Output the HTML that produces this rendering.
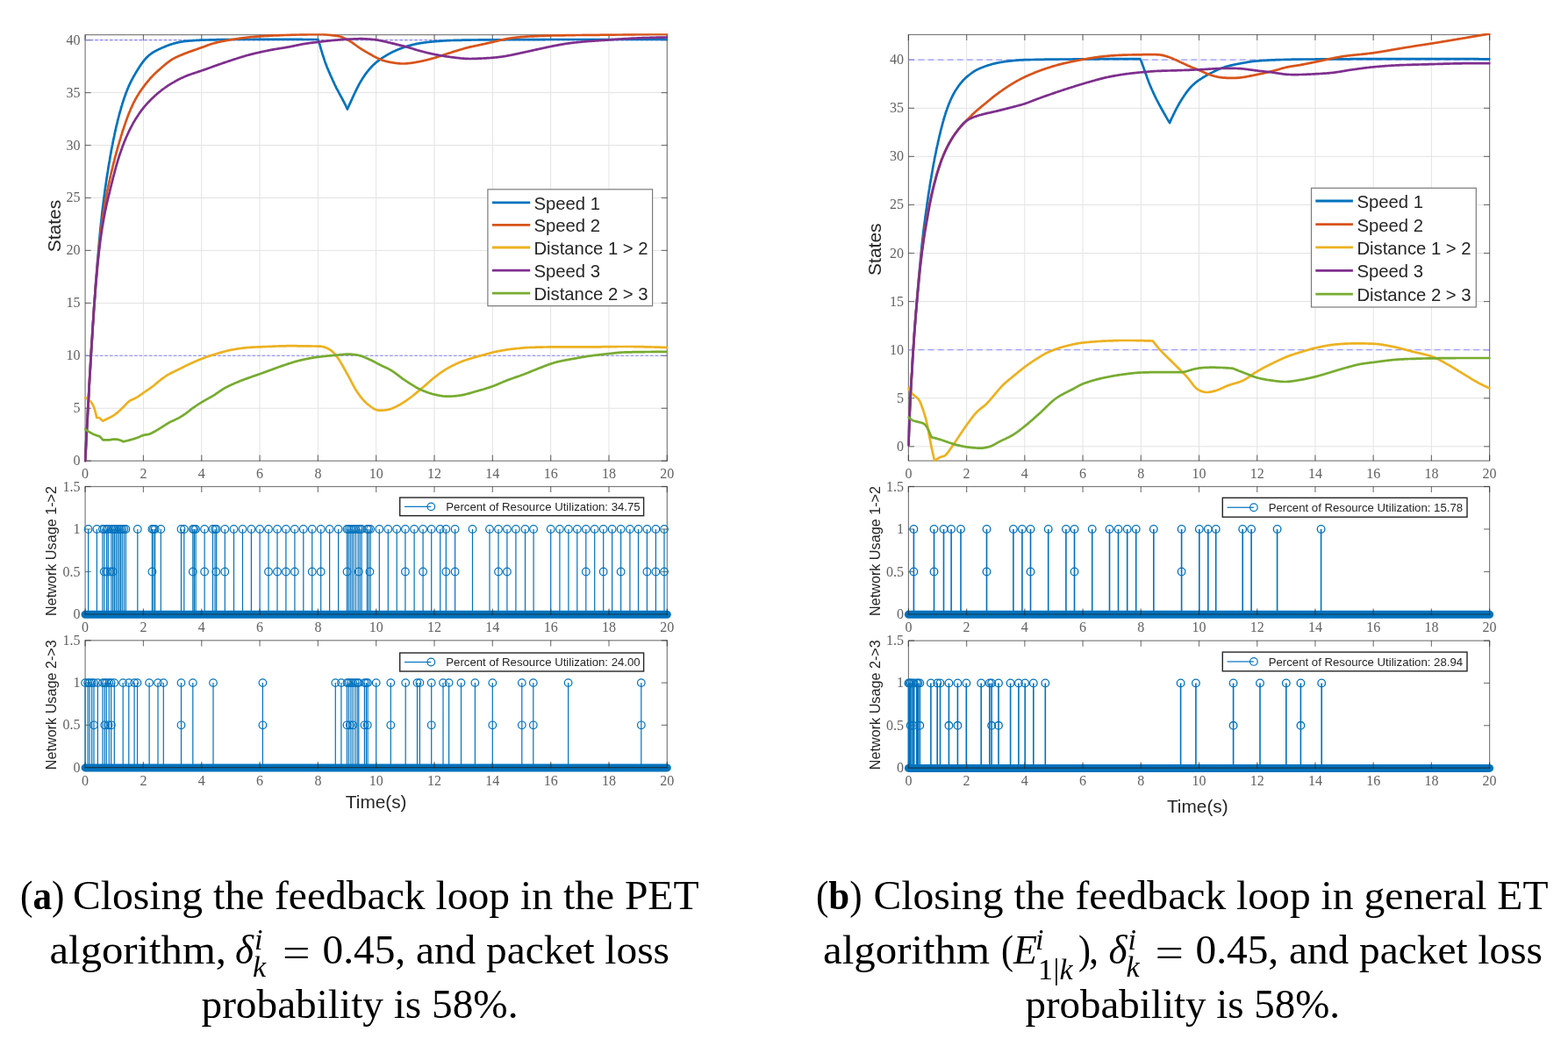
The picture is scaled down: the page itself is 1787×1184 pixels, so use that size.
<!DOCTYPE html>
<html><head><meta charset="utf-8"><title>Figure</title>
<style>html,body{margin:0;padding:0;background:#fff;}svg{display:block;}</style>
</head><body>
<svg width="1787" height="1184" viewBox="0 0 1787 1184">
<rect width="1787" height="1184" fill="#fff"/>
<clipPath id="cA"><rect x="96.1" y="38.15" width="665.2" height="488.55"/></clipPath>
<g stroke="#e3e3e3" stroke-width="1"><line x1="163.42" y1="39.65" x2="163.42" y2="525.2"/><line x1="229.74" y1="39.65" x2="229.74" y2="525.2"/><line x1="296.06" y1="39.65" x2="296.06" y2="525.2"/><line x1="362.38" y1="39.65" x2="362.38" y2="525.2"/><line x1="428.7" y1="39.65" x2="428.7" y2="525.2"/><line x1="495.02" y1="39.65" x2="495.02" y2="525.2"/><line x1="561.34" y1="39.65" x2="561.34" y2="525.2"/><line x1="627.66" y1="39.65" x2="627.66" y2="525.2"/><line x1="693.98" y1="39.65" x2="693.98" y2="525.2"/><line x1="97.1" y1="465.26" x2="760.3" y2="465.26"/><line x1="97.1" y1="405.31" x2="760.3" y2="405.31"/><line x1="97.1" y1="345.37" x2="760.3" y2="345.37"/><line x1="97.1" y1="285.42" x2="760.3" y2="285.42"/><line x1="97.1" y1="225.48" x2="760.3" y2="225.48"/><line x1="97.1" y1="165.53" x2="760.3" y2="165.53"/><line x1="97.1" y1="105.59" x2="760.3" y2="105.59"/><line x1="97.1" y1="45.64" x2="760.3" y2="45.64"/></g>
<g stroke="#262626" stroke-opacity="0.6" stroke-width="1.2" fill="none"><rect x="97.1" y="39.65" width="663.2" height="485.55" fill="none"/><line x1="97.1" y1="525.2" x2="97.1" y2="518.6"/><line x1="97.1" y1="39.65" x2="97.1" y2="46.25"/><line x1="163.42" y1="525.2" x2="163.42" y2="518.6"/><line x1="163.42" y1="39.65" x2="163.42" y2="46.25"/><line x1="229.74" y1="525.2" x2="229.74" y2="518.6"/><line x1="229.74" y1="39.65" x2="229.74" y2="46.25"/><line x1="296.06" y1="525.2" x2="296.06" y2="518.6"/><line x1="296.06" y1="39.65" x2="296.06" y2="46.25"/><line x1="362.38" y1="525.2" x2="362.38" y2="518.6"/><line x1="362.38" y1="39.65" x2="362.38" y2="46.25"/><line x1="428.7" y1="525.2" x2="428.7" y2="518.6"/><line x1="428.7" y1="39.65" x2="428.7" y2="46.25"/><line x1="495.02" y1="525.2" x2="495.02" y2="518.6"/><line x1="495.02" y1="39.65" x2="495.02" y2="46.25"/><line x1="561.34" y1="525.2" x2="561.34" y2="518.6"/><line x1="561.34" y1="39.65" x2="561.34" y2="46.25"/><line x1="627.66" y1="525.2" x2="627.66" y2="518.6"/><line x1="627.66" y1="39.65" x2="627.66" y2="46.25"/><line x1="693.98" y1="525.2" x2="693.98" y2="518.6"/><line x1="693.98" y1="39.65" x2="693.98" y2="46.25"/><line x1="760.3" y1="525.2" x2="760.3" y2="518.6"/><line x1="760.3" y1="39.65" x2="760.3" y2="46.25"/><line x1="97.1" y1="525.2" x2="103.7" y2="525.2"/><line x1="760.3" y1="525.2" x2="753.7" y2="525.2"/><line x1="97.1" y1="465.26" x2="103.7" y2="465.26"/><line x1="760.3" y1="465.26" x2="753.7" y2="465.26"/><line x1="97.1" y1="405.31" x2="103.7" y2="405.31"/><line x1="760.3" y1="405.31" x2="753.7" y2="405.31"/><line x1="97.1" y1="345.37" x2="103.7" y2="345.37"/><line x1="760.3" y1="345.37" x2="753.7" y2="345.37"/><line x1="97.1" y1="285.42" x2="103.7" y2="285.42"/><line x1="760.3" y1="285.42" x2="753.7" y2="285.42"/><line x1="97.1" y1="225.48" x2="103.7" y2="225.48"/><line x1="760.3" y1="225.48" x2="753.7" y2="225.48"/><line x1="97.1" y1="165.53" x2="103.7" y2="165.53"/><line x1="760.3" y1="165.53" x2="753.7" y2="165.53"/><line x1="97.1" y1="105.59" x2="103.7" y2="105.59"/><line x1="760.3" y1="105.59" x2="753.7" y2="105.59"/><line x1="97.1" y1="45.64" x2="103.7" y2="45.64"/><line x1="760.3" y1="45.64" x2="753.7" y2="45.64"/></g>
<g font-family="'Liberation Serif', serif" font-size="16" fill="#626262"><text x="97.1" y="544.7" text-anchor="middle">0</text><text x="163.42" y="544.7" text-anchor="middle">2</text><text x="229.74" y="544.7" text-anchor="middle">4</text><text x="296.06" y="544.7" text-anchor="middle">6</text><text x="362.38" y="544.7" text-anchor="middle">8</text><text x="428.7" y="544.7" text-anchor="middle">10</text><text x="495.02" y="544.7" text-anchor="middle">12</text><text x="561.34" y="544.7" text-anchor="middle">14</text><text x="627.66" y="544.7" text-anchor="middle">16</text><text x="693.98" y="544.7" text-anchor="middle">18</text><text x="760.3" y="544.7" text-anchor="middle">20</text><text x="91.5" y="530.2" text-anchor="end">0</text><text x="91.5" y="470.26" text-anchor="end">5</text><text x="91.5" y="410.31" text-anchor="end">10</text><text x="91.5" y="350.37" text-anchor="end">15</text><text x="91.5" y="290.42" text-anchor="end">20</text><text x="91.5" y="230.48" text-anchor="end">25</text><text x="91.5" y="170.53" text-anchor="end">30</text><text x="91.5" y="110.59" text-anchor="end">35</text><text x="91.5" y="50.64" text-anchor="end">40</text></g>
<line x1="97.1" y1="45.64" x2="760.3" y2="45.64" stroke="#7f7fff" stroke-width="1.1" stroke-dasharray="3.4,2.2"/>
<line x1="97.1" y1="405.31" x2="760.3" y2="405.31" stroke="#7f7fff" stroke-width="1.1" stroke-dasharray="3.4,2.2"/>
<polyline points="97.1,525.2 97.8,512.1 98.4,499.3 99.1,486.8 99.8,474.6 100.4,462.6 101.1,450.9 101.7,439.0 102.4,427.3 103.1,415.8 103.7,404.6 104.4,393.7 105.1,383.0 105.7,372.5 106.4,362.4 107.0,352.5 107.7,342.8 108.4,333.5 109.0,324.4 109.7,315.6 110.4,307.1 111.0,298.9 111.7,291.0 112.4,283.3 113.0,275.9 113.7,268.8 114.3,262.0 115.0,255.5 115.7,249.2 116.3,243.2 117.0,237.5 117.7,232.0 118.3,226.7 119.0,221.6 119.6,216.7 120.3,212.0 121.0,207.4 121.6,203.0 122.3,198.7 123.0,194.5 123.6,190.3 124.3,186.3 125.0,182.4 125.6,178.5 126.3,174.8 126.9,171.2 127.6,167.7 128.3,164.3 128.9,160.9 129.6,157.7 130.3,154.5 130.9,151.4 131.6,148.4 132.2,145.5 132.9,142.6 133.6,139.8 134.2,137.1 134.9,134.5 135.6,131.9 136.2,129.4 136.9,127.0 137.6,124.6 138.2,122.3 138.9,120.1 139.5,118.0 140.2,115.9 140.9,113.8 141.5,111.9 142.2,109.9 142.9,108.1 143.5,106.3 144.2,104.5 144.9,102.8 145.5,101.2 146.2,99.6 146.8,98.1 147.5,96.6 148.2,95.2 148.8,93.8 149.5,92.5 150.2,91.2 150.8,89.9 151.5,88.7 152.1,87.5 152.8,86.3 153.5,85.2 154.1,84.1 154.8,82.9 155.5,81.8 156.1,80.7 156.8,79.6 157.5,78.6 158.1,77.5 158.8,76.5 159.4,75.4 160.1,74.4 160.8,73.5 161.4,72.5 162.1,71.6 162.8,70.7 163.4,69.9 164.1,69.0 164.7,68.2 165.4,67.5 166.1,66.7 166.7,66.0 167.4,65.3 168.1,64.7 168.7,64.0 169.4,63.4 170.1,62.8 170.7,62.3 171.4,61.8 172.0,61.3 172.7,60.8 173.4,60.3 174.0,59.9 174.7,59.5 175.4,59.1 176.0,58.7 176.7,58.4 177.3,58.0 178.0,57.7 178.7,57.3 179.3,57.0 180.0,56.7 180.7,56.3 181.3,56.0 182.0,55.7 182.7,55.4 183.3,55.1 184.0,54.8 184.6,54.5 185.3,54.3 186.0,54.0 186.6,53.7 187.3,53.4 188.0,53.1 188.6,52.9 189.3,52.6 189.9,52.3 190.6,52.1 191.3,51.8 191.9,51.6 192.6,51.3 193.3,51.1 193.9,50.8 194.6,50.6 195.3,50.4 195.9,50.2 196.6,50.0 197.2,49.8 197.9,49.6 198.6,49.4 199.2,49.2 199.9,49.1 200.6,48.9 201.2,48.7 201.9,48.6 202.5,48.4 203.2,48.3 203.9,48.1 204.5,48.0 205.2,47.8 205.9,47.7 206.5,47.6 207.2,47.5 207.9,47.4 208.5,47.3 209.2,47.2 209.8,47.1 210.5,47.0 211.2,47.0 211.8,46.9 212.5,46.8 213.2,46.8 213.8,46.7 214.5,46.6 215.1,46.6 215.8,46.5 216.5,46.5 217.1,46.4 217.8,46.4 218.5,46.3 219.1,46.3 219.8,46.2 220.5,46.1 221.1,46.1 221.8,46.1 222.4,46.0 223.1,46.0 223.8,45.9 224.4,45.9 225.1,45.9 225.8,45.8 226.4,45.8 227.1,45.8 227.8,45.7 228.4,45.7 229.1,45.7 229.7,45.7 230.4,45.6 231.1,45.6 231.7,45.6 232.4,45.6 233.1,45.6 233.7,45.6 234.4,45.5 235.0,45.5 235.7,45.5 236.4,45.5 237.0,45.5 237.7,45.5 238.4,45.4 239.0,45.4 239.7,45.4 240.4,45.4 241.0,45.4 241.7,45.4 242.3,45.4 243.0,45.3 243.7,45.3 244.3,45.3 245.0,45.3 245.7,45.3 246.3,45.3 247.0,45.3 247.6,45.2 248.3,45.2 249.0,45.2 249.6,45.2 250.3,45.2 251.0,45.2 251.6,45.2 252.3,45.2 253.0,45.1 253.6,45.1 254.3,45.1 254.9,45.1 255.6,45.1 256.3,45.1 256.9,45.1 257.6,45.1 258.3,45.1 258.9,45.1 259.6,45.1 260.2,45.1 260.9,45.1 261.6,45.1 262.2,45.0 262.9,45.0 263.6,45.0 264.2,45.0 264.9,45.0 265.6,45.0 266.2,45.0 266.9,45.0 267.5,45.0 268.2,45.0 268.9,45.0 269.5,45.0 270.2,45.0 270.9,45.0 271.5,45.0 272.2,45.0 272.8,45.0 273.5,45.0 274.2,45.0 274.8,45.0 275.5,45.0 276.2,45.0 276.8,45.0 277.5,45.0 278.2,45.0 278.8,45.0 279.5,45.0 280.1,45.0 280.8,45.0 281.5,45.0 282.1,45.0 282.8,45.0 283.5,45.0 284.1,45.0 284.8,45.0 285.4,45.0 286.1,45.0 286.8,45.0 287.4,45.0 288.1,45.0 288.8,44.9 289.4,44.9 290.1,44.9 290.8,44.9 291.4,44.9 292.1,44.9 292.7,44.9 293.4,44.9 294.1,44.9 294.7,44.9 295.4,44.9 296.1,44.9 296.7,44.9 297.4,44.9 298.0,44.9 298.7,44.9 299.4,44.9 300.0,44.9 300.7,44.9 301.4,44.9 302.0,44.9 302.7,44.9 303.4,44.9 304.0,44.9 304.7,44.9 305.3,44.9 306.0,44.9 306.7,44.9 307.3,44.9 308.0,44.9 308.7,44.9 309.3,44.9 310.0,44.9 310.7,44.9 311.3,44.9 312.0,44.9 312.6,44.9 313.3,44.9 314.0,44.9 314.6,44.9 315.3,44.9 316.0,44.9 316.6,44.9 317.3,44.9 317.9,44.9 318.6,44.9 319.3,44.9 319.9,44.9 320.6,44.9 321.3,44.9 321.9,44.9 322.6,44.9 323.3,44.9 323.9,44.9 324.6,44.9 325.2,44.9 325.9,44.9 326.6,44.9 327.2,44.9 327.9,44.9 328.6,44.9 329.2,44.9 329.9,44.9 330.5,44.9 331.2,44.9 331.9,44.9 332.5,44.9 333.2,44.9 333.9,44.9 334.5,44.9 335.2,44.9 335.9,44.9 336.5,44.9 337.2,44.9 337.8,44.9 338.5,44.9 339.2,44.9 339.8,44.9 340.5,44.9 341.2,44.9 341.8,44.9 342.5,44.9 343.1,44.9 343.8,44.9 344.5,44.9 345.1,45.0 345.8,45.0 346.5,45.0 347.1,45.0 347.8,45.0 348.5,45.0 349.1,45.0 349.8,45.0 350.4,45.0 351.1,45.0 351.8,45.0 352.4,45.0 353.1,45.0 353.8,45.0 354.4,45.0 355.1,45.0 355.7,45.0 356.4,45.0 357.1,45.0 357.7,45.0 358.4,45.0 359.1,45.0 359.7,45.0 360.4,45.0 361.1,45.0 361.7,45.0 362.4,45.0 362.4,45.0 363.0,46.7 363.7,48.7 364.4,50.9 365.1,53.3 365.7,55.7 366.4,57.9 367.1,60.1 367.7,62.2 368.4,64.3 369.1,66.4 369.7,68.4 370.4,70.4 371.1,72.2 371.8,74.0 372.4,75.7 373.1,77.4 373.8,79.0 374.4,80.5 375.1,82.1 375.8,83.6 376.4,85.2 377.1,86.7 377.8,88.2 378.5,89.7 379.1,91.2 379.8,92.7 380.5,94.1 381.1,95.6 381.8,97.0 382.5,98.4 383.1,99.8 383.8,101.1 384.5,102.4 385.2,103.7 385.8,104.9 386.5,106.1 387.2,107.4 387.8,108.6 388.5,109.8 389.2,111.0 389.8,112.2 390.5,113.5 391.2,114.8 391.9,116.1 392.5,117.3 393.2,118.7 393.9,120.0 394.5,121.5 395.2,123.0 395.9,124.5 395.9,124.5 396.5,123.0 397.2,121.5 397.9,120.1 398.5,118.6 399.2,117.1 399.9,115.7 400.5,114.2 401.2,112.8 401.8,111.3 402.5,109.9 403.2,108.4 403.8,107.0 404.5,105.6 405.2,104.2 405.8,102.8 406.5,101.5 407.2,100.1 407.8,98.8 408.5,97.6 409.1,96.3 409.8,95.1 410.5,93.9 411.1,92.8 411.8,91.7 412.5,90.6 413.1,89.5 413.8,88.5 414.5,87.5 415.1,86.5 415.8,85.6 416.4,84.6 417.1,83.7 417.8,82.8 418.4,82.0 419.1,81.1 419.8,80.3 420.4,79.5 421.1,78.7 421.8,78.0 422.4,77.2 423.1,76.5 423.8,75.8 424.4,75.1 425.1,74.4 425.7,73.8 426.4,73.2 427.1,72.6 427.7,72.0 428.4,71.4 429.1,70.8 429.7,70.3 430.4,69.8 431.1,69.3 431.7,68.8 432.4,68.3 433.0,67.8 433.7,67.3 434.4,66.9 435.0,66.4 435.7,66.0 436.4,65.5 437.0,65.1 437.7,64.7 438.4,64.3 439.0,63.9 439.7,63.5 440.3,63.1 441.0,62.7 441.7,62.3 442.3,61.9 443.0,61.6 443.7,61.2 444.3,60.8 445.0,60.5 445.7,60.1 446.3,59.8 447.0,59.5 447.6,59.1 448.3,58.8 449.0,58.5 449.6,58.2 450.3,57.9 451.0,57.6 451.6,57.3 452.3,57.0 453.0,56.7 453.6,56.4 454.3,56.2 455.0,55.9 455.6,55.6 456.3,55.4 456.9,55.1 457.6,54.9 458.3,54.6 458.9,54.4 459.6,54.1 460.3,53.9 460.9,53.7 461.6,53.5 462.3,53.3 462.9,53.0 463.6,52.8 464.2,52.6 464.9,52.4 465.6,52.2 466.2,52.1 466.9,51.9 467.6,51.7 468.2,51.5 468.9,51.3 469.6,51.2 470.2,51.0 470.9,50.8 471.5,50.7 472.2,50.5 472.9,50.4 473.5,50.2 474.2,50.1 474.9,49.9 475.5,49.8 476.2,49.7 476.9,49.5 477.5,49.4 478.2,49.3 478.8,49.2 479.5,49.1 480.2,49.0 480.8,48.9 481.5,48.8 482.2,48.7 482.8,48.6 483.5,48.5 484.2,48.5 484.8,48.4 485.5,48.3 486.1,48.2 486.8,48.1 487.5,48.0 488.1,48.0 488.8,47.9 489.5,47.8 490.1,47.7 490.8,47.7 491.5,47.6 492.1,47.5 492.8,47.5 493.5,47.4 494.1,47.3 494.8,47.3 495.4,47.2 496.1,47.2 496.8,47.1 497.4,47.1 498.1,47.0 498.8,47.0 499.4,46.9 500.1,46.9 500.8,46.8 501.4,46.8 502.1,46.7 502.7,46.7 503.4,46.6 504.1,46.6 504.7,46.5 505.4,46.5 506.1,46.4 506.7,46.4 507.4,46.3 508.1,46.3 508.7,46.3 509.4,46.2 510.0,46.2 510.7,46.2 511.4,46.1 512.0,46.1 512.7,46.1 513.4,46.1 514.0,46.0 514.7,46.0 515.4,46.0 516.0,46.0 516.7,46.0 517.3,45.9 518.0,45.9 518.7,45.9 519.3,45.9 520.0,45.9 520.7,45.9 521.3,45.9 522.0,45.8 522.7,45.8 523.3,45.8 524.0,45.8 524.6,45.8 525.3,45.8 526.0,45.8 526.6,45.7 527.3,45.7 528.0,45.7 528.6,45.7 529.3,45.7 530.0,45.7 530.6,45.7 531.3,45.6 532.0,45.6 532.6,45.6 533.3,45.6 533.9,45.6 534.6,45.6 535.3,45.6 535.9,45.6 536.6,45.6 537.3,45.5 537.9,45.5 538.6,45.5 539.3,45.5 539.9,45.5 540.6,45.5 541.2,45.5 541.9,45.5 542.6,45.5 543.2,45.5 543.9,45.5 544.6,45.5 545.2,45.4 545.9,45.4 546.6,45.4 547.2,45.4 547.9,45.4 548.5,45.4 549.2,45.4 549.9,45.4 550.5,45.4 551.2,45.4 551.9,45.4 552.5,45.4 553.2,45.4 553.9,45.4 554.5,45.4 555.2,45.4 555.8,45.4 556.5,45.4 557.2,45.4 557.8,45.4 558.5,45.4 559.2,45.3 559.8,45.3 560.5,45.3 561.2,45.3 561.8,45.3 562.5,45.3 563.2,45.3 563.8,45.3 564.5,45.3 565.1,45.3 565.8,45.3 566.5,45.3 567.1,45.3 567.8,45.3 568.5,45.3 569.1,45.3 569.8,45.3 570.5,45.3 571.1,45.3 571.8,45.3 572.4,45.3 573.1,45.3 573.8,45.3 574.4,45.3 575.1,45.3 575.8,45.3 576.4,45.2 577.1,45.2 577.8,45.2 578.4,45.2 579.1,45.2 579.7,45.2 580.4,45.2 581.1,45.2 581.7,45.2 582.4,45.2 583.1,45.2 583.7,45.2 584.4,45.2 585.1,45.2 585.7,45.2 586.4,45.2 587.0,45.2 587.7,45.2 588.4,45.2 589.0,45.2 589.7,45.2 590.4,45.2 591.0,45.2 591.7,45.2 592.4,45.2 593.0,45.2 593.7,45.2 594.3,45.1 595.0,45.1 595.7,45.1 596.3,45.1 597.0,45.1 597.7,45.1 598.3,45.1 599.0,45.1 599.7,45.1 600.3,45.1 601.0,45.1 601.7,45.1 602.3,45.1 603.0,45.1 603.6,45.1 604.3,45.1 605.0,45.1 605.6,45.1 606.3,45.1 607.0,45.1 607.6,45.1 608.3,45.1 609.0,45.1 609.6,45.1 610.3,45.1 610.9,45.1 611.6,45.1 612.3,45.1 612.9,45.1 613.6,45.1 614.3,45.1 614.9,45.1 615.6,45.1 616.3,45.1 616.9,45.1 617.6,45.1 618.2,45.1 618.9,45.1 619.6,45.1 620.2,45.1 620.9,45.1 621.6,45.1 622.2,45.0 622.9,45.0 623.6,45.0 624.2,45.0 624.9,45.0 625.5,45.0 626.2,45.0 626.9,45.0 627.5,45.0 628.2,45.0 628.9,45.0 629.5,45.0 630.2,45.0 630.9,45.0 631.5,45.0 632.2,45.0 632.8,45.0 633.5,45.0 634.2,45.0 634.8,45.0 635.5,45.0 636.2,45.0 636.8,45.0 637.5,45.0 638.2,45.0 638.8,45.0 639.5,45.0 640.2,45.0 640.8,45.0 641.5,45.0 642.1,45.0 642.8,45.0 643.5,45.0 644.1,45.0 644.8,45.0 645.5,45.0 646.1,45.0 646.8,45.0 647.5,45.0 648.1,45.0 648.8,45.0 649.4,45.0 650.1,45.0 650.8,45.0 651.4,45.0 652.1,45.0 652.8,45.0 653.4,45.0 654.1,45.0 654.8,45.0 655.4,45.0 656.1,45.0 656.7,45.0 657.4,45.0 658.1,45.0 658.7,45.0 659.4,45.0 660.1,45.0 660.7,45.0 661.4,45.0 662.1,45.0 662.7,45.0 663.4,45.0 664.0,45.0 664.7,45.0 665.4,45.0 666.0,45.0 666.7,45.0 667.4,45.0 668.0,45.0 668.7,45.0 669.4,45.0 670.0,45.0 670.7,45.0 671.4,45.0 672.0,45.0 672.7,45.0 673.3,45.0 674.0,45.0 674.7,45.0 675.3,45.0 676.0,45.0 676.7,45.0 677.3,45.0 678.0,45.0 678.7,45.0 679.3,45.0 680.0,45.0 680.6,45.0 681.3,45.0 682.0,45.0 682.6,45.0 683.3,45.0 684.0,45.0 684.6,45.0 685.3,45.0 686.0,45.0 686.6,45.0 687.3,45.0 687.9,45.0 688.6,45.0 689.3,45.0 689.9,45.0 690.6,45.0 691.3,45.0 691.9,45.0 692.6,45.0 693.3,45.0 693.9,45.0 694.6,45.0 695.2,45.0 695.9,45.0 696.6,45.0 697.2,45.0 697.9,45.0 698.6,45.0 699.2,45.0 699.9,45.0 700.6,45.0 701.2,45.0 701.9,45.0 702.5,45.0 703.2,45.0 703.9,45.0 704.5,45.0 705.2,45.0 705.9,45.0 706.5,45.0 707.2,45.0 707.9,45.0 708.5,45.0 709.2,45.0 709.9,45.0 710.5,45.0 711.2,45.0 711.8,45.0 712.5,45.0 713.2,45.0 713.8,45.0 714.5,45.0 715.2,45.0 715.8,45.0 716.5,45.0 717.2,45.0 717.8,45.0 718.5,45.0 719.1,45.0 719.8,45.0 720.5,45.0 721.1,45.0 721.8,45.0 722.5,45.0 723.1,45.0 723.8,45.0 724.5,45.0 725.1,45.0 725.8,45.0 726.4,45.0 727.1,45.0 727.8,45.0 728.4,45.0 729.1,45.0 729.8,45.0 730.4,45.0 731.1,45.0 731.8,45.0 732.4,45.0 733.1,45.0 733.7,45.0 734.4,45.0 735.1,45.0 735.7,45.0 736.4,45.0 737.1,45.0 737.7,45.0 738.4,45.0 739.1,45.0 739.7,45.0 740.4,45.0 741.0,45.0 741.7,45.0 742.4,45.0 743.0,45.0 743.7,45.0 744.4,45.0 745.0,45.0 745.7,45.0 746.4,45.0 747.0,45.0 747.7,45.0 748.4,45.0 749.0,45.0 749.7,45.0 750.3,45.0 751.0,45.0 751.7,45.0 752.3,45.0 753.0,45.0 753.7,45.0 754.3,45.0 755.0,45.0 755.7,45.0 756.3,45.0 757.0,45.0 757.6,45.0 758.3,45.0 759.0,45.0 759.6,45.0 760.3,45.0" fill="none" stroke="#0072BD" stroke-width="2.7" stroke-linejoin="round" stroke-linecap="round" clip-path="url(#cA)"/>
<polyline points="97.1,525.2 97.8,512.1 98.4,499.3 99.1,486.8 99.8,474.6 100.4,462.6 101.1,450.9 101.7,438.9 102.4,427.2 103.1,415.8 103.7,404.6 104.4,393.6 105.1,383.0 105.7,372.6 106.4,362.6 107.0,352.8 107.7,343.4 108.4,334.3 109.0,325.7 109.7,317.4 110.4,309.5 111.0,302.0 111.7,294.9 112.4,288.0 113.0,281.5 113.7,275.3 114.3,269.5 115.0,264.0 115.7,258.8 116.3,253.8 117.0,249.1 117.7,244.5 118.3,240.2 119.0,236.1 119.6,232.1 120.3,228.3 121.0,224.7 121.6,221.2 122.3,217.8 123.0,214.5 123.6,211.3 124.3,208.2 125.0,205.1 125.6,202.1 126.3,199.2 126.9,196.3 127.6,193.5 128.3,190.8 128.9,188.1 129.6,185.4 130.3,182.8 130.9,180.2 131.6,177.7 132.2,175.2 132.9,172.8 133.6,170.4 134.2,168.0 134.9,165.7 135.6,163.4 136.2,161.2 136.9,158.9 137.6,156.7 138.2,154.5 138.9,152.4 139.5,150.3 140.2,148.2 140.9,146.2 141.5,144.1 142.2,142.2 142.9,140.2 143.5,138.3 144.2,136.5 144.9,134.6 145.5,132.9 146.2,131.1 146.8,129.4 147.5,127.8 148.2,126.2 148.8,124.6 149.5,123.1 150.2,121.6 150.8,120.2 151.5,118.8 152.1,117.4 152.8,116.1 153.5,114.8 154.1,113.6 154.8,112.3 155.5,111.2 156.1,110.0 156.8,108.9 157.5,107.9 158.1,106.8 158.8,105.8 159.4,104.8 160.1,103.8 160.8,102.9 161.4,101.9 162.1,101.0 162.8,100.1 163.4,99.2 164.1,98.3 164.7,97.4 165.4,96.5 166.1,95.7 166.7,94.8 167.4,94.0 168.1,93.2 168.7,92.4 169.4,91.6 170.1,90.8 170.7,90.0 171.4,89.3 172.0,88.5 172.7,87.8 173.4,87.1 174.0,86.4 174.7,85.7 175.4,85.1 176.0,84.4 176.7,83.8 177.3,83.1 178.0,82.5 178.7,81.9 179.3,81.3 180.0,80.7 180.7,80.1 181.3,79.5 182.0,78.9 182.7,78.3 183.3,77.8 184.0,77.2 184.6,76.6 185.3,76.0 186.0,75.5 186.6,74.9 187.3,74.4 188.0,73.8 188.6,73.2 189.3,72.7 189.9,72.1 190.6,71.6 191.3,71.1 191.9,70.6 192.6,70.1 193.3,69.6 193.9,69.1 194.6,68.7 195.3,68.2 195.9,67.8 196.6,67.4 197.2,67.0 197.9,66.7 198.6,66.3 199.2,66.0 199.9,65.6 200.6,65.3 201.2,65.0 201.9,64.7 202.5,64.4 203.2,64.1 203.9,63.8 204.5,63.5 205.2,63.2 205.9,62.9 206.5,62.7 207.2,62.4 207.9,62.1 208.5,61.9 209.2,61.6 209.8,61.3 210.5,61.1 211.2,60.8 211.8,60.6 212.5,60.3 213.2,60.1 213.8,59.8 214.5,59.6 215.1,59.3 215.8,59.1 216.5,58.8 217.1,58.6 217.8,58.4 218.5,58.1 219.1,57.9 219.8,57.6 220.5,57.4 221.1,57.2 221.8,56.9 222.4,56.7 223.1,56.5 223.8,56.2 224.4,56.0 225.1,55.8 225.8,55.5 226.4,55.3 227.1,55.1 227.8,54.8 228.4,54.6 229.1,54.4 229.7,54.1 230.4,53.9 231.1,53.7 231.7,53.4 232.4,53.2 233.1,52.9 233.7,52.7 234.4,52.4 235.0,52.2 235.7,51.9 236.4,51.7 237.0,51.4 237.7,51.2 238.4,51.0 239.0,50.7 239.7,50.5 240.4,50.3 241.0,50.1 241.7,49.9 242.3,49.7 243.0,49.5 243.7,49.3 244.3,49.1 245.0,48.9 245.7,48.8 246.3,48.6 247.0,48.4 247.6,48.3 248.3,48.1 249.0,48.0 249.6,47.8 250.3,47.7 251.0,47.5 251.6,47.4 252.3,47.2 253.0,47.1 253.6,47.0 254.3,46.8 254.9,46.7 255.6,46.6 256.3,46.5 256.9,46.3 257.6,46.2 258.3,46.1 258.9,46.0 259.6,45.9 260.2,45.8 260.9,45.6 261.6,45.5 262.2,45.4 262.9,45.3 263.6,45.2 264.2,45.1 264.9,45.0 265.6,44.9 266.2,44.8 266.9,44.7 267.5,44.6 268.2,44.5 268.9,44.4 269.5,44.3 270.2,44.2 270.9,44.1 271.5,44.0 272.2,43.9 272.8,43.8 273.5,43.7 274.2,43.6 274.8,43.5 275.5,43.4 276.2,43.3 276.8,43.3 277.5,43.2 278.2,43.1 278.8,43.0 279.5,42.9 280.1,42.8 280.8,42.8 281.5,42.7 282.1,42.6 282.8,42.5 283.5,42.5 284.1,42.4 284.8,42.3 285.4,42.3 286.1,42.2 286.8,42.2 287.4,42.1 288.1,42.0 288.8,42.0 289.4,41.9 290.1,41.9 290.8,41.8 291.4,41.7 292.1,41.7 292.7,41.6 293.4,41.6 294.1,41.5 294.7,41.5 295.4,41.4 296.1,41.4 296.7,41.3 297.4,41.3 298.0,41.2 298.7,41.2 299.4,41.1 300.0,41.1 300.7,41.1 301.4,41.0 302.0,41.0 302.7,40.9 303.4,40.9 304.0,40.9 304.7,40.8 305.3,40.8 306.0,40.8 306.7,40.7 307.3,40.7 308.0,40.7 308.7,40.6 309.3,40.6 310.0,40.6 310.7,40.6 311.3,40.5 312.0,40.5 312.6,40.5 313.3,40.4 314.0,40.4 314.6,40.4 315.3,40.4 316.0,40.3 316.6,40.3 317.3,40.3 317.9,40.3 318.6,40.2 319.3,40.2 319.9,40.2 320.6,40.1 321.3,40.1 321.9,40.1 322.6,40.1 323.3,40.0 323.9,40.0 324.6,40.0 325.2,40.0 325.9,40.0 326.6,39.9 327.2,39.9 327.9,39.9 328.6,39.9 329.2,39.8 329.9,39.8 330.5,39.8 331.2,39.8 331.9,39.7 332.5,39.7 333.2,39.7 333.9,39.7 334.5,39.7 335.2,39.6 335.9,39.6 336.5,39.6 337.2,39.6 337.8,39.6 338.5,39.5 339.2,39.5 339.8,39.5 340.5,39.5 341.2,39.5 341.8,39.4 342.5,39.4 343.1,39.4 343.8,39.4 344.5,39.4 345.1,39.4 345.8,39.3 346.5,39.3 347.1,39.3 347.8,39.3 348.5,39.3 349.1,39.3 349.8,39.3 350.4,39.2 351.1,39.2 351.8,39.2 352.4,39.2 353.1,39.2 353.8,39.2 354.4,39.2 355.1,39.2 355.7,39.1 356.4,39.1 357.1,39.1 357.7,39.1 358.4,39.1 359.1,39.1 359.7,39.1 360.4,39.1 361.1,39.1 361.7,39.1 362.4,39.1 363.0,39.1 363.7,39.1 364.4,39.1 365.0,39.1 365.7,39.1 366.4,39.1 367.0,39.2 367.7,39.2 368.3,39.2 369.0,39.3 369.7,39.3 370.3,39.4 371.0,39.4 371.7,39.5 372.3,39.5 373.0,39.6 373.7,39.6 374.3,39.7 375.0,39.8 375.6,39.9 376.3,39.9 377.0,40.0 377.6,40.1 378.3,40.2 379.0,40.3 379.6,40.3 380.3,40.4 380.9,40.5 381.6,40.6 382.3,40.7 382.9,40.8 383.6,40.9 384.3,41.0 384.9,41.1 385.6,41.2 386.3,41.4 386.9,41.5 387.6,41.7 388.2,41.9 388.9,42.1 389.6,42.3 390.2,42.6 390.9,42.8 391.6,43.1 392.2,43.4 392.9,43.7 393.6,44.0 394.2,44.3 394.9,44.7 395.5,45.0 396.2,45.4 396.9,45.7 397.5,46.1 398.2,46.5 398.9,46.9 399.5,47.3 400.2,47.7 400.8,48.2 401.5,48.6 402.2,49.1 402.8,49.6 403.5,50.1 404.2,50.5 404.8,51.0 405.5,51.5 406.2,52.0 406.8,52.5 407.5,53.0 408.1,53.4 408.8,53.9 409.5,54.3 410.1,54.8 410.8,55.2 411.5,55.6 412.1,56.1 412.8,56.5 413.4,56.9 414.1,57.3 414.8,57.7 415.4,58.1 416.1,58.5 416.8,58.9 417.4,59.2 418.1,59.6 418.8,60.0 419.4,60.4 420.1,60.8 420.7,61.1 421.4,61.5 422.1,61.9 422.7,62.3 423.4,62.6 424.1,63.0 424.7,63.4 425.4,63.7 426.0,64.1 426.7,64.5 427.4,64.8 428.0,65.2 428.7,65.5 429.4,65.9 430.0,66.2 430.7,66.5 431.4,66.8 432.0,67.1 432.7,67.4 433.3,67.7 434.0,68.0 434.7,68.2 435.3,68.4 436.0,68.7 436.7,68.9 437.3,69.1 438.0,69.3 438.6,69.5 439.3,69.7 440.0,69.8 440.6,70.0 441.3,70.2 442.0,70.3 442.6,70.5 443.3,70.6 444.0,70.7 444.6,70.9 445.3,71.0 445.9,71.1 446.6,71.2 447.3,71.3 447.9,71.4 448.6,71.5 449.3,71.6 449.9,71.7 450.6,71.8 451.2,71.9 451.9,72.0 452.6,72.1 453.2,72.2 453.9,72.2 454.6,72.3 455.2,72.4 455.9,72.4 456.6,72.5 457.2,72.5 457.9,72.5 458.5,72.5 459.2,72.5 459.9,72.5 460.5,72.5 461.2,72.5 461.9,72.5 462.5,72.4 463.2,72.4 463.8,72.3 464.5,72.2 465.2,72.2 465.8,72.1 466.5,72.0 467.2,71.9 467.8,71.8 468.5,71.8 469.2,71.7 469.8,71.6 470.5,71.5 471.1,71.4 471.8,71.3 472.5,71.2 473.1,71.1 473.8,71.0 474.5,70.8 475.1,70.7 475.8,70.6 476.5,70.5 477.1,70.4 477.8,70.2 478.4,70.1 479.1,70.0 479.8,69.8 480.4,69.7 481.1,69.5 481.8,69.4 482.4,69.3 483.1,69.1 483.7,69.0 484.4,68.8 485.1,68.6 485.7,68.5 486.4,68.3 487.1,68.2 487.7,68.0 488.4,67.8 489.1,67.6 489.7,67.5 490.4,67.3 491.0,67.1 491.7,66.9 492.4,66.7 493.0,66.5 493.7,66.4 494.4,66.2 495.0,66.0 495.7,65.8 496.3,65.6 497.0,65.4 497.7,65.2 498.3,65.0 499.0,64.8 499.7,64.5 500.3,64.3 501.0,64.1 501.7,63.9 502.3,63.7 503.0,63.5 503.6,63.2 504.3,63.0 505.0,62.8 505.6,62.6 506.3,62.4 507.0,62.1 507.6,61.9 508.3,61.7 508.9,61.5 509.6,61.3 510.3,61.0 510.9,60.8 511.6,60.6 512.3,60.4 512.9,60.2 513.6,60.0 514.3,59.8 514.9,59.6 515.6,59.3 516.2,59.1 516.9,58.9 517.6,58.7 518.2,58.5 518.9,58.3 519.6,58.1 520.2,57.9 520.9,57.7 521.5,57.5 522.2,57.3 522.9,57.1 523.5,56.9 524.2,56.7 524.9,56.5 525.5,56.3 526.2,56.1 526.9,55.9 527.5,55.7 528.2,55.5 528.8,55.3 529.5,55.1 530.2,54.9 530.8,54.7 531.5,54.6 532.2,54.4 532.8,54.2 533.5,54.1 534.1,53.9 534.8,53.7 535.5,53.6 536.1,53.4 536.8,53.3 537.5,53.2 538.1,53.0 538.8,52.9 539.5,52.7 540.1,52.6 540.8,52.5 541.4,52.3 542.1,52.2 542.8,52.0 543.4,51.9 544.1,51.8 544.8,51.6 545.4,51.5 546.1,51.3 546.7,51.2 547.4,51.0 548.1,50.9 548.7,50.7 549.4,50.6 550.1,50.5 550.7,50.3 551.4,50.2 552.1,50.0 552.7,49.9 553.4,49.7 554.0,49.6 554.7,49.4 555.4,49.3 556.0,49.1 556.7,49.0 557.4,48.8 558.0,48.7 558.7,48.5 559.4,48.4 560.0,48.2 560.7,48.1 561.3,47.9 562.0,47.8 562.7,47.6 563.3,47.5 564.0,47.3 564.7,47.1 565.3,47.0 566.0,46.8 566.6,46.7 567.3,46.5 568.0,46.3 568.6,46.2 569.3,46.0 570.0,45.9 570.6,45.7 571.3,45.6 572.0,45.4 572.6,45.3 573.3,45.1 573.9,45.0 574.6,44.8 575.3,44.7 575.9,44.5 576.6,44.4 577.3,44.3 577.9,44.2 578.6,44.0 579.2,43.9 579.9,43.8 580.6,43.7 581.2,43.6 581.9,43.5 582.6,43.4 583.2,43.3 583.9,43.2 584.6,43.2 585.2,43.1 585.9,43.0 586.5,42.9 587.2,42.9 587.9,42.8 588.5,42.7 589.2,42.6 589.9,42.6 590.5,42.5 591.2,42.4 591.8,42.4 592.5,42.3 593.2,42.2 593.8,42.2 594.5,42.1 595.2,42.1 595.8,42.0 596.5,42.0 597.2,41.9 597.8,41.9 598.5,41.8 599.1,41.8 599.8,41.7 600.5,41.7 601.1,41.6 601.8,41.6 602.5,41.5 603.1,41.5 603.8,41.5 604.4,41.4 605.1,41.4 605.8,41.4 606.4,41.3 607.1,41.3 607.8,41.3 608.4,41.3 609.1,41.2 609.8,41.2 610.4,41.2 611.1,41.1 611.7,41.1 612.4,41.1 613.1,41.1 613.7,41.0 614.4,41.0 615.1,41.0 615.7,41.0 616.4,40.9 617.0,40.9 617.7,40.9 618.4,40.9 619.0,40.8 619.7,40.8 620.4,40.8 621.0,40.8 621.7,40.7 622.4,40.7 623.0,40.7 623.7,40.7 624.3,40.7 625.0,40.6 625.7,40.6 626.3,40.6 627.0,40.6 627.7,40.6 628.3,40.6 629.0,40.5 629.6,40.5 630.3,40.5 631.0,40.5 631.6,40.5 632.3,40.5 633.0,40.5 633.6,40.4 634.3,40.4 635.0,40.4 635.6,40.4 636.3,40.4 636.9,40.4 637.6,40.4 638.3,40.4 638.9,40.3 639.6,40.3 640.3,40.3 640.9,40.3 641.6,40.3 642.3,40.3 642.9,40.3 643.6,40.3 644.2,40.2 644.9,40.2 645.6,40.2 646.2,40.2 646.9,40.2 647.6,40.2 648.2,40.2 648.9,40.2 649.5,40.2 650.2,40.1 650.9,40.1 651.5,40.1 652.2,40.1 652.9,40.1 653.5,40.1 654.2,40.1 654.9,40.1 655.5,40.1 656.2,40.0 656.8,40.0 657.5,40.0 658.2,40.0 658.8,40.0 659.5,40.0 660.2,40.0 660.8,40.0 661.5,40.0 662.1,40.0 662.8,40.0 663.5,39.9 664.1,39.9 664.8,39.9 665.5,39.9 666.1,39.9 666.8,39.9 667.5,39.9 668.1,39.9 668.8,39.9 669.4,39.9 670.1,39.9 670.8,39.9 671.4,39.9 672.1,39.8 672.8,39.8 673.4,39.8 674.1,39.8 674.7,39.8 675.4,39.8 676.1,39.8 676.7,39.8 677.4,39.8 678.1,39.8 678.7,39.8 679.4,39.8 680.1,39.8 680.7,39.8 681.4,39.8 682.0,39.8 682.7,39.8 683.4,39.8 684.0,39.7 684.7,39.7 685.4,39.7 686.0,39.7 686.7,39.7 687.3,39.7 688.0,39.7 688.7,39.7 689.3,39.7 690.0,39.7 690.7,39.7 691.3,39.7 692.0,39.7 692.7,39.7 693.3,39.7 694.0,39.7 694.6,39.6 695.3,39.6 696.0,39.6 696.6,39.6 697.3,39.6 698.0,39.6 698.6,39.6 699.3,39.6 699.9,39.6 700.6,39.6 701.3,39.6 701.9,39.6 702.6,39.5 703.3,39.5 703.9,39.5 704.6,39.5 705.3,39.5 705.9,39.5 706.6,39.5 707.2,39.5 707.9,39.5 708.6,39.5 709.2,39.5 709.9,39.4 710.6,39.4 711.2,39.4 711.9,39.4 712.5,39.4 713.2,39.4 713.9,39.4 714.5,39.4 715.2,39.4 715.9,39.4 716.5,39.4 717.2,39.3 717.9,39.3 718.5,39.3 719.2,39.3 719.8,39.3 720.5,39.3 721.2,39.3 721.8,39.3 722.5,39.3 723.2,39.3 723.8,39.3 724.5,39.2 725.2,39.2 725.8,39.2 726.5,39.2 727.1,39.2 727.8,39.2 728.5,39.2 729.1,39.2 729.8,39.2 730.5,39.2 731.1,39.2 731.8,39.1 732.4,39.1 733.1,39.1 733.8,39.1 734.4,39.1 735.1,39.1 735.8,39.1 736.4,39.1 737.1,39.1 737.8,39.1 738.4,39.1 739.1,39.1 739.7,39.0 740.4,39.0 741.1,39.0 741.7,39.0 742.4,39.0 743.1,39.0 743.7,39.0 744.4,39.0 745.0,39.0 745.7,39.0 746.4,39.0 747.0,39.0 747.7,39.0 748.4,38.9 749.0,38.9 749.7,38.9 750.4,38.9 751.0,38.9 751.7,38.9 752.3,38.9 753.0,38.9 753.7,38.9 754.3,38.9 755.0,38.9 755.7,38.9 756.3,38.9 757.0,38.8 757.6,38.8 758.3,38.8 759.0,38.8 759.6,38.8 760.3,38.8" fill="none" stroke="#D95319" stroke-width="2.7" stroke-linejoin="round" stroke-linecap="round" clip-path="url(#cA)"/>
<polyline points="97.1,453.3 97.8,453.5 98.5,453.9 99.2,454.3 99.9,454.8 100.5,455.3 101.2,455.9 101.9,456.5 102.6,457.1 103.3,457.8 104.0,458.6 104.7,459.5 105.4,460.6 106.1,461.9 106.8,463.4 107.4,465.2 108.1,467.4 108.8,470.0 109.5,472.7 110.2,476.0 110.2,476.0 111.0,476.0 111.7,476.0 112.5,476.0 113.2,476.0 113.2,476.0 113.9,476.7 114.6,477.4 115.3,478.0 115.9,478.6 116.6,479.2 117.3,479.8 117.3,479.8 118.0,479.4 118.6,479.1 119.3,478.8 120.0,478.5 120.6,478.1 121.3,477.8 121.9,477.4 122.6,477.1 123.3,476.8 123.9,476.4 124.6,476.1 125.3,475.7 125.9,475.4 126.6,475.0 127.3,474.7 127.9,474.3 128.6,473.9 129.2,473.5 129.9,473.1 130.6,472.7 131.2,472.2 131.9,471.7 132.6,471.2 133.2,470.7 133.9,470.1 134.6,469.5 135.2,468.9 135.9,468.3 136.6,467.7 137.2,467.1 137.9,466.4 138.5,465.8 139.2,465.2 139.9,464.5 140.5,463.9 141.2,463.2 141.9,462.5 142.5,461.8 143.2,461.1 143.9,460.4 144.5,459.7 145.2,459.0 145.9,458.4 146.5,457.8 147.2,457.3 147.8,456.8 148.5,456.4 149.2,456.0 149.8,455.7 150.5,455.4 151.2,455.1 151.8,454.8 152.5,454.5 153.2,454.2 153.8,453.9 154.5,453.6 155.2,453.3 155.8,452.9 156.5,452.5 157.1,452.1 157.8,451.6 158.5,451.2 159.1,450.7 159.8,450.2 160.5,449.8 161.1,449.3 161.8,448.8 162.5,448.3 163.1,447.8 163.8,447.4 164.5,446.9 165.1,446.5 165.8,446.0 166.4,445.6 167.1,445.1 167.8,444.7 168.4,444.2 169.1,443.8 169.8,443.3 170.4,442.9 171.1,442.4 171.8,442.0 172.4,441.5 173.1,441.0 173.7,440.5 174.4,440.0 175.1,439.5 175.7,439.0 176.4,438.4 177.1,437.9 177.7,437.3 178.4,436.7 179.1,436.2 179.7,435.6 180.4,435.0 181.1,434.5 181.7,434.0 182.4,433.4 183.0,432.9 183.7,432.4 184.4,431.9 185.0,431.4 185.7,430.9 186.4,430.5 187.0,430.0 187.7,429.5 188.4,429.0 189.0,428.6 189.7,428.2 190.4,427.7 191.0,427.3 191.7,426.9 192.3,426.6 193.0,426.2 193.7,425.8 194.3,425.5 195.0,425.1 195.7,424.8 196.3,424.4 197.0,424.1 197.7,423.8 198.3,423.5 199.0,423.2 199.7,422.8 200.3,422.5 201.0,422.2 201.6,421.9 202.3,421.6 203.0,421.3 203.6,420.9 204.3,420.6 205.0,420.3 205.6,420.0 206.3,419.6 207.0,419.3 207.6,419.0 208.3,418.6 209.0,418.3 209.6,417.9 210.3,417.6 210.9,417.3 211.6,416.9 212.3,416.6 212.9,416.3 213.6,416.0 214.3,415.6 214.9,415.3 215.6,415.0 216.3,414.7 216.9,414.4 217.6,414.1 218.2,413.8 218.9,413.5 219.6,413.2 220.2,412.9 220.9,412.6 221.6,412.3 222.2,412.0 222.9,411.7 223.6,411.4 224.2,411.1 224.9,410.9 225.6,410.6 226.2,410.3 226.9,410.0 227.5,409.8 228.2,409.5 228.9,409.2 229.5,409.0 230.2,408.7 230.9,408.5 231.5,408.2 232.2,408.0 232.9,407.7 233.5,407.5 234.2,407.3 234.9,407.0 235.5,406.8 236.2,406.5 236.8,406.3 237.5,406.1 238.2,405.8 238.8,405.6 239.5,405.4 240.2,405.2 240.8,404.9 241.5,404.7 242.2,404.5 242.8,404.3 243.5,404.1 244.2,403.9 244.8,403.7 245.5,403.5 246.1,403.3 246.8,403.1 247.5,402.9 248.1,402.7 248.8,402.5 249.5,402.3 250.1,402.1 250.8,401.9 251.5,401.8 252.1,401.6 252.8,401.4 253.5,401.2 254.1,401.0 254.8,400.8 255.4,400.7 256.1,400.5 256.8,400.3 257.4,400.1 258.1,400.0 258.8,399.8 259.4,399.6 260.1,399.5 260.8,399.3 261.4,399.2 262.1,399.0 262.7,398.9 263.4,398.8 264.1,398.6 264.7,398.5 265.4,398.4 266.1,398.3 266.7,398.2 267.4,398.0 268.1,397.9 268.7,397.8 269.4,397.7 270.1,397.6 270.7,397.5 271.4,397.4 272.0,397.3 272.7,397.2 273.4,397.1 274.0,397.0 274.7,396.9 275.4,396.8 276.0,396.7 276.7,396.6 277.4,396.6 278.0,396.5 278.7,396.4 279.4,396.3 280.0,396.3 280.7,396.2 281.3,396.1 282.0,396.1 282.7,396.0 283.3,396.0 284.0,395.9 284.7,395.9 285.3,395.8 286.0,395.8 286.7,395.8 287.3,395.7 288.0,395.7 288.7,395.7 289.3,395.6 290.0,395.6 290.6,395.6 291.3,395.5 292.0,395.5 292.6,395.5 293.3,395.4 294.0,395.4 294.6,395.4 295.3,395.4 296.0,395.3 296.6,395.3 297.3,395.3 298.0,395.3 298.6,395.2 299.3,395.2 299.9,395.2 300.6,395.1 301.3,395.1 301.9,395.1 302.6,395.1 303.3,395.0 303.9,395.0 304.6,395.0 305.3,395.0 305.9,394.9 306.6,394.9 307.2,394.9 307.9,394.8 308.6,394.8 309.2,394.8 309.9,394.8 310.6,394.7 311.2,394.7 311.9,394.7 312.6,394.6 313.2,394.6 313.9,394.6 314.6,394.5 315.2,394.5 315.9,394.5 316.5,394.5 317.2,394.4 317.9,394.4 318.5,394.4 319.2,394.4 319.9,394.4 320.5,394.3 321.2,394.3 321.9,394.3 322.5,394.3 323.2,394.3 323.9,394.3 324.5,394.3 325.2,394.3 325.8,394.3 326.5,394.2 327.2,394.2 327.8,394.2 328.5,394.2 329.2,394.2 329.8,394.2 330.5,394.2 331.2,394.2 331.8,394.2 332.5,394.2 333.2,394.2 333.8,394.2 334.5,394.2 335.1,394.2 335.8,394.2 336.5,394.2 337.1,394.2 337.8,394.2 338.5,394.3 339.1,394.3 339.8,394.3 340.5,394.3 341.1,394.3 341.8,394.3 342.5,394.3 343.1,394.3 343.8,394.3 344.4,394.3 345.1,394.3 345.8,394.3 346.4,394.3 347.1,394.3 347.8,394.3 348.4,394.4 349.1,394.4 349.8,394.4 350.4,394.4 351.1,394.4 351.7,394.4 352.4,394.4 353.1,394.4 353.7,394.4 354.4,394.4 355.1,394.5 355.7,394.5 356.4,394.5 357.1,394.5 357.7,394.5 358.4,394.5 359.1,394.5 359.7,394.5 360.4,394.5 361.0,394.6 361.7,394.6 362.4,394.6 363.0,394.6 363.7,394.6 364.4,394.6 365.0,394.6 365.0,394.6 365.7,394.7 366.4,394.8 367.0,394.9 367.7,395.0 368.3,395.2 369.0,395.3 369.7,395.6 370.3,395.8 371.0,396.1 371.7,396.3 372.3,396.6 373.0,396.9 373.7,397.3 374.3,397.6 375.0,397.9 375.6,398.3 376.3,398.7 377.0,399.1 377.6,399.6 378.3,400.2 379.0,400.8 379.6,401.4 380.3,402.1 380.9,402.8 381.6,403.6 382.3,404.4 382.9,405.2 383.6,406.0 384.3,406.9 384.9,407.8 385.6,408.7 386.3,409.7 386.9,410.7 387.6,411.8 388.2,412.9 388.9,414.0 389.6,415.1 390.2,416.3 390.9,417.5 391.6,418.7 392.2,419.9 392.9,421.1 393.6,422.3 394.2,423.5 394.9,424.6 395.5,425.8 396.2,427.0 396.9,428.2 397.5,429.4 398.2,430.7 398.9,431.9 399.5,433.2 400.2,434.5 400.8,435.8 401.5,437.0 402.2,438.3 402.8,439.5 403.5,440.7 404.2,441.9 404.8,443.1 405.5,444.2 406.2,445.2 406.8,446.3 407.5,447.2 408.1,448.2 408.8,449.1 409.5,450.1 410.1,451.0 410.8,451.8 411.5,452.7 412.1,453.5 412.8,454.3 413.4,455.1 414.1,455.9 414.8,456.6 415.4,457.3 416.1,458.0 416.8,458.6 417.4,459.2 418.1,459.8 418.8,460.4 419.4,460.9 420.1,461.4 420.7,462.0 421.4,462.5 422.1,463.0 422.7,463.5 423.4,464.0 424.1,464.5 424.7,464.9 425.4,465.4 426.0,465.8 426.7,466.1 427.4,466.4 428.0,466.7 428.7,467.0 429.4,467.2 430.0,467.3 430.7,467.5 431.4,467.6 432.0,467.7 432.7,467.7 433.3,467.7 434.0,467.7 434.7,467.7 435.3,467.7 436.0,467.6 436.7,467.6 437.3,467.5 438.0,467.5 438.6,467.4 439.3,467.3 440.0,467.2 440.6,467.1 441.3,467.0 442.0,466.9 442.6,466.7 443.3,466.6 444.0,466.4 444.6,466.2 445.3,466.0 445.9,465.7 446.6,465.5 447.3,465.2 447.9,464.9 448.6,464.6 449.3,464.3 449.9,464.0 450.6,463.7 451.2,463.4 451.9,463.0 452.6,462.7 453.2,462.4 453.9,462.0 454.6,461.7 455.2,461.3 455.9,461.0 456.6,460.6 457.2,460.2 457.9,459.8 458.5,459.4 459.2,459.0 459.9,458.6 460.5,458.1 461.2,457.7 461.9,457.2 462.5,456.8 463.2,456.3 463.8,455.9 464.5,455.4 465.2,454.9 465.8,454.5 466.5,454.0 467.2,453.5 467.8,453.0 468.5,452.5 469.2,452.0 469.8,451.5 470.5,451.0 471.1,450.5 471.8,449.9 472.5,449.4 473.1,448.9 473.8,448.3 474.5,447.8 475.1,447.2 475.8,446.7 476.5,446.1 477.1,445.5 477.8,445.0 478.4,444.4 479.1,443.8 479.8,443.3 480.4,442.7 481.1,442.2 481.8,441.6 482.4,441.0 483.1,440.5 483.7,439.9 484.4,439.3 485.1,438.8 485.7,438.2 486.4,437.6 487.1,437.0 487.7,436.4 488.4,435.8 489.1,435.2 489.7,434.6 490.4,434.1 491.0,433.5 491.7,432.9 492.4,432.3 493.0,431.8 493.7,431.2 494.4,430.7 495.0,430.2 495.7,429.7 496.3,429.1 497.0,428.6 497.7,428.1 498.3,427.6 499.0,427.1 499.7,426.6 500.3,426.1 501.0,425.7 501.7,425.2 502.3,424.7 503.0,424.2 503.6,423.8 504.3,423.3 505.0,422.9 505.6,422.4 506.3,422.0 507.0,421.6 507.6,421.2 508.3,420.7 508.9,420.4 509.6,420.0 510.3,419.6 510.9,419.2 511.6,418.9 512.3,418.5 512.9,418.2 513.6,417.8 514.3,417.5 514.9,417.1 515.6,416.8 516.2,416.4 516.9,416.1 517.6,415.8 518.2,415.5 518.9,415.1 519.6,414.8 520.2,414.5 520.9,414.2 521.5,413.9 522.2,413.6 522.9,413.3 523.5,413.0 524.2,412.7 524.9,412.5 525.5,412.2 526.2,411.9 526.9,411.7 527.5,411.4 528.2,411.2 528.8,410.9 529.5,410.7 530.2,410.5 530.8,410.3 531.5,410.0 532.2,409.8 532.8,409.6 533.5,409.4 534.1,409.2 534.8,409.0 535.5,408.8 536.1,408.6 536.8,408.4 537.5,408.2 538.1,408.0 538.8,407.8 539.5,407.6 540.1,407.4 540.8,407.2 541.4,407.0 542.1,406.8 542.8,406.7 543.4,406.5 544.1,406.3 544.8,406.1 545.4,405.9 546.1,405.8 546.7,405.6 547.4,405.4 548.1,405.2 548.7,405.0 549.4,404.9 550.1,404.7 550.7,404.5 551.4,404.3 552.1,404.1 552.7,404.0 553.4,403.8 554.0,403.6 554.7,403.4 555.4,403.2 556.0,403.0 556.7,402.9 557.4,402.7 558.0,402.5 558.7,402.3 559.4,402.1 560.0,402.0 560.7,401.8 561.3,401.6 562.0,401.5 562.7,401.3 563.3,401.2 564.0,401.0 564.7,400.8 565.3,400.7 566.0,400.6 566.6,400.4 567.3,400.3 568.0,400.2 568.6,400.0 569.3,399.9 570.0,399.8 570.6,399.7 571.3,399.5 572.0,399.4 572.6,399.3 573.3,399.2 573.9,399.1 574.6,399.0 575.3,398.9 575.9,398.8 576.6,398.6 577.3,398.5 577.9,398.4 578.6,398.3 579.2,398.2 579.9,398.2 580.6,398.1 581.2,398.0 581.9,397.9 582.6,397.8 583.2,397.7 583.9,397.6 584.6,397.6 585.2,397.5 585.9,397.4 586.5,397.3 587.2,397.3 587.9,397.2 588.5,397.1 589.2,397.1 589.9,397.0 590.5,397.0 591.2,396.9 591.8,396.8 592.5,396.8 593.2,396.7 593.8,396.6 594.5,396.6 595.2,396.5 595.8,396.5 596.5,396.4 597.2,396.4 597.8,396.3 598.5,396.2 599.1,396.2 599.8,396.1 600.5,396.1 601.1,396.1 601.8,396.0 602.5,396.0 603.1,396.0 603.8,395.9 604.4,395.9 605.1,395.9 605.8,395.8 606.4,395.8 607.1,395.8 607.8,395.8 608.4,395.8 609.1,395.8 609.8,395.8 610.4,395.7 611.1,395.7 611.7,395.7 612.4,395.7 613.1,395.7 613.7,395.7 614.4,395.6 615.1,395.6 615.7,395.6 616.4,395.6 617.0,395.6 617.7,395.6 618.4,395.6 619.0,395.5 619.7,395.5 620.4,395.5 621.0,395.5 621.7,395.5 622.4,395.5 623.0,395.5 623.7,395.5 624.3,395.5 625.0,395.4 625.7,395.4 626.3,395.4 627.0,395.4 627.7,395.4 628.3,395.4 629.0,395.4 629.6,395.4 630.3,395.4 631.0,395.4 631.6,395.4 632.3,395.4 633.0,395.4 633.6,395.4 634.3,395.4 635.0,395.4 635.6,395.4 636.3,395.4 636.9,395.4 637.6,395.4 638.3,395.4 638.9,395.4 639.6,395.4 640.3,395.4 640.9,395.4 641.6,395.4 642.3,395.4 642.9,395.4 643.6,395.4 644.2,395.4 644.9,395.4 645.6,395.4 646.2,395.4 646.9,395.4 647.6,395.4 648.2,395.4 648.9,395.4 649.5,395.4 650.2,395.4 650.9,395.4 651.5,395.4 652.2,395.4 652.9,395.4 653.5,395.4 654.2,395.4 654.9,395.4 655.5,395.4 656.2,395.4 656.8,395.4 657.5,395.4 658.2,395.4 658.8,395.4 659.5,395.4 660.2,395.4 660.8,395.4 661.5,395.4 662.1,395.4 662.8,395.4 663.5,395.4 664.1,395.4 664.8,395.4 665.5,395.4 666.1,395.4 666.8,395.4 667.5,395.4 668.1,395.4 668.8,395.4 669.4,395.4 670.1,395.4 670.8,395.4 671.4,395.4 672.1,395.4 672.8,395.4 673.4,395.4 674.1,395.4 674.7,395.3 675.4,395.3 676.1,395.3 676.7,395.3 677.4,395.3 678.1,395.3 678.7,395.3 679.4,395.3 680.1,395.3 680.7,395.3 681.4,395.3 682.0,395.3 682.7,395.3 683.4,395.3 684.0,395.3 684.7,395.3 685.4,395.3 686.0,395.2 686.7,395.2 687.3,395.2 688.0,395.2 688.7,395.2 689.3,395.2 690.0,395.2 690.7,395.2 691.3,395.2 692.0,395.2 692.7,395.2 693.3,395.2 694.0,395.2 694.6,395.1 695.3,395.1 696.0,395.1 696.6,395.1 697.3,395.1 698.0,395.1 698.6,395.1 699.3,395.1 699.9,395.1 700.6,395.1 701.3,395.1 701.9,395.1 702.6,395.1 703.3,395.0 703.9,395.0 704.6,395.0 705.3,395.0 705.9,395.0 706.6,395.0 707.2,395.0 707.9,395.0 708.6,395.0 709.2,395.0 709.9,395.0 710.6,395.0 711.2,395.0 711.9,395.0 712.5,395.0 713.2,395.0 713.9,395.0 714.5,395.0 715.2,395.0 715.9,395.0 716.5,395.0 717.2,395.0 717.9,395.0 718.5,395.0 719.2,395.0 719.8,395.0 720.5,395.0 721.2,395.0 721.8,395.0 722.5,395.1 723.2,395.1 723.8,395.1 724.5,395.1 725.2,395.1 725.8,395.1 726.5,395.1 727.1,395.1 727.8,395.1 728.5,395.1 729.1,395.2 729.8,395.2 730.5,395.2 731.1,395.2 731.8,395.2 732.4,395.2 733.1,395.2 733.8,395.2 734.4,395.3 735.1,395.3 735.8,395.3 736.4,395.3 737.1,395.3 737.8,395.3 738.4,395.4 739.1,395.4 739.7,395.4 740.4,395.4 741.1,395.4 741.7,395.4 742.4,395.5 743.1,395.5 743.7,395.5 744.4,395.5 745.0,395.5 745.7,395.5 746.4,395.6 747.0,395.6 747.7,395.6 748.4,395.6 749.0,395.6 749.7,395.7 750.4,395.7 751.0,395.7 751.7,395.7 752.3,395.7 753.0,395.8 753.7,395.8 754.3,395.8 755.0,395.8 755.7,395.8 756.3,395.8 757.0,395.9 757.6,395.9 758.3,395.9 759.0,395.9 759.6,395.9 760.3,396.0" fill="none" stroke="#EDB120" stroke-width="2.7" stroke-linejoin="round" stroke-linecap="round" clip-path="url(#cA)"/>
<polyline points="97.1,525.2 97.8,512.1 98.4,499.3 99.1,486.8 99.8,474.6 100.4,462.6 101.1,450.9 101.7,438.9 102.4,427.2 103.1,415.7 103.7,404.5 104.4,393.6 105.1,383.0 105.7,372.7 106.4,362.8 107.0,353.2 107.7,343.9 108.4,335.1 109.0,326.7 109.7,318.8 110.4,311.3 111.0,304.3 111.7,297.6 112.4,291.4 113.0,285.4 113.7,279.8 114.3,274.6 115.0,269.7 115.7,265.1 116.3,260.7 117.0,256.6 117.7,252.7 118.3,249.0 119.0,245.4 119.6,242.0 120.3,238.7 121.0,235.6 121.6,232.6 122.3,229.7 123.0,226.8 123.6,224.1 124.3,221.3 125.0,218.6 125.6,215.9 126.3,213.2 126.9,210.5 127.6,207.8 128.3,205.2 128.9,202.6 129.6,200.0 130.3,197.4 130.9,194.9 131.6,192.4 132.2,190.0 132.9,187.7 133.6,185.4 134.2,183.1 134.9,181.0 135.6,178.8 136.2,176.8 136.9,174.8 137.6,172.9 138.2,171.0 138.9,169.1 139.5,167.3 140.2,165.5 140.9,163.8 141.5,162.1 142.2,160.5 142.9,158.9 143.5,157.3 144.2,155.8 144.9,154.3 145.5,152.8 146.2,151.3 146.8,149.9 147.5,148.5 148.2,147.2 148.8,145.9 149.5,144.6 150.2,143.3 150.8,142.1 151.5,140.9 152.1,139.7 152.8,138.6 153.5,137.5 154.1,136.4 154.8,135.3 155.5,134.2 156.1,133.2 156.8,132.2 157.5,131.1 158.1,130.2 158.8,129.2 159.4,128.2 160.1,127.3 160.8,126.4 161.4,125.5 162.1,124.7 162.8,123.8 163.4,123.0 164.1,122.2 164.7,121.4 165.4,120.6 166.1,119.8 166.7,119.1 167.4,118.3 168.1,117.6 168.7,116.9 169.4,116.2 170.1,115.5 170.7,114.8 171.4,114.1 172.0,113.5 172.7,112.8 173.4,112.2 174.0,111.5 174.7,110.9 175.4,110.3 176.0,109.7 176.7,109.1 177.3,108.5 178.0,107.9 178.7,107.3 179.3,106.7 180.0,106.2 180.7,105.6 181.3,105.1 182.0,104.5 182.7,104.0 183.3,103.5 184.0,103.0 184.6,102.4 185.3,101.9 186.0,101.4 186.6,101.0 187.3,100.5 188.0,100.0 188.6,99.5 189.3,99.1 189.9,98.6 190.6,98.2 191.3,97.7 191.9,97.3 192.6,96.9 193.3,96.4 193.9,96.0 194.6,95.6 195.3,95.2 195.9,94.8 196.6,94.4 197.2,94.0 197.9,93.7 198.6,93.3 199.2,92.9 199.9,92.6 200.6,92.2 201.2,91.8 201.9,91.5 202.5,91.1 203.2,90.8 203.9,90.4 204.5,90.1 205.2,89.8 205.9,89.4 206.5,89.1 207.2,88.8 207.9,88.5 208.5,88.2 209.2,87.9 209.8,87.6 210.5,87.3 211.2,87.0 211.8,86.7 212.5,86.4 213.2,86.2 213.8,85.9 214.5,85.7 215.1,85.4 215.8,85.2 216.5,85.0 217.1,84.7 217.8,84.5 218.5,84.3 219.1,84.0 219.8,83.8 220.5,83.6 221.1,83.4 221.8,83.2 222.4,82.9 223.1,82.7 223.8,82.5 224.4,82.3 225.1,82.1 225.8,81.8 226.4,81.6 227.1,81.4 227.8,81.2 228.4,81.0 229.1,80.7 229.7,80.5 230.4,80.3 231.1,80.1 231.7,79.8 232.4,79.6 233.1,79.4 233.7,79.1 234.4,78.9 235.0,78.7 235.7,78.4 236.4,78.2 237.0,77.9 237.7,77.7 238.4,77.5 239.0,77.2 239.7,77.0 240.4,76.8 241.0,76.5 241.7,76.3 242.3,76.0 243.0,75.8 243.7,75.6 244.3,75.3 245.0,75.1 245.7,74.8 246.3,74.6 247.0,74.4 247.6,74.1 248.3,73.9 249.0,73.7 249.6,73.4 250.3,73.2 251.0,73.0 251.6,72.7 252.3,72.5 253.0,72.3 253.6,72.1 254.3,71.8 254.9,71.6 255.6,71.4 256.3,71.2 256.9,70.9 257.6,70.7 258.3,70.5 258.9,70.3 259.6,70.0 260.2,69.8 260.9,69.6 261.6,69.4 262.2,69.2 262.9,68.9 263.6,68.7 264.2,68.5 264.9,68.3 265.6,68.1 266.2,67.8 266.9,67.6 267.5,67.4 268.2,67.2 268.9,67.0 269.5,66.8 270.2,66.5 270.9,66.3 271.5,66.1 272.2,65.9 272.8,65.7 273.5,65.5 274.2,65.3 274.8,65.1 275.5,64.9 276.2,64.7 276.8,64.5 277.5,64.3 278.2,64.1 278.8,63.9 279.5,63.7 280.1,63.5 280.8,63.3 281.5,63.1 282.1,63.0 282.8,62.8 283.5,62.6 284.1,62.4 284.8,62.3 285.4,62.1 286.1,61.9 286.8,61.8 287.4,61.6 288.1,61.4 288.8,61.3 289.4,61.1 290.1,60.9 290.8,60.8 291.4,60.6 292.1,60.5 292.7,60.3 293.4,60.2 294.1,60.0 294.7,59.9 295.4,59.7 296.1,59.6 296.7,59.4 297.4,59.3 298.0,59.1 298.7,59.0 299.4,58.8 300.0,58.7 300.7,58.5 301.4,58.4 302.0,58.3 302.7,58.1 303.4,58.0 304.0,57.9 304.7,57.7 305.3,57.6 306.0,57.5 306.7,57.3 307.3,57.2 308.0,57.1 308.7,56.9 309.3,56.8 310.0,56.7 310.7,56.6 311.3,56.4 312.0,56.3 312.6,56.2 313.3,56.1 314.0,56.0 314.6,55.9 315.3,55.7 316.0,55.6 316.6,55.5 317.3,55.4 317.9,55.3 318.6,55.2 319.3,55.1 319.9,55.0 320.6,54.9 321.3,54.8 321.9,54.7 322.6,54.6 323.3,54.5 323.9,54.4 324.6,54.3 325.2,54.2 325.9,54.1 326.6,53.9 327.2,53.8 327.9,53.7 328.6,53.6 329.2,53.5 329.9,53.4 330.5,53.2 331.2,53.1 331.9,53.0 332.5,52.8 333.2,52.7 333.9,52.6 334.5,52.4 335.2,52.3 335.9,52.1 336.5,52.0 337.2,51.9 337.8,51.7 338.5,51.6 339.2,51.4 339.8,51.3 340.5,51.2 341.2,51.0 341.8,50.9 342.5,50.8 343.1,50.6 343.8,50.5 344.5,50.4 345.1,50.2 345.8,50.1 346.5,50.0 347.1,49.9 347.8,49.8 348.5,49.7 349.1,49.6 349.8,49.5 350.4,49.4 351.1,49.3 351.8,49.2 352.4,49.1 353.1,49.0 353.8,48.9 354.4,48.9 355.1,48.8 355.7,48.7 356.4,48.6 357.1,48.5 357.7,48.5 358.4,48.4 359.1,48.3 359.7,48.2 360.4,48.2 361.1,48.1 361.7,48.0 362.4,47.9 363.0,47.8 363.7,47.8 364.4,47.7 365.0,47.6 365.7,47.5 366.4,47.4 367.0,47.3 367.7,47.3 368.3,47.2 369.0,47.1 369.7,47.0 370.3,46.9 371.0,46.9 371.7,46.8 372.3,46.7 373.0,46.6 373.7,46.6 374.3,46.5 375.0,46.4 375.6,46.3 376.3,46.3 377.0,46.2 377.6,46.1 378.3,46.1 379.0,46.0 379.6,45.9 380.3,45.9 380.9,45.8 381.6,45.8 382.3,45.7 382.9,45.7 383.6,45.6 384.3,45.6 384.9,45.5 385.6,45.4 386.3,45.4 386.9,45.3 387.6,45.3 388.2,45.2 388.9,45.2 389.6,45.2 390.2,45.1 390.9,45.1 391.6,45.0 392.2,45.0 392.9,44.9 393.6,44.9 394.2,44.9 394.9,44.8 395.5,44.8 396.2,44.8 396.9,44.7 397.5,44.7 398.2,44.6 398.9,44.6 399.5,44.6 400.2,44.5 400.8,44.5 401.5,44.5 402.2,44.5 402.8,44.4 403.5,44.4 404.2,44.4 404.8,44.3 405.5,44.3 406.2,44.3 406.8,44.3 407.5,44.3 408.1,44.3 408.8,44.2 409.5,44.2 410.1,44.2 410.8,44.2 411.5,44.2 412.1,44.2 412.8,44.2 413.4,44.2 414.1,44.3 414.8,44.3 415.4,44.3 416.1,44.3 416.8,44.4 417.4,44.4 418.1,44.4 418.8,44.5 419.4,44.5 420.1,44.6 420.7,44.6 421.4,44.7 422.1,44.7 422.7,44.8 423.4,44.8 424.1,44.9 424.7,44.9 425.4,45.0 426.0,45.1 426.7,45.2 427.4,45.2 428.0,45.3 428.7,45.4 429.4,45.5 430.0,45.6 430.7,45.7 431.4,45.8 432.0,46.0 432.7,46.1 433.3,46.2 434.0,46.4 434.7,46.5 435.3,46.7 436.0,46.8 436.7,46.9 437.3,47.1 438.0,47.2 438.6,47.4 439.3,47.5 440.0,47.7 440.6,47.8 441.3,48.0 442.0,48.2 442.6,48.3 443.3,48.5 444.0,48.6 444.6,48.8 445.3,48.9 445.9,49.1 446.6,49.3 447.3,49.4 447.9,49.6 448.6,49.7 449.3,49.9 449.9,50.1 450.6,50.2 451.2,50.4 451.9,50.6 452.6,50.7 453.2,50.9 453.9,51.1 454.6,51.2 455.2,51.4 455.9,51.6 456.6,51.7 457.2,51.9 457.9,52.1 458.5,52.2 459.2,52.4 459.9,52.6 460.5,52.7 461.2,52.9 461.9,53.1 462.5,53.2 463.2,53.4 463.8,53.6 464.5,53.8 465.2,54.0 465.8,54.2 466.5,54.3 467.2,54.5 467.8,54.7 468.5,54.9 469.2,55.1 469.8,55.3 470.5,55.5 471.1,55.7 471.8,55.9 472.5,56.2 473.1,56.4 473.8,56.6 474.5,56.8 475.1,57.0 475.8,57.2 476.5,57.3 477.1,57.5 477.8,57.7 478.4,57.9 479.1,58.1 479.8,58.3 480.4,58.5 481.1,58.6 481.8,58.8 482.4,59.0 483.1,59.1 483.7,59.3 484.4,59.5 485.1,59.7 485.7,59.8 486.4,60.0 487.1,60.2 487.7,60.3 488.4,60.5 489.1,60.6 489.7,60.8 490.4,60.9 491.0,61.1 491.7,61.2 492.4,61.4 493.0,61.5 493.7,61.6 494.4,61.8 495.0,61.9 495.7,62.1 496.3,62.2 497.0,62.3 497.7,62.4 498.3,62.6 499.0,62.7 499.7,62.8 500.3,62.9 501.0,63.0 501.7,63.2 502.3,63.3 503.0,63.4 503.6,63.5 504.3,63.6 505.0,63.7 505.6,63.8 506.3,63.9 507.0,64.1 507.6,64.2 508.3,64.3 508.9,64.4 509.6,64.5 510.3,64.6 510.9,64.6 511.6,64.7 512.3,64.8 512.9,64.9 513.6,65.0 514.3,65.1 514.9,65.2 515.6,65.3 516.2,65.3 516.9,65.4 517.6,65.5 518.2,65.6 518.9,65.7 519.6,65.8 520.2,65.8 520.9,65.9 521.5,66.0 522.2,66.1 522.9,66.2 523.5,66.2 524.2,66.3 524.9,66.4 525.5,66.5 526.2,66.5 526.9,66.6 527.5,66.6 528.2,66.7 528.8,66.7 529.5,66.8 530.2,66.8 530.8,66.9 531.5,66.9 532.2,66.9 532.8,66.9 533.5,66.9 534.1,67.0 534.8,67.0 535.5,67.0 536.1,67.0 536.8,67.0 537.5,67.0 538.1,66.9 538.8,66.9 539.5,66.9 540.1,66.9 540.8,66.9 541.4,66.9 542.1,66.8 542.8,66.8 543.4,66.8 544.1,66.8 544.8,66.7 545.4,66.7 546.1,66.7 546.7,66.6 547.4,66.6 548.1,66.6 548.7,66.6 549.4,66.5 550.1,66.5 550.7,66.5 551.4,66.4 552.1,66.4 552.7,66.3 553.4,66.3 554.0,66.3 554.7,66.2 555.4,66.2 556.0,66.1 556.7,66.1 557.4,66.1 558.0,66.0 558.7,66.0 559.4,65.9 560.0,65.9 560.7,65.8 561.3,65.8 562.0,65.7 562.7,65.7 563.3,65.6 564.0,65.5 564.7,65.5 565.3,65.4 566.0,65.3 566.6,65.3 567.3,65.2 568.0,65.1 568.6,65.0 569.3,64.9 570.0,64.8 570.6,64.8 571.3,64.7 572.0,64.6 572.6,64.5 573.3,64.4 573.9,64.3 574.6,64.2 575.3,64.1 575.9,64.0 576.6,63.9 577.3,63.7 577.9,63.6 578.6,63.5 579.2,63.4 579.9,63.3 580.6,63.1 581.2,63.0 581.9,62.9 582.6,62.8 583.2,62.6 583.9,62.5 584.6,62.3 585.2,62.2 585.9,62.1 586.5,61.9 587.2,61.8 587.9,61.6 588.5,61.5 589.2,61.3 589.9,61.2 590.5,61.1 591.2,60.9 591.8,60.8 592.5,60.6 593.2,60.5 593.8,60.3 594.5,60.2 595.2,60.1 595.8,59.9 596.5,59.8 597.2,59.6 597.8,59.5 598.5,59.3 599.1,59.2 599.8,59.0 600.5,58.9 601.1,58.8 601.8,58.6 602.5,58.5 603.1,58.3 603.8,58.2 604.4,58.0 605.1,57.9 605.8,57.7 606.4,57.6 607.1,57.4 607.8,57.3 608.4,57.1 609.1,57.0 609.8,56.8 610.4,56.7 611.1,56.6 611.7,56.4 612.4,56.3 613.1,56.1 613.7,56.0 614.4,55.8 615.1,55.7 615.7,55.5 616.4,55.4 617.0,55.2 617.7,55.1 618.4,55.0 619.0,54.8 619.7,54.7 620.4,54.5 621.0,54.4 621.7,54.2 622.4,54.1 623.0,53.9 623.7,53.8 624.3,53.7 625.0,53.5 625.7,53.4 626.3,53.2 627.0,53.1 627.7,53.0 628.3,52.8 629.0,52.7 629.6,52.6 630.3,52.4 631.0,52.3 631.6,52.2 632.3,52.1 633.0,51.9 633.6,51.8 634.3,51.7 635.0,51.6 635.6,51.4 636.3,51.3 636.9,51.2 637.6,51.1 638.3,50.9 638.9,50.8 639.6,50.7 640.3,50.6 640.9,50.5 641.6,50.4 642.3,50.3 642.9,50.1 643.6,50.0 644.2,49.9 644.9,49.8 645.6,49.7 646.2,49.6 646.9,49.5 647.6,49.4 648.2,49.4 648.9,49.3 649.5,49.2 650.2,49.1 650.9,49.0 651.5,48.9 652.2,48.8 652.9,48.8 653.5,48.7 654.2,48.6 654.9,48.5 655.5,48.5 656.2,48.4 656.8,48.3 657.5,48.2 658.2,48.2 658.8,48.1 659.5,48.0 660.2,48.0 660.8,47.9 661.5,47.8 662.1,47.8 662.8,47.7 663.5,47.6 664.1,47.6 664.8,47.5 665.5,47.5 666.1,47.4 666.8,47.3 667.5,47.3 668.1,47.2 668.8,47.2 669.4,47.1 670.1,47.1 670.8,47.0 671.4,47.0 672.1,46.9 672.8,46.9 673.4,46.8 674.1,46.8 674.7,46.7 675.4,46.7 676.1,46.6 676.7,46.6 677.4,46.6 678.1,46.5 678.7,46.5 679.4,46.4 680.1,46.4 680.7,46.3 681.4,46.3 682.0,46.2 682.7,46.2 683.4,46.2 684.0,46.1 684.7,46.1 685.4,46.0 686.0,46.0 686.7,45.9 687.3,45.9 688.0,45.9 688.7,45.8 689.3,45.8 690.0,45.7 690.7,45.7 691.3,45.6 692.0,45.6 692.7,45.6 693.3,45.5 694.0,45.5 694.6,45.4 695.3,45.4 696.0,45.3 696.6,45.3 697.3,45.2 698.0,45.2 698.6,45.1 699.3,45.1 699.9,45.0 700.6,45.0 701.3,44.9 701.9,44.9 702.6,44.9 703.3,44.8 703.9,44.8 704.6,44.7 705.3,44.7 705.9,44.6 706.6,44.6 707.2,44.5 707.9,44.5 708.6,44.4 709.2,44.4 709.9,44.3 710.6,44.3 711.2,44.2 711.9,44.2 712.5,44.2 713.2,44.1 713.9,44.1 714.5,44.0 715.2,44.0 715.9,44.0 716.5,43.9 717.2,43.9 717.9,43.8 718.5,43.8 719.2,43.8 719.8,43.7 720.5,43.7 721.2,43.7 721.8,43.6 722.5,43.6 723.2,43.6 723.8,43.6 724.5,43.5 725.2,43.5 725.8,43.5 726.5,43.4 727.1,43.4 727.8,43.4 728.5,43.4 729.1,43.3 729.8,43.3 730.5,43.3 731.1,43.3 731.8,43.2 732.4,43.2 733.1,43.2 733.8,43.2 734.4,43.1 735.1,43.1 735.8,43.1 736.4,43.1 737.1,43.0 737.8,43.0 738.4,43.0 739.1,43.0 739.7,43.0 740.4,42.9 741.1,42.9 741.7,42.9 742.4,42.9 743.1,42.9 743.7,42.9 744.4,42.8 745.0,42.8 745.7,42.8 746.4,42.8 747.0,42.8 747.7,42.8 748.4,42.7 749.0,42.7 749.7,42.7 750.4,42.7 751.0,42.7 751.7,42.7 752.3,42.7 753.0,42.6 753.7,42.6 754.3,42.6 755.0,42.6 755.7,42.6 756.3,42.6 757.0,42.6 757.6,42.6 758.3,42.5 759.0,42.5 759.6,42.5 760.3,42.5" fill="none" stroke="#7E2F8E" stroke-width="2.7" stroke-linejoin="round" stroke-linecap="round" clip-path="url(#cA)"/>
<polyline points="97.1,489.2 97.8,489.7 98.4,490.1 99.1,490.6 99.8,491.0 100.4,491.4 101.1,491.8 101.7,492.2 102.4,492.6 103.1,493.0 103.7,493.3 104.4,493.7 105.1,494.0 105.7,494.4 106.4,494.7 107.0,495.0 107.7,495.3 108.4,495.5 109.0,495.8 109.7,496.0 110.4,496.3 111.0,496.5 111.7,496.7 112.4,496.9 113.0,497.1 113.7,497.3 113.7,497.3 114.4,498.1 115.1,498.9 115.8,499.7 116.6,500.5 117.3,501.3 117.3,501.3 118.0,501.3 118.7,501.3 119.4,501.3 120.1,501.3 120.7,501.3 121.4,501.3 122.1,501.3 122.8,501.3 123.5,501.3 124.2,501.3 124.9,501.3 124.9,501.3 125.6,501.2 126.2,501.1 126.9,500.9 127.6,500.8 128.3,500.7 129.0,500.7 129.7,500.6 130.3,500.6 131.0,500.6 131.7,500.6 132.4,500.6 133.1,500.7 133.7,500.8 134.4,500.9 135.1,501.1 135.8,501.3 136.5,501.5 137.1,501.7 137.8,502.0 138.5,502.3 139.2,502.6 139.9,502.9 140.5,503.3 140.5,503.3 141.2,503.1 141.9,503.0 142.5,502.8 143.2,502.6 143.9,502.5 144.5,502.3 145.2,502.1 145.8,502.0 146.5,501.8 147.2,501.6 147.8,501.4 148.5,501.2 149.2,501.1 149.8,500.9 150.5,500.7 151.2,500.5 151.8,500.3 152.5,500.1 153.1,499.9 153.8,499.7 154.5,499.4 155.1,499.2 155.8,499.0 156.5,498.7 157.1,498.5 157.8,498.2 158.5,498.0 159.1,497.7 159.8,497.4 160.4,497.1 161.1,496.8 161.8,496.6 162.4,496.3 163.1,496.1 163.8,495.9 164.4,495.7 165.1,495.6 165.8,495.5 166.4,495.4 167.1,495.3 167.7,495.2 168.4,495.1 169.1,495.0 169.7,494.8 170.4,494.6 171.1,494.4 171.7,494.1 172.4,493.8 173.1,493.5 173.7,493.1 174.4,492.8 175.0,492.4 175.7,492.0 176.4,491.7 177.0,491.3 177.7,490.9 178.4,490.5 179.0,490.1 179.7,489.7 180.4,489.3 181.0,488.9 181.7,488.5 182.3,488.1 183.0,487.7 183.7,487.3 184.3,486.8 185.0,486.4 185.7,486.0 186.3,485.5 187.0,485.1 187.7,484.7 188.3,484.3 189.0,483.8 189.6,483.4 190.3,483.0 191.0,482.6 191.6,482.2 192.3,481.8 193.0,481.5 193.6,481.1 194.3,480.8 195.0,480.4 195.6,480.1 196.3,479.8 196.9,479.5 197.6,479.2 198.3,478.9 198.9,478.6 199.6,478.2 200.3,477.9 200.9,477.6 201.6,477.3 202.3,477.0 202.9,476.7 203.6,476.3 204.2,476.0 204.9,475.6 205.6,475.2 206.2,474.8 206.9,474.4 207.6,474.0 208.2,473.6 208.9,473.2 209.5,472.7 210.2,472.2 210.9,471.8 211.5,471.3 212.2,470.8 212.9,470.3 213.5,469.8 214.2,469.3 214.9,468.8 215.5,468.3 216.2,467.7 216.8,467.2 217.5,466.7 218.2,466.2 218.8,465.7 219.5,465.2 220.2,464.7 220.8,464.2 221.5,463.8 222.2,463.3 222.8,462.9 223.5,462.4 224.1,462.0 224.8,461.5 225.5,461.1 226.1,460.7 226.8,460.2 227.5,459.8 228.1,459.4 228.8,459.0 229.5,458.6 230.1,458.2 230.8,457.8 231.4,457.4 232.1,457.0 232.8,456.6 233.4,456.2 234.1,455.9 234.8,455.5 235.4,455.1 236.1,454.7 236.8,454.4 237.4,454.0 238.1,453.6 238.7,453.3 239.4,452.9 240.1,452.5 240.7,452.2 241.4,451.8 242.1,451.4 242.7,451.0 243.4,450.6 244.1,450.2 244.7,449.8 245.4,449.3 246.0,448.9 246.7,448.4 247.4,448.0 248.0,447.5 248.7,447.1 249.4,446.6 250.0,446.2 250.7,445.7 251.4,445.2 252.0,444.8 252.7,444.4 253.3,443.9 254.0,443.5 254.7,443.1 255.3,442.7 256.0,442.3 256.7,442.0 257.3,441.6 258.0,441.3 258.7,440.9 259.3,440.6 260.0,440.3 260.6,439.9 261.3,439.6 262.0,439.3 262.6,439.0 263.3,438.7 264.0,438.3 264.6,438.0 265.3,437.7 266.0,437.4 266.6,437.1 267.3,436.9 267.9,436.6 268.6,436.3 269.3,436.0 269.9,435.7 270.6,435.4 271.3,435.2 271.9,434.9 272.6,434.6 273.3,434.4 273.9,434.1 274.6,433.8 275.2,433.6 275.9,433.3 276.6,433.1 277.2,432.8 277.9,432.6 278.6,432.3 279.2,432.1 279.9,431.8 280.5,431.6 281.2,431.4 281.9,431.1 282.5,430.9 283.2,430.6 283.9,430.4 284.5,430.2 285.2,429.9 285.9,429.7 286.5,429.5 287.2,429.2 287.8,429.0 288.5,428.8 289.2,428.6 289.8,428.3 290.5,428.1 291.2,427.9 291.8,427.6 292.5,427.4 293.2,427.2 293.8,426.9 294.5,426.7 295.1,426.5 295.8,426.2 296.5,426.0 297.1,425.8 297.8,425.5 298.5,425.3 299.1,425.1 299.8,424.8 300.5,424.6 301.1,424.3 301.8,424.1 302.4,423.9 303.1,423.6 303.8,423.4 304.4,423.1 305.1,422.9 305.8,422.6 306.4,422.4 307.1,422.1 307.8,421.9 308.4,421.6 309.1,421.4 309.7,421.2 310.4,420.9 311.1,420.7 311.7,420.4 312.4,420.2 313.1,419.9 313.7,419.7 314.4,419.4 315.1,419.2 315.7,419.0 316.4,418.7 317.0,418.5 317.7,418.3 318.4,418.0 319.0,417.8 319.7,417.6 320.4,417.3 321.0,417.1 321.7,416.9 322.4,416.6 323.0,416.4 323.7,416.2 324.3,416.0 325.0,415.8 325.7,415.5 326.3,415.3 327.0,415.1 327.7,414.9 328.3,414.6 329.0,414.4 329.7,414.2 330.3,414.0 331.0,413.8 331.6,413.6 332.3,413.3 333.0,413.1 333.6,412.9 334.3,412.7 335.0,412.5 335.6,412.3 336.3,412.1 337.0,411.9 337.6,411.8 338.3,411.6 338.9,411.4 339.6,411.2 340.3,411.0 340.9,410.9 341.6,410.7 342.3,410.6 342.9,410.4 343.6,410.3 344.3,410.1 344.9,410.0 345.6,409.8 346.2,409.7 346.9,409.5 347.6,409.4 348.2,409.2 348.9,409.1 349.6,409.0 350.2,408.8 350.9,408.7 351.6,408.6 352.2,408.4 352.9,408.3 353.5,408.2 354.2,408.1 354.9,408.0 355.5,407.8 356.2,407.7 356.9,407.6 357.5,407.5 358.2,407.4 358.8,407.3 359.5,407.2 360.2,407.1 360.8,407.0 361.5,406.9 362.2,406.9 362.8,406.8 363.5,406.7 364.2,406.6 364.8,406.5 365.5,406.5 366.1,406.4 366.8,406.3 367.5,406.2 368.1,406.2 368.8,406.1 369.5,406.0 370.1,405.9 370.8,405.9 371.5,405.8 372.1,405.7 372.8,405.7 373.4,405.6 374.1,405.5 374.8,405.5 375.4,405.4 376.1,405.3 376.8,405.3 377.4,405.2 378.1,405.2 378.8,405.1 379.4,405.0 380.1,405.0 380.7,404.9 381.4,404.8 382.1,404.8 382.7,404.7 383.4,404.6 384.1,404.6 384.7,404.5 385.4,404.5 386.1,404.4 386.7,404.3 387.4,404.3 388.0,404.2 388.7,404.1 389.4,404.1 390.0,404.0 390.7,404.0 391.4,403.9 392.0,403.9 392.7,403.8 393.4,403.8 394.0,403.7 394.7,403.7 395.3,403.6 396.0,403.6 396.7,403.6 397.3,403.6 398.0,403.6 398.7,403.6 399.3,403.7 400.0,403.7 400.7,403.8 401.3,403.8 402.0,403.9 402.6,404.0 403.3,404.0 404.0,404.1 404.6,404.2 405.3,404.3 406.0,404.4 406.6,404.5 407.3,404.6 408.0,404.7 408.6,404.9 409.3,405.0 409.9,405.2 410.6,405.4 411.3,405.6 411.9,405.8 412.6,406.0 413.3,406.3 413.9,406.5 414.6,406.8 415.3,407.1 415.9,407.4 416.6,407.6 417.2,407.9 417.9,408.2 418.6,408.5 419.2,408.8 419.9,409.1 420.6,409.4 421.2,409.7 421.9,410.0 422.6,410.3 423.2,410.6 423.9,410.9 424.5,411.3 425.2,411.6 425.9,411.9 426.5,412.3 427.2,412.6 427.9,413.0 428.5,413.3 429.2,413.7 429.8,414.0 430.5,414.4 431.2,414.7 431.8,415.1 432.5,415.4 433.2,415.8 433.8,416.1 434.5,416.4 435.2,416.8 435.8,417.1 436.5,417.4 437.1,417.7 437.8,418.0 438.5,418.3 439.1,418.6 439.8,418.9 440.5,419.2 441.1,419.5 441.8,419.8 442.5,420.2 443.1,420.5 443.8,420.9 444.4,421.2 445.1,421.6 445.8,422.0 446.4,422.5 447.1,422.9 447.8,423.3 448.4,423.8 449.1,424.2 449.8,424.7 450.4,425.2 451.1,425.7 451.7,426.1 452.4,426.6 453.1,427.1 453.7,427.6 454.4,428.1 455.1,428.6 455.7,429.1 456.4,429.6 457.1,430.1 457.7,430.6 458.4,431.1 459.0,431.6 459.7,432.1 460.4,432.5 461.0,433.0 461.7,433.5 462.4,433.9 463.0,434.3 463.7,434.8 464.4,435.2 465.0,435.6 465.7,436.1 466.3,436.5 467.0,436.9 467.7,437.3 468.3,437.8 469.0,438.2 469.7,438.6 470.3,439.0 471.0,439.4 471.7,439.8 472.3,440.2 473.0,440.6 473.6,441.0 474.3,441.4 475.0,441.8 475.6,442.2 476.3,442.5 477.0,442.9 477.6,443.2 478.3,443.5 479.0,443.8 479.6,444.1 480.3,444.4 480.9,444.7 481.6,445.0 482.3,445.3 482.9,445.6 483.6,445.8 484.3,446.1 484.9,446.3 485.6,446.6 486.3,446.8 486.9,447.1 487.6,447.3 488.2,447.5 488.9,447.8 489.6,448.0 490.2,448.2 490.9,448.4 491.6,448.6 492.2,448.8 492.9,449.0 493.6,449.2 494.2,449.3 494.9,449.5 495.5,449.6 496.2,449.8 496.9,449.9 497.5,450.1 498.2,450.2 498.9,450.4 499.5,450.5 500.2,450.6 500.8,450.8 501.5,450.9 502.2,451.0 502.8,451.1 503.5,451.2 504.2,451.3 504.8,451.4 505.5,451.5 506.2,451.5 506.8,451.6 507.5,451.6 508.1,451.6 508.8,451.6 509.5,451.7 510.1,451.7 510.8,451.7 511.5,451.7 512.1,451.7 512.8,451.6 513.5,451.6 514.1,451.6 514.8,451.6 515.4,451.5 516.1,451.5 516.8,451.4 517.4,451.4 518.1,451.3 518.8,451.3 519.4,451.2 520.1,451.1 520.8,451.1 521.4,451.0 522.1,450.9 522.7,450.8 523.4,450.7 524.1,450.6 524.7,450.5 525.4,450.4 526.1,450.3 526.7,450.2 527.4,450.1 528.1,449.9 528.7,449.8 529.4,449.6 530.0,449.5 530.7,449.3 531.4,449.1 532.0,449.0 532.7,448.8 533.4,448.6 534.0,448.4 534.7,448.3 535.4,448.1 536.0,447.9 536.7,447.7 537.3,447.5 538.0,447.3 538.7,447.1 539.3,446.9 540.0,446.7 540.7,446.5 541.3,446.3 542.0,446.1 542.7,446.0 543.3,445.8 544.0,445.6 544.6,445.4 545.3,445.2 546.0,445.0 546.6,444.8 547.3,444.6 548.0,444.5 548.6,444.3 549.3,444.1 550.0,443.9 550.6,443.7 551.3,443.5 551.9,443.3 552.6,443.1 553.3,442.9 553.9,442.7 554.6,442.4 555.3,442.2 555.9,442.0 556.6,441.8 557.3,441.6 557.9,441.4 558.6,441.1 559.2,440.9 559.9,440.7 560.6,440.5 561.2,440.2 561.9,440.0 562.6,439.7 563.2,439.5 563.9,439.2 564.6,439.0 565.2,438.7 565.9,438.4 566.5,438.2 567.2,437.9 567.9,437.6 568.5,437.3 569.2,437.0 569.9,436.7 570.5,436.4 571.2,436.2 571.9,435.9 572.5,435.6 573.2,435.3 573.8,435.0 574.5,434.7 575.2,434.5 575.8,434.2 576.5,433.9 577.2,433.7 577.8,433.4 578.5,433.1 579.1,432.9 579.8,432.7 580.5,432.4 581.1,432.2 581.8,431.9 582.5,431.7 583.1,431.5 583.8,431.2 584.5,431.0 585.1,430.8 585.8,430.5 586.4,430.3 587.1,430.1 587.8,429.9 588.4,429.6 589.1,429.4 589.8,429.2 590.4,428.9 591.1,428.7 591.8,428.5 592.4,428.3 593.1,428.0 593.7,427.8 594.4,427.5 595.1,427.3 595.7,427.0 596.4,426.8 597.1,426.5 597.7,426.3 598.4,426.0 599.1,425.8 599.7,425.5 600.4,425.2 601.0,425.0 601.7,424.7 602.4,424.4 603.0,424.2 603.7,423.9 604.4,423.6 605.0,423.4 605.7,423.1 606.4,422.8 607.0,422.5 607.7,422.3 608.3,422.0 609.0,421.7 609.7,421.5 610.3,421.2 611.0,420.9 611.7,420.7 612.3,420.4 613.0,420.1 613.7,419.9 614.3,419.6 615.0,419.4 615.6,419.1 616.3,418.9 617.0,418.6 617.6,418.4 618.3,418.1 619.0,417.9 619.6,417.6 620.3,417.3 621.0,417.1 621.6,416.8 622.3,416.6 622.9,416.3 623.6,416.1 624.3,415.8 624.9,415.6 625.6,415.3 626.3,415.1 626.9,414.9 627.6,414.6 628.3,414.4 628.9,414.2 629.6,414.0 630.2,413.8 630.9,413.5 631.6,413.3 632.2,413.2 632.9,413.0 633.6,412.8 634.2,412.6 634.9,412.4 635.6,412.3 636.2,412.1 636.9,412.0 637.5,411.8 638.2,411.7 638.9,411.5 639.5,411.4 640.2,411.2 640.9,411.1 641.5,411.0 642.2,410.8 642.9,410.7 643.5,410.6 644.2,410.5 644.8,410.3 645.5,410.2 646.2,410.1 646.8,410.0 647.5,409.9 648.2,409.7 648.8,409.6 649.5,409.5 650.1,409.4 650.8,409.3 651.5,409.1 652.1,409.0 652.8,408.9 653.5,408.8 654.1,408.7 654.8,408.6 655.5,408.4 656.1,408.3 656.8,408.2 657.4,408.1 658.1,408.0 658.8,407.8 659.4,407.7 660.1,407.6 660.8,407.5 661.4,407.4 662.1,407.3 662.8,407.1 663.4,407.0 664.1,406.9 664.7,406.8 665.4,406.7 666.1,406.6 666.7,406.5 667.4,406.4 668.1,406.2 668.7,406.1 669.4,406.0 670.1,405.9 670.7,405.8 671.4,405.7 672.0,405.7 672.7,405.6 673.4,405.5 674.0,405.4 674.7,405.3 675.4,405.2 676.0,405.1 676.7,405.0 677.4,404.9 678.0,404.9 678.7,404.8 679.3,404.7 680.0,404.6 680.7,404.5 681.3,404.5 682.0,404.4 682.7,404.3 683.3,404.2 684.0,404.2 684.7,404.1 685.3,404.0 686.0,403.9 686.6,403.9 687.3,403.8 688.0,403.7 688.6,403.6 689.3,403.6 690.0,403.5 690.6,403.4 691.3,403.4 692.0,403.3 692.6,403.2 693.3,403.1 693.9,403.1 694.6,403.0 695.3,402.9 695.9,402.9 696.6,402.8 697.3,402.7 697.9,402.6 698.6,402.5 699.3,402.5 699.9,402.4 700.6,402.3 701.2,402.2 701.9,402.2 702.6,402.1 703.2,402.0 703.9,401.9 704.6,401.9 705.2,401.8 705.9,401.8 706.6,401.7 707.2,401.7 707.9,401.6 708.5,401.6 709.2,401.5 709.9,401.5 710.5,401.5 711.2,401.5 711.9,401.4 712.5,401.4 713.2,401.4 713.9,401.4 714.5,401.4 715.2,401.4 715.8,401.3 716.5,401.3 717.2,401.3 717.8,401.3 718.5,401.3 719.2,401.3 719.8,401.3 720.5,401.2 721.2,401.2 721.8,401.2 722.5,401.2 723.1,401.2 723.8,401.2 724.5,401.2 725.1,401.2 725.8,401.2 726.5,401.2 727.1,401.1 727.8,401.1 728.4,401.1 729.1,401.1 729.8,401.1 730.4,401.1 731.1,401.1 731.8,401.1 732.4,401.1 733.1,401.1 733.8,401.1 734.4,401.1 735.1,401.0 735.7,401.0 736.4,401.0 737.1,401.0 737.7,401.0 738.4,401.0 739.1,401.0 739.7,401.0 740.4,401.0 741.1,401.0 741.7,401.0 742.4,400.9 743.0,400.9 743.7,400.9 744.4,400.9 745.0,400.9 745.7,400.9 746.4,400.9 747.0,400.9 747.7,400.9 748.4,400.9 749.0,400.9 749.7,400.9 750.3,400.8 751.0,400.8 751.7,400.8 752.3,400.8 753.0,400.8 753.7,400.8 754.3,400.8 755.0,400.8 755.7,400.8 756.3,400.8 757.0,400.8 757.6,400.8 758.3,400.8 759.0,400.8 759.6,400.8 760.3,400.8" fill="none" stroke="#77AC30" stroke-width="2.7" stroke-linejoin="round" stroke-linecap="round" clip-path="url(#cA)"/>
<rect x="555.9" y="215.8" width="187.7" height="132.8" fill="#fff" stroke="#7a7a7a" stroke-width="1.2"/>
<line x1="560.9" y1="230.8" x2="604.2" y2="230.8" stroke="#0072BD" stroke-width="2.8"/>
<text x="608.4" y="238.8" font-family="'Liberation Sans', sans-serif" font-size="20.3" fill="#262626">Speed 1</text>
<line x1="560.9" y1="256.4" x2="604.2" y2="256.4" stroke="#D95319" stroke-width="2.8"/>
<text x="608.4" y="264.4" font-family="'Liberation Sans', sans-serif" font-size="20.3" fill="#262626">Speed 2</text>
<line x1="560.9" y1="282" x2="604.2" y2="282" stroke="#EDB120" stroke-width="2.8"/>
<text x="608.4" y="290" font-family="'Liberation Sans', sans-serif" font-size="20.3" fill="#262626">Distance 1 &gt; 2</text>
<line x1="560.9" y1="308.1" x2="604.2" y2="308.1" stroke="#7E2F8E" stroke-width="2.8"/>
<text x="608.4" y="316.1" font-family="'Liberation Sans', sans-serif" font-size="20.3" fill="#262626">Speed 3</text>
<line x1="560.9" y1="334.2" x2="604.2" y2="334.2" stroke="#77AC30" stroke-width="2.8"/>
<text x="608.4" y="342.2" font-family="'Liberation Sans', sans-serif" font-size="20.3" fill="#262626">Distance 2 &gt; 3</text>
<text transform="translate(69.3,257.6) rotate(-90)" text-anchor="middle" font-family="'Liberation Sans', sans-serif" font-size="21" fill="#262626">States</text>
<g stroke="#262626" stroke-opacity="0.6" stroke-width="1.2" fill="none"><rect x="97.1" y="554.5" width="663.2" height="145.5" fill="none"/><line x1="97.1" y1="700" x2="97.1" y2="693.4"/><line x1="97.1" y1="554.5" x2="97.1" y2="561.1"/><line x1="163.42" y1="700" x2="163.42" y2="693.4"/><line x1="163.42" y1="554.5" x2="163.42" y2="561.1"/><line x1="229.74" y1="700" x2="229.74" y2="693.4"/><line x1="229.74" y1="554.5" x2="229.74" y2="561.1"/><line x1="296.06" y1="700" x2="296.06" y2="693.4"/><line x1="296.06" y1="554.5" x2="296.06" y2="561.1"/><line x1="362.38" y1="700" x2="362.38" y2="693.4"/><line x1="362.38" y1="554.5" x2="362.38" y2="561.1"/><line x1="428.7" y1="700" x2="428.7" y2="693.4"/><line x1="428.7" y1="554.5" x2="428.7" y2="561.1"/><line x1="495.02" y1="700" x2="495.02" y2="693.4"/><line x1="495.02" y1="554.5" x2="495.02" y2="561.1"/><line x1="561.34" y1="700" x2="561.34" y2="693.4"/><line x1="561.34" y1="554.5" x2="561.34" y2="561.1"/><line x1="627.66" y1="700" x2="627.66" y2="693.4"/><line x1="627.66" y1="554.5" x2="627.66" y2="561.1"/><line x1="693.98" y1="700" x2="693.98" y2="693.4"/><line x1="693.98" y1="554.5" x2="693.98" y2="561.1"/><line x1="760.3" y1="700" x2="760.3" y2="693.4"/><line x1="760.3" y1="554.5" x2="760.3" y2="561.1"/><line x1="97.1" y1="700" x2="103.7" y2="700"/><line x1="760.3" y1="700" x2="753.7" y2="700"/><line x1="97.1" y1="651.5" x2="103.7" y2="651.5"/><line x1="760.3" y1="651.5" x2="753.7" y2="651.5"/><line x1="97.1" y1="603" x2="103.7" y2="603"/><line x1="760.3" y1="603" x2="753.7" y2="603"/><line x1="97.1" y1="554.5" x2="103.7" y2="554.5"/><line x1="760.3" y1="554.5" x2="753.7" y2="554.5"/></g>
<g font-family="'Liberation Serif', serif" font-size="16" fill="#626262"><text x="97.1" y="720.2" text-anchor="middle">0</text><text x="163.42" y="720.2" text-anchor="middle">2</text><text x="229.74" y="720.2" text-anchor="middle">4</text><text x="296.06" y="720.2" text-anchor="middle">6</text><text x="362.38" y="720.2" text-anchor="middle">8</text><text x="428.7" y="720.2" text-anchor="middle">10</text><text x="495.02" y="720.2" text-anchor="middle">12</text><text x="561.34" y="720.2" text-anchor="middle">14</text><text x="627.66" y="720.2" text-anchor="middle">16</text><text x="693.98" y="720.2" text-anchor="middle">18</text><text x="760.3" y="720.2" text-anchor="middle">20</text><text x="91.5" y="705" text-anchor="end">0</text><text x="91.5" y="656.5" text-anchor="end">0.5</text><text x="91.5" y="608" text-anchor="end">1</text><text x="91.5" y="559.5" text-anchor="end">1.5</text></g>
<path d="M100.6 700.0V603.0M110.4 700.0V603.0M116.9 700.0V603.0M118.9 700.0V603.0M121.6 700.0V603.0M123.3 700.0V603.0M126.9 700.0V603.0M128.7 700.0V603.0M130.4 700.0V603.0M132.2 700.0V603.0M134.0 700.0V603.0M135.8 700.0V603.0M137.5 700.0V603.0M139.3 700.0V603.0M141.4 700.0V603.0M143.4 700.0V603.0M156.8 700.0V603.0M173.4 700.0V603.0M175.0 700.0V603.0M176.7 700.0V603.0M183.3 700.0V603.0M206.5 700.0V603.0M209.8 700.0V603.0M219.8 700.0V603.0M221.4 700.0V603.0M223.1 700.0V603.0M233.1 700.0V603.0M242.5 700.0V603.0M245.0 700.0V603.0M246.7 700.0V603.0M256.3 700.0V603.0M266.5 700.0V603.0M276.5 700.0V603.0M286.4 700.0V603.0M296.1 700.0V603.0M306.0 700.0V603.0M316.0 700.0V603.0M325.9 700.0V603.0M335.9 700.0V603.0M345.8 700.0V603.0M355.7 700.0V603.0M365.7 700.0V603.0M375.6 700.0V603.0M385.6 700.0V603.0M395.5 700.0V603.0M397.2 700.0V603.0M399.2 700.0V603.0M401.2 700.0V603.0M403.2 700.0V603.0M405.5 700.0V603.0M408.1 700.0V603.0M410.1 700.0V603.0M412.1 700.0V603.0M418.4 700.0V603.0M420.1 700.0V603.0M422.1 700.0V603.0M432.3 700.0V603.0M442.3 700.0V603.0M452.2 700.0V603.0M461.9 700.0V603.0M472.1 700.0V603.0M482.1 700.0V603.0M491.7 700.0V603.0M501.7 700.0V603.0M508.3 700.0V603.0M518.6 700.0V603.0M538.5 700.0V603.0M558.0 700.0V603.0M568.0 700.0V603.0M577.9 700.0V603.0M587.9 700.0V603.0M598.5 700.0V603.0M608.1 700.0V603.0M627.7 700.0V603.0M637.9 700.0V603.0M647.9 700.0V603.0M657.8 700.0V603.0M667.8 700.0V603.0M677.7 700.0V603.0M687.7 700.0V603.0M697.6 700.0V603.0M707.6 700.0V603.0M717.9 700.0V603.0M727.5 700.0V603.0M737.4 700.0V603.0M747.4 700.0V603.0M757.0 700.0V603.0" stroke="#0072BD" stroke-width="1.2" fill="none"/>
<g stroke="#0072BD" stroke-width="1.2" fill="none"><circle cx="100.6" cy="603.0" r="4.3"/><circle cx="110.4" cy="603.0" r="4.3"/><circle cx="116.9" cy="603.0" r="4.3"/><circle cx="118.9" cy="603.0" r="4.3"/><circle cx="121.6" cy="603.0" r="4.3"/><circle cx="123.3" cy="603.0" r="4.3"/><circle cx="126.9" cy="603.0" r="4.3"/><circle cx="128.7" cy="603.0" r="4.3"/><circle cx="130.4" cy="603.0" r="4.3"/><circle cx="132.2" cy="603.0" r="4.3"/><circle cx="134.0" cy="603.0" r="4.3"/><circle cx="135.8" cy="603.0" r="4.3"/><circle cx="137.5" cy="603.0" r="4.3"/><circle cx="139.3" cy="603.0" r="4.3"/><circle cx="141.4" cy="603.0" r="4.3"/><circle cx="143.4" cy="603.0" r="4.3"/><circle cx="156.8" cy="603.0" r="4.3"/><circle cx="173.4" cy="603.0" r="4.3"/><circle cx="175.0" cy="603.0" r="4.3"/><circle cx="176.7" cy="603.0" r="4.3"/><circle cx="183.3" cy="603.0" r="4.3"/><circle cx="206.5" cy="603.0" r="4.3"/><circle cx="209.8" cy="603.0" r="4.3"/><circle cx="219.8" cy="603.0" r="4.3"/><circle cx="221.4" cy="603.0" r="4.3"/><circle cx="223.1" cy="603.0" r="4.3"/><circle cx="233.1" cy="603.0" r="4.3"/><circle cx="242.5" cy="603.0" r="4.3"/><circle cx="245.0" cy="603.0" r="4.3"/><circle cx="246.7" cy="603.0" r="4.3"/><circle cx="256.3" cy="603.0" r="4.3"/><circle cx="266.5" cy="603.0" r="4.3"/><circle cx="276.5" cy="603.0" r="4.3"/><circle cx="286.4" cy="603.0" r="4.3"/><circle cx="296.1" cy="603.0" r="4.3"/><circle cx="306.0" cy="603.0" r="4.3"/><circle cx="316.0" cy="603.0" r="4.3"/><circle cx="325.9" cy="603.0" r="4.3"/><circle cx="335.9" cy="603.0" r="4.3"/><circle cx="345.8" cy="603.0" r="4.3"/><circle cx="355.7" cy="603.0" r="4.3"/><circle cx="365.7" cy="603.0" r="4.3"/><circle cx="375.6" cy="603.0" r="4.3"/><circle cx="385.6" cy="603.0" r="4.3"/><circle cx="395.5" cy="603.0" r="4.3"/><circle cx="397.2" cy="603.0" r="4.3"/><circle cx="399.2" cy="603.0" r="4.3"/><circle cx="401.2" cy="603.0" r="4.3"/><circle cx="403.2" cy="603.0" r="4.3"/><circle cx="405.5" cy="603.0" r="4.3"/><circle cx="408.1" cy="603.0" r="4.3"/><circle cx="410.1" cy="603.0" r="4.3"/><circle cx="412.1" cy="603.0" r="4.3"/><circle cx="418.4" cy="603.0" r="4.3"/><circle cx="420.1" cy="603.0" r="4.3"/><circle cx="422.1" cy="603.0" r="4.3"/><circle cx="432.3" cy="603.0" r="4.3"/><circle cx="442.3" cy="603.0" r="4.3"/><circle cx="452.2" cy="603.0" r="4.3"/><circle cx="461.9" cy="603.0" r="4.3"/><circle cx="472.1" cy="603.0" r="4.3"/><circle cx="482.1" cy="603.0" r="4.3"/><circle cx="491.7" cy="603.0" r="4.3"/><circle cx="501.7" cy="603.0" r="4.3"/><circle cx="508.3" cy="603.0" r="4.3"/><circle cx="518.6" cy="603.0" r="4.3"/><circle cx="538.5" cy="603.0" r="4.3"/><circle cx="558.0" cy="603.0" r="4.3"/><circle cx="568.0" cy="603.0" r="4.3"/><circle cx="577.9" cy="603.0" r="4.3"/><circle cx="587.9" cy="603.0" r="4.3"/><circle cx="598.5" cy="603.0" r="4.3"/><circle cx="608.1" cy="603.0" r="4.3"/><circle cx="627.7" cy="603.0" r="4.3"/><circle cx="637.9" cy="603.0" r="4.3"/><circle cx="647.9" cy="603.0" r="4.3"/><circle cx="657.8" cy="603.0" r="4.3"/><circle cx="667.8" cy="603.0" r="4.3"/><circle cx="677.7" cy="603.0" r="4.3"/><circle cx="687.7" cy="603.0" r="4.3"/><circle cx="697.6" cy="603.0" r="4.3"/><circle cx="707.6" cy="603.0" r="4.3"/><circle cx="717.9" cy="603.0" r="4.3"/><circle cx="727.5" cy="603.0" r="4.3"/><circle cx="737.4" cy="603.0" r="4.3"/><circle cx="747.4" cy="603.0" r="4.3"/><circle cx="757.0" cy="603.0" r="4.3"/><circle cx="118.7" cy="651.5" r="4.3"/><circle cx="122.0" cy="651.5" r="4.3"/><circle cx="125.6" cy="651.5" r="4.3"/><circle cx="128.6" cy="651.5" r="4.3"/><circle cx="173.4" cy="651.5" r="4.3"/><circle cx="219.8" cy="651.5" r="4.3"/><circle cx="233.1" cy="651.5" r="4.3"/><circle cx="246.3" cy="651.5" r="4.3"/><circle cx="256.3" cy="651.5" r="4.3"/><circle cx="306.0" cy="651.5" r="4.3"/><circle cx="316.0" cy="651.5" r="4.3"/><circle cx="325.9" cy="651.5" r="4.3"/><circle cx="335.9" cy="651.5" r="4.3"/><circle cx="355.7" cy="651.5" r="4.3"/><circle cx="365.7" cy="651.5" r="4.3"/><circle cx="395.5" cy="651.5" r="4.3"/><circle cx="408.8" cy="651.5" r="4.3"/><circle cx="421.4" cy="651.5" r="4.3"/><circle cx="461.9" cy="651.5" r="4.3"/><circle cx="482.1" cy="651.5" r="4.3"/><circle cx="508.3" cy="651.5" r="4.3"/><circle cx="518.6" cy="651.5" r="4.3"/><circle cx="568.0" cy="651.5" r="4.3"/><circle cx="577.9" cy="651.5" r="4.3"/><circle cx="667.8" cy="651.5" r="4.3"/><circle cx="687.7" cy="651.5" r="4.3"/><circle cx="707.6" cy="651.5" r="4.3"/><circle cx="737.4" cy="651.5" r="4.3"/><circle cx="747.4" cy="651.5" r="4.3"/><circle cx="757.0" cy="651.5" r="4.3"/></g>
<line x1="97.1" y1="700.3" x2="760.3" y2="700.3" stroke="#0072BD" stroke-width="9.0" stroke-linecap="round"/>
<line x1="97.1" y1="700" x2="760.3" y2="700" stroke="#262626" stroke-opacity="0.75" stroke-width="1.2"/>
<path d="M97.1 701.0V695.4M163.4 701.0V695.4M229.7 701.0V695.4M296.1 701.0V695.4M362.4 701.0V695.4M428.7 701.0V695.4M495.0 701.0V695.4M561.3 701.0V695.4M627.7 701.0V695.4M694.0 701.0V695.4M760.3 701.0V695.4" stroke="#262626" stroke-opacity="0.6" stroke-width="1.2"/>
<rect x="455.7" y="567" width="277.9" height="20.7" fill="#fff" stroke="#262626" stroke-width="1.4"/>
<line x1="460.9" y1="577.35" x2="491.3" y2="577.35" stroke="#0072BD" stroke-width="1.2"/>
<circle cx="491.3" cy="577.35" r="4.3" fill="none" stroke="#0072BD" stroke-width="1.2"/>
<text x="508.3" y="581.95" font-family="'Liberation Sans', sans-serif" font-size="13.2" fill="#262626">Percent of Resource Utilization: 34.75</text>
<text transform="translate(64.4,628.0) rotate(-90)" text-anchor="middle" font-family="'Liberation Sans', sans-serif" font-size="16.2" fill="#262626">Network Usage 1-&gt;2</text>
<g stroke="#262626" stroke-opacity="0.6" stroke-width="1.2" fill="none"><rect x="97.1" y="729.8" width="663.2" height="144.8" fill="none"/><line x1="97.1" y1="874.6" x2="97.1" y2="868"/><line x1="97.1" y1="729.8" x2="97.1" y2="736.4"/><line x1="163.42" y1="874.6" x2="163.42" y2="868"/><line x1="163.42" y1="729.8" x2="163.42" y2="736.4"/><line x1="229.74" y1="874.6" x2="229.74" y2="868"/><line x1="229.74" y1="729.8" x2="229.74" y2="736.4"/><line x1="296.06" y1="874.6" x2="296.06" y2="868"/><line x1="296.06" y1="729.8" x2="296.06" y2="736.4"/><line x1="362.38" y1="874.6" x2="362.38" y2="868"/><line x1="362.38" y1="729.8" x2="362.38" y2="736.4"/><line x1="428.7" y1="874.6" x2="428.7" y2="868"/><line x1="428.7" y1="729.8" x2="428.7" y2="736.4"/><line x1="495.02" y1="874.6" x2="495.02" y2="868"/><line x1="495.02" y1="729.8" x2="495.02" y2="736.4"/><line x1="561.34" y1="874.6" x2="561.34" y2="868"/><line x1="561.34" y1="729.8" x2="561.34" y2="736.4"/><line x1="627.66" y1="874.6" x2="627.66" y2="868"/><line x1="627.66" y1="729.8" x2="627.66" y2="736.4"/><line x1="693.98" y1="874.6" x2="693.98" y2="868"/><line x1="693.98" y1="729.8" x2="693.98" y2="736.4"/><line x1="760.3" y1="874.6" x2="760.3" y2="868"/><line x1="760.3" y1="729.8" x2="760.3" y2="736.4"/><line x1="97.1" y1="874.6" x2="103.7" y2="874.6"/><line x1="760.3" y1="874.6" x2="753.7" y2="874.6"/><line x1="97.1" y1="826.33" x2="103.7" y2="826.33"/><line x1="760.3" y1="826.33" x2="753.7" y2="826.33"/><line x1="97.1" y1="778.07" x2="103.7" y2="778.07"/><line x1="760.3" y1="778.07" x2="753.7" y2="778.07"/><line x1="97.1" y1="729.8" x2="103.7" y2="729.8"/><line x1="760.3" y1="729.8" x2="753.7" y2="729.8"/></g>
<g font-family="'Liberation Serif', serif" font-size="16" fill="#626262"><text x="97.1" y="894.8" text-anchor="middle">0</text><text x="163.42" y="894.8" text-anchor="middle">2</text><text x="229.74" y="894.8" text-anchor="middle">4</text><text x="296.06" y="894.8" text-anchor="middle">6</text><text x="362.38" y="894.8" text-anchor="middle">8</text><text x="428.7" y="894.8" text-anchor="middle">10</text><text x="495.02" y="894.8" text-anchor="middle">12</text><text x="561.34" y="894.8" text-anchor="middle">14</text><text x="627.66" y="894.8" text-anchor="middle">16</text><text x="693.98" y="894.8" text-anchor="middle">18</text><text x="760.3" y="894.8" text-anchor="middle">20</text><text x="91.5" y="879.6" text-anchor="end">0</text><text x="91.5" y="831.33" text-anchor="end">0.5</text><text x="91.5" y="783.07" text-anchor="end">1</text><text x="91.5" y="734.8" text-anchor="end">1.5</text></g>
<path d="M97.1 874.6V778.1M100.1 874.6V778.1M102.1 874.6V778.1M104.7 874.6V778.1M107.0 874.6V778.1M111.4 874.6V778.1M117.0 874.6V778.1M119.3 874.6V778.1M121.3 874.6V778.1M124.3 874.6V778.1M126.6 874.6V778.1M130.3 874.6V778.1M140.2 874.6V778.1M146.8 874.6V778.1M153.1 874.6V778.1M156.5 874.6V778.1M170.1 874.6V778.1M180.0 874.6V778.1M186.3 874.6V778.1M206.5 874.6V778.1M219.8 874.6V778.1M243.0 874.6V778.1M299.4 874.6V778.1M382.3 874.6V778.1M388.9 874.6V778.1M395.5 874.6V778.1M397.5 874.6V778.1M399.9 874.6V778.1M402.2 874.6V778.1M404.8 874.6V778.1M407.1 874.6V778.1M408.8 874.6V778.1M415.4 874.6V778.1M417.4 874.6V778.1M419.1 874.6V778.1M428.7 874.6V778.1M445.3 874.6V778.1M462.2 874.6V778.1M475.5 874.6V778.1M478.4 874.6V778.1M491.7 874.6V778.1M505.0 874.6V778.1M511.6 874.6V778.1M525.5 874.6V778.1M541.4 874.6V778.1M561.3 874.6V778.1M594.8 874.6V778.1M607.8 874.6V778.1M647.6 874.6V778.1M730.8 874.6V778.1" stroke="#0072BD" stroke-width="1.2" fill="none"/>
<g stroke="#0072BD" stroke-width="1.2" fill="none"><circle cx="97.1" cy="778.1" r="4.3"/><circle cx="100.1" cy="778.1" r="4.3"/><circle cx="102.1" cy="778.1" r="4.3"/><circle cx="104.7" cy="778.1" r="4.3"/><circle cx="107.0" cy="778.1" r="4.3"/><circle cx="111.4" cy="778.1" r="4.3"/><circle cx="117.0" cy="778.1" r="4.3"/><circle cx="119.3" cy="778.1" r="4.3"/><circle cx="121.3" cy="778.1" r="4.3"/><circle cx="124.3" cy="778.1" r="4.3"/><circle cx="126.6" cy="778.1" r="4.3"/><circle cx="130.3" cy="778.1" r="4.3"/><circle cx="140.2" cy="778.1" r="4.3"/><circle cx="146.8" cy="778.1" r="4.3"/><circle cx="153.1" cy="778.1" r="4.3"/><circle cx="156.5" cy="778.1" r="4.3"/><circle cx="170.1" cy="778.1" r="4.3"/><circle cx="180.0" cy="778.1" r="4.3"/><circle cx="186.3" cy="778.1" r="4.3"/><circle cx="206.5" cy="778.1" r="4.3"/><circle cx="219.8" cy="778.1" r="4.3"/><circle cx="243.0" cy="778.1" r="4.3"/><circle cx="299.4" cy="778.1" r="4.3"/><circle cx="382.3" cy="778.1" r="4.3"/><circle cx="388.9" cy="778.1" r="4.3"/><circle cx="395.5" cy="778.1" r="4.3"/><circle cx="397.5" cy="778.1" r="4.3"/><circle cx="399.9" cy="778.1" r="4.3"/><circle cx="402.2" cy="778.1" r="4.3"/><circle cx="404.8" cy="778.1" r="4.3"/><circle cx="407.1" cy="778.1" r="4.3"/><circle cx="408.8" cy="778.1" r="4.3"/><circle cx="415.4" cy="778.1" r="4.3"/><circle cx="417.4" cy="778.1" r="4.3"/><circle cx="419.1" cy="778.1" r="4.3"/><circle cx="428.7" cy="778.1" r="4.3"/><circle cx="445.3" cy="778.1" r="4.3"/><circle cx="462.2" cy="778.1" r="4.3"/><circle cx="475.5" cy="778.1" r="4.3"/><circle cx="478.4" cy="778.1" r="4.3"/><circle cx="491.7" cy="778.1" r="4.3"/><circle cx="505.0" cy="778.1" r="4.3"/><circle cx="511.6" cy="778.1" r="4.3"/><circle cx="525.5" cy="778.1" r="4.3"/><circle cx="541.4" cy="778.1" r="4.3"/><circle cx="561.3" cy="778.1" r="4.3"/><circle cx="594.8" cy="778.1" r="4.3"/><circle cx="607.8" cy="778.1" r="4.3"/><circle cx="647.6" cy="778.1" r="4.3"/><circle cx="730.8" cy="778.1" r="4.3"/><circle cx="107.0" cy="826.3" r="4.3"/><circle cx="119.3" cy="826.3" r="4.3"/><circle cx="123.6" cy="826.3" r="4.3"/><circle cx="126.9" cy="826.3" r="4.3"/><circle cx="206.5" cy="826.3" r="4.3"/><circle cx="299.4" cy="826.3" r="4.3"/><circle cx="395.5" cy="826.3" r="4.3"/><circle cx="398.9" cy="826.3" r="4.3"/><circle cx="402.2" cy="826.3" r="4.3"/><circle cx="415.4" cy="826.3" r="4.3"/><circle cx="418.8" cy="826.3" r="4.3"/><circle cx="445.3" cy="826.3" r="4.3"/><circle cx="491.7" cy="826.3" r="4.3"/><circle cx="561.3" cy="826.3" r="4.3"/><circle cx="594.8" cy="826.3" r="4.3"/><circle cx="607.8" cy="826.3" r="4.3"/><circle cx="730.8" cy="826.3" r="4.3"/></g>
<line x1="97.1" y1="874.9" x2="760.3" y2="874.9" stroke="#0072BD" stroke-width="9.0" stroke-linecap="round"/>
<line x1="97.1" y1="874.6" x2="760.3" y2="874.6" stroke="#262626" stroke-opacity="0.75" stroke-width="1.2"/>
<path d="M97.1 875.6V870.0M163.4 875.6V870.0M229.7 875.6V870.0M296.1 875.6V870.0M362.4 875.6V870.0M428.7 875.6V870.0M495.0 875.6V870.0M561.3 875.6V870.0M627.7 875.6V870.0M694.0 875.6V870.0M760.3 875.6V870.0" stroke="#262626" stroke-opacity="0.6" stroke-width="1.2"/>
<rect x="455.7" y="744" width="277.9" height="21" fill="#fff" stroke="#262626" stroke-width="1.4"/>
<line x1="460.9" y1="754.5" x2="491.3" y2="754.5" stroke="#0072BD" stroke-width="1.2"/>
<circle cx="491.3" cy="754.5" r="4.3" fill="none" stroke="#0072BD" stroke-width="1.2"/>
<text x="508.3" y="759.1" font-family="'Liberation Sans', sans-serif" font-size="13.2" fill="#262626">Percent of Resource Utilization: 24.00</text>
<text transform="translate(64.4,803.2) rotate(-90)" text-anchor="middle" font-family="'Liberation Sans', sans-serif" font-size="16.2" fill="#262626">Network Usage 2-&gt;3</text>
<text x="428.7" y="921.1" text-anchor="middle" font-family="'Liberation Sans', sans-serif" font-size="20.8" fill="#262626">Time(s)</text>
<clipPath id="cB"><rect x="1034.4" y="38" width="664.2" height="488.6"/></clipPath>
<g stroke="#e3e3e3" stroke-width="1"><line x1="1101.62" y1="39.5" x2="1101.62" y2="525.1"/><line x1="1167.84" y1="39.5" x2="1167.84" y2="525.1"/><line x1="1234.06" y1="39.5" x2="1234.06" y2="525.1"/><line x1="1300.28" y1="39.5" x2="1300.28" y2="525.1"/><line x1="1366.5" y1="39.5" x2="1366.5" y2="525.1"/><line x1="1432.72" y1="39.5" x2="1432.72" y2="525.1"/><line x1="1498.94" y1="39.5" x2="1498.94" y2="525.1"/><line x1="1565.16" y1="39.5" x2="1565.16" y2="525.1"/><line x1="1631.38" y1="39.5" x2="1631.38" y2="525.1"/><line x1="1035.4" y1="508.8" x2="1697.6" y2="508.8"/><line x1="1035.4" y1="453.73" x2="1697.6" y2="453.73"/><line x1="1035.4" y1="398.65" x2="1697.6" y2="398.65"/><line x1="1035.4" y1="343.57" x2="1697.6" y2="343.57"/><line x1="1035.4" y1="288.5" x2="1697.6" y2="288.5"/><line x1="1035.4" y1="233.43" x2="1697.6" y2="233.43"/><line x1="1035.4" y1="178.35" x2="1697.6" y2="178.35"/><line x1="1035.4" y1="123.27" x2="1697.6" y2="123.27"/><line x1="1035.4" y1="68.2" x2="1697.6" y2="68.2"/></g>
<g stroke="#262626" stroke-opacity="0.6" stroke-width="1.2" fill="none"><rect x="1035.4" y="39.5" width="662.2" height="485.6" fill="none"/><line x1="1035.4" y1="525.1" x2="1035.4" y2="518.5"/><line x1="1035.4" y1="39.5" x2="1035.4" y2="46.1"/><line x1="1101.62" y1="525.1" x2="1101.62" y2="518.5"/><line x1="1101.62" y1="39.5" x2="1101.62" y2="46.1"/><line x1="1167.84" y1="525.1" x2="1167.84" y2="518.5"/><line x1="1167.84" y1="39.5" x2="1167.84" y2="46.1"/><line x1="1234.06" y1="525.1" x2="1234.06" y2="518.5"/><line x1="1234.06" y1="39.5" x2="1234.06" y2="46.1"/><line x1="1300.28" y1="525.1" x2="1300.28" y2="518.5"/><line x1="1300.28" y1="39.5" x2="1300.28" y2="46.1"/><line x1="1366.5" y1="525.1" x2="1366.5" y2="518.5"/><line x1="1366.5" y1="39.5" x2="1366.5" y2="46.1"/><line x1="1432.72" y1="525.1" x2="1432.72" y2="518.5"/><line x1="1432.72" y1="39.5" x2="1432.72" y2="46.1"/><line x1="1498.94" y1="525.1" x2="1498.94" y2="518.5"/><line x1="1498.94" y1="39.5" x2="1498.94" y2="46.1"/><line x1="1565.16" y1="525.1" x2="1565.16" y2="518.5"/><line x1="1565.16" y1="39.5" x2="1565.16" y2="46.1"/><line x1="1631.38" y1="525.1" x2="1631.38" y2="518.5"/><line x1="1631.38" y1="39.5" x2="1631.38" y2="46.1"/><line x1="1697.6" y1="525.1" x2="1697.6" y2="518.5"/><line x1="1697.6" y1="39.5" x2="1697.6" y2="46.1"/><line x1="1035.4" y1="508.8" x2="1042" y2="508.8"/><line x1="1697.6" y1="508.8" x2="1691" y2="508.8"/><line x1="1035.4" y1="453.73" x2="1042" y2="453.73"/><line x1="1697.6" y1="453.73" x2="1691" y2="453.73"/><line x1="1035.4" y1="398.65" x2="1042" y2="398.65"/><line x1="1697.6" y1="398.65" x2="1691" y2="398.65"/><line x1="1035.4" y1="343.57" x2="1042" y2="343.57"/><line x1="1697.6" y1="343.57" x2="1691" y2="343.57"/><line x1="1035.4" y1="288.5" x2="1042" y2="288.5"/><line x1="1697.6" y1="288.5" x2="1691" y2="288.5"/><line x1="1035.4" y1="233.43" x2="1042" y2="233.43"/><line x1="1697.6" y1="233.43" x2="1691" y2="233.43"/><line x1="1035.4" y1="178.35" x2="1042" y2="178.35"/><line x1="1697.6" y1="178.35" x2="1691" y2="178.35"/><line x1="1035.4" y1="123.27" x2="1042" y2="123.27"/><line x1="1697.6" y1="123.27" x2="1691" y2="123.27"/><line x1="1035.4" y1="68.2" x2="1042" y2="68.2"/><line x1="1697.6" y1="68.2" x2="1691" y2="68.2"/></g>
<g font-family="'Liberation Serif', serif" font-size="16" fill="#626262"><text x="1035.4" y="544.7" text-anchor="middle">0</text><text x="1101.62" y="544.7" text-anchor="middle">2</text><text x="1167.84" y="544.7" text-anchor="middle">4</text><text x="1234.06" y="544.7" text-anchor="middle">6</text><text x="1300.28" y="544.7" text-anchor="middle">8</text><text x="1366.5" y="544.7" text-anchor="middle">10</text><text x="1432.72" y="544.7" text-anchor="middle">12</text><text x="1498.94" y="544.7" text-anchor="middle">14</text><text x="1565.16" y="544.7" text-anchor="middle">16</text><text x="1631.38" y="544.7" text-anchor="middle">18</text><text x="1697.6" y="544.7" text-anchor="middle">20</text><text x="1030" y="513.8" text-anchor="end">0</text><text x="1030" y="458.73" text-anchor="end">5</text><text x="1030" y="403.65" text-anchor="end">10</text><text x="1030" y="348.57" text-anchor="end">15</text><text x="1030" y="293.5" text-anchor="end">20</text><text x="1030" y="238.43" text-anchor="end">25</text><text x="1030" y="183.35" text-anchor="end">30</text><text x="1030" y="128.27" text-anchor="end">35</text><text x="1030" y="73.2" text-anchor="end">40</text></g>
<line x1="1035.4" y1="68.2" x2="1697.6" y2="68.2" stroke="#9a9aff" stroke-width="1.2" stroke-dasharray="6.8,4.3"/>
<line x1="1035.4" y1="398.65" x2="1697.6" y2="398.65" stroke="#9a9aff" stroke-width="1.2" stroke-dasharray="6.8,4.3"/>
<polyline points="1035.4,507.1 1036.1,488.0 1036.7,471.5 1037.4,456.9 1038.1,444.0 1038.7,432.6 1039.4,422.5 1040.0,410.8 1040.7,400.0 1041.4,390.0 1042.0,380.5 1042.7,371.4 1043.4,362.6 1044.0,354.1 1044.7,345.8 1045.3,337.6 1046.0,329.7 1046.7,321.9 1047.3,314.4 1048.0,307.0 1048.7,299.9 1049.3,292.9 1050.0,286.2 1050.6,279.7 1051.3,273.5 1052.0,267.6 1052.6,262.0 1053.3,256.7 1054.0,251.6 1054.6,246.6 1055.3,241.7 1056.0,236.9 1056.6,232.2 1057.3,227.6 1057.9,223.0 1058.6,218.6 1059.3,214.4 1059.9,210.2 1060.6,206.2 1061.3,202.3 1061.9,198.4 1062.6,194.7 1063.2,191.0 1063.9,187.3 1064.6,183.8 1065.2,180.3 1065.9,176.9 1066.6,173.6 1067.2,170.4 1067.9,167.3 1068.6,164.2 1069.2,161.2 1069.9,158.3 1070.5,155.5 1071.2,152.7 1071.9,149.9 1072.5,147.3 1073.2,144.7 1073.9,142.1 1074.5,139.7 1075.2,137.3 1075.8,135.0 1076.5,132.8 1077.2,130.6 1077.8,128.5 1078.5,126.5 1079.2,124.6 1079.8,122.8 1080.5,121.0 1081.1,119.2 1081.8,117.6 1082.5,116.0 1083.1,114.5 1083.8,113.0 1084.5,111.5 1085.1,110.2 1085.8,108.8 1086.5,107.5 1087.1,106.3 1087.8,105.1 1088.4,104.0 1089.1,102.9 1089.8,101.9 1090.4,100.9 1091.1,99.9 1091.8,98.9 1092.4,98.0 1093.1,97.1 1093.7,96.3 1094.4,95.4 1095.1,94.6 1095.7,93.8 1096.4,93.0 1097.1,92.3 1097.7,91.5 1098.4,90.8 1099.1,90.2 1099.7,89.5 1100.4,88.9 1101.0,88.3 1101.7,87.7 1102.4,87.1 1103.0,86.6 1103.7,86.0 1104.4,85.5 1105.0,85.0 1105.7,84.5 1106.3,84.0 1107.0,83.5 1107.7,83.0 1108.3,82.5 1109.0,82.1 1109.7,81.6 1110.3,81.2 1111.0,80.8 1111.6,80.4 1112.3,80.0 1113.0,79.7 1113.6,79.3 1114.3,79.0 1115.0,78.7 1115.6,78.4 1116.3,78.1 1117.0,77.8 1117.6,77.6 1118.3,77.3 1118.9,77.0 1119.6,76.8 1120.3,76.5 1120.9,76.3 1121.6,76.0 1122.3,75.8 1122.9,75.5 1123.6,75.3 1124.2,75.1 1124.9,74.8 1125.6,74.6 1126.2,74.4 1126.9,74.2 1127.6,74.0 1128.2,73.8 1128.9,73.6 1129.6,73.4 1130.2,73.2 1130.9,73.0 1131.5,72.8 1132.2,72.7 1132.9,72.5 1133.5,72.4 1134.2,72.2 1134.9,72.1 1135.5,71.9 1136.2,71.8 1136.8,71.6 1137.5,71.5 1138.2,71.4 1138.8,71.2 1139.5,71.1 1140.2,71.0 1140.8,70.9 1141.5,70.8 1142.1,70.7 1142.8,70.5 1143.5,70.4 1144.1,70.3 1144.8,70.2 1145.5,70.2 1146.1,70.1 1146.8,70.0 1147.5,69.9 1148.1,69.8 1148.8,69.7 1149.4,69.7 1150.1,69.6 1150.8,69.5 1151.4,69.4 1152.1,69.4 1152.8,69.3 1153.4,69.2 1154.1,69.2 1154.7,69.1 1155.4,69.0 1156.1,69.0 1156.7,68.9 1157.4,68.8 1158.1,68.8 1158.7,68.7 1159.4,68.7 1160.0,68.6 1160.7,68.6 1161.4,68.5 1162.0,68.5 1162.7,68.4 1163.4,68.4 1164.0,68.3 1164.7,68.3 1165.4,68.3 1166.0,68.3 1166.7,68.2 1167.3,68.2 1168.0,68.2 1168.7,68.2 1169.3,68.2 1170.0,68.1 1170.7,68.1 1171.3,68.1 1172.0,68.1 1172.6,68.1 1173.3,68.1 1174.0,68.1 1174.6,68.0 1175.3,68.0 1176.0,68.0 1176.6,68.0 1177.3,68.0 1178.0,68.0 1178.6,68.0 1179.3,67.9 1179.9,67.9 1180.6,67.9 1181.3,67.9 1181.9,67.9 1182.6,67.9 1183.3,67.9 1183.9,67.9 1184.6,67.8 1185.2,67.8 1185.9,67.8 1186.6,67.8 1187.2,67.8 1187.9,67.8 1188.6,67.8 1189.2,67.8 1189.9,67.8 1190.5,67.7 1191.2,67.7 1191.9,67.7 1192.5,67.7 1193.2,67.7 1193.9,67.7 1194.5,67.7 1195.2,67.7 1195.9,67.7 1196.5,67.7 1197.2,67.6 1197.8,67.6 1198.5,67.6 1199.2,67.6 1199.8,67.6 1200.5,67.6 1201.2,67.6 1201.8,67.6 1202.5,67.6 1203.1,67.6 1203.8,67.6 1204.5,67.6 1205.1,67.6 1205.8,67.6 1206.5,67.6 1207.1,67.5 1207.8,67.5 1208.5,67.5 1209.1,67.5 1209.8,67.5 1210.4,67.5 1211.1,67.5 1211.8,67.5 1212.4,67.5 1213.1,67.5 1213.8,67.5 1214.4,67.5 1215.1,67.5 1215.7,67.5 1216.4,67.5 1217.1,67.5 1217.7,67.5 1218.4,67.5 1219.1,67.5 1219.7,67.5 1220.4,67.5 1221.0,67.5 1221.7,67.5 1222.4,67.5 1223.0,67.4 1223.7,67.4 1224.4,67.4 1225.0,67.4 1225.7,67.4 1226.4,67.4 1227.0,67.4 1227.7,67.4 1228.3,67.4 1229.0,67.4 1229.7,67.4 1230.3,67.4 1231.0,67.4 1231.7,67.4 1232.3,67.4 1233.0,67.4 1233.6,67.4 1234.3,67.4 1235.0,67.4 1235.6,67.4 1236.3,67.4 1237.0,67.4 1237.6,67.4 1238.3,67.3 1239.0,67.3 1239.6,67.3 1240.3,67.3 1240.9,67.3 1241.6,67.3 1242.3,67.3 1242.9,67.3 1243.6,67.3 1244.3,67.3 1244.9,67.3 1245.6,67.3 1246.2,67.3 1246.9,67.3 1247.6,67.3 1248.2,67.3 1248.9,67.3 1249.6,67.3 1250.2,67.3 1250.9,67.3 1251.5,67.3 1252.2,67.3 1252.9,67.3 1253.5,67.2 1254.2,67.2 1254.9,67.2 1255.5,67.2 1256.2,67.2 1256.9,67.2 1257.5,67.2 1258.2,67.2 1258.8,67.2 1259.5,67.2 1260.2,67.2 1260.8,67.2 1261.5,67.2 1262.2,67.2 1262.8,67.2 1263.5,67.2 1264.1,67.2 1264.8,67.2 1265.5,67.2 1266.1,67.2 1266.8,67.2 1267.5,67.2 1268.1,67.2 1268.8,67.2 1269.5,67.2 1270.1,67.2 1270.8,67.2 1271.4,67.2 1272.1,67.2 1272.8,67.2 1273.4,67.1 1274.1,67.1 1274.8,67.1 1275.4,67.1 1276.1,67.1 1276.7,67.1 1277.4,67.1 1278.1,67.1 1278.7,67.1 1279.4,67.1 1280.1,67.1 1280.7,67.1 1281.4,67.1 1282.0,67.1 1282.7,67.1 1283.4,67.1 1284.0,67.1 1284.7,67.1 1285.4,67.1 1286.0,67.1 1286.7,67.1 1287.4,67.1 1288.0,67.1 1288.7,67.1 1289.3,67.1 1290.0,67.1 1290.7,67.1 1291.3,67.1 1292.0,67.1 1292.7,67.1 1293.3,67.1 1294.0,67.1 1294.6,67.1 1295.3,67.1 1296.0,67.1 1296.6,67.1 1297.3,67.1 1298.0,67.1 1298.6,67.1 1299.3,67.1 1299.3,67.1 1299.9,68.3 1300.6,69.8 1301.3,71.4 1301.9,73.2 1302.6,75.1 1303.3,77.1 1303.9,78.9 1304.6,80.7 1305.2,82.6 1305.9,84.4 1306.6,86.3 1307.2,88.2 1307.9,90.0 1308.6,91.8 1309.2,93.5 1309.9,95.2 1310.5,96.8 1311.2,98.4 1311.9,100.0 1312.5,101.5 1313.2,103.0 1313.9,104.5 1314.5,105.9 1315.2,107.3 1315.8,108.7 1316.5,110.1 1317.2,111.5 1317.8,112.8 1318.5,114.1 1319.2,115.4 1319.8,116.6 1320.5,117.9 1321.1,119.1 1321.8,120.3 1322.5,121.6 1323.1,122.8 1323.8,124.0 1324.5,125.1 1325.1,126.3 1325.8,127.5 1326.4,128.7 1327.1,129.8 1327.8,131.0 1328.4,132.1 1329.1,133.3 1329.7,134.4 1330.4,135.6 1331.1,136.7 1331.7,137.8 1332.4,138.9 1333.1,140.0 1333.1,140.0 1333.7,138.5 1334.4,136.9 1335.0,135.4 1335.7,134.0 1336.4,132.6 1337.0,131.3 1337.7,129.9 1338.4,128.5 1339.0,127.2 1339.7,125.9 1340.3,124.6 1341.0,123.3 1341.7,122.1 1342.3,120.9 1343.0,119.7 1343.7,118.5 1344.3,117.3 1345.0,116.2 1345.7,115.1 1346.3,114.0 1347.0,113.0 1347.6,111.9 1348.3,110.9 1349.0,109.9 1349.6,108.9 1350.3,108.0 1351.0,107.0 1351.6,106.1 1352.3,105.2 1352.9,104.3 1353.6,103.5 1354.3,102.6 1354.9,101.8 1355.6,101.0 1356.3,100.2 1356.9,99.5 1357.6,98.8 1358.2,98.1 1358.9,97.4 1359.6,96.8 1360.2,96.2 1360.9,95.6 1361.6,95.0 1362.2,94.4 1362.9,93.9 1363.5,93.4 1364.2,92.9 1364.9,92.4 1365.5,91.9 1366.2,91.5 1366.9,91.0 1367.5,90.6 1368.2,90.1 1368.9,89.7 1369.5,89.3 1370.2,88.9 1370.8,88.4 1371.5,88.0 1372.2,87.7 1372.8,87.3 1373.5,86.9 1374.2,86.5 1374.8,86.1 1375.5,85.7 1376.1,85.4 1376.8,85.0 1377.5,84.6 1378.1,84.3 1378.8,83.9 1379.5,83.6 1380.1,83.2 1380.8,82.9 1381.4,82.6 1382.1,82.2 1382.8,81.9 1383.4,81.6 1384.1,81.2 1384.8,80.9 1385.4,80.6 1386.1,80.3 1386.7,79.9 1387.4,79.6 1388.1,79.3 1388.7,79.0 1389.4,78.7 1390.1,78.4 1390.7,78.2 1391.4,77.9 1392.0,77.7 1392.7,77.4 1393.4,77.2 1394.0,77.0 1394.7,76.7 1395.4,76.5 1396.0,76.3 1396.7,76.1 1397.4,75.9 1398.0,75.8 1398.7,75.6 1399.3,75.4 1400.0,75.2 1400.7,75.1 1401.3,74.9 1402.0,74.7 1402.7,74.6 1403.3,74.4 1404.0,74.3 1404.6,74.1 1405.3,74.0 1406.0,73.8 1406.6,73.7 1407.3,73.5 1408.0,73.4 1408.6,73.2 1409.3,73.1 1409.9,73.0 1410.6,72.9 1411.3,72.7 1411.9,72.6 1412.6,72.5 1413.3,72.4 1413.9,72.2 1414.6,72.1 1415.2,72.0 1415.9,71.9 1416.6,71.8 1417.2,71.6 1417.9,71.5 1418.6,71.4 1419.2,71.3 1419.9,71.2 1420.5,71.1 1421.2,70.9 1421.9,70.8 1422.5,70.7 1423.2,70.6 1423.9,70.5 1424.5,70.4 1425.2,70.3 1425.9,70.2 1426.5,70.1 1427.2,70.0 1427.8,69.9 1428.5,69.8 1429.2,69.8 1429.8,69.7 1430.5,69.6 1431.2,69.6 1431.8,69.5 1432.5,69.5 1433.1,69.4 1433.8,69.3 1434.5,69.3 1435.1,69.3 1435.8,69.2 1436.5,69.2 1437.1,69.1 1437.8,69.1 1438.4,69.0 1439.1,69.0 1439.8,69.0 1440.4,68.9 1441.1,68.9 1441.8,68.8 1442.4,68.8 1443.1,68.8 1443.7,68.7 1444.4,68.7 1445.1,68.7 1445.7,68.6 1446.4,68.6 1447.1,68.5 1447.7,68.5 1448.4,68.5 1449.0,68.4 1449.7,68.4 1450.4,68.4 1451.0,68.4 1451.7,68.3 1452.4,68.3 1453.0,68.3 1453.7,68.2 1454.4,68.2 1455.0,68.2 1455.7,68.2 1456.3,68.1 1457.0,68.1 1457.7,68.1 1458.3,68.1 1459.0,68.1 1459.7,68.0 1460.3,68.0 1461.0,68.0 1461.6,68.0 1462.3,68.0 1463.0,68.0 1463.6,67.9 1464.3,67.9 1465.0,67.9 1465.6,67.9 1466.3,67.9 1466.9,67.9 1467.6,67.8 1468.3,67.8 1468.9,67.8 1469.6,67.8 1470.3,67.8 1470.9,67.8 1471.6,67.8 1472.2,67.7 1472.9,67.7 1473.6,67.7 1474.2,67.7 1474.9,67.7 1475.6,67.7 1476.2,67.7 1476.9,67.6 1477.5,67.6 1478.2,67.6 1478.9,67.6 1479.5,67.6 1480.2,67.6 1480.9,67.6 1481.5,67.6 1482.2,67.6 1482.9,67.6 1483.5,67.6 1484.2,67.5 1484.8,67.5 1485.5,67.5 1486.2,67.5 1486.8,67.5 1487.5,67.5 1488.2,67.5 1488.8,67.5 1489.5,67.5 1490.1,67.5 1490.8,67.5 1491.5,67.5 1492.1,67.5 1492.8,67.5 1493.5,67.5 1494.1,67.5 1494.8,67.5 1495.4,67.5 1496.1,67.5 1496.8,67.5 1497.4,67.5 1498.1,67.5 1498.8,67.5 1499.4,67.4 1500.1,67.4 1500.7,67.4 1501.4,67.4 1502.1,67.4 1502.7,67.4 1503.4,67.4 1504.1,67.4 1504.7,67.4 1505.4,67.4 1506.1,67.4 1506.7,67.4 1507.4,67.4 1508.0,67.4 1508.7,67.4 1509.4,67.4 1510.0,67.4 1510.7,67.4 1511.4,67.4 1512.0,67.4 1512.7,67.4 1513.3,67.4 1514.0,67.4 1514.7,67.4 1515.3,67.4 1516.0,67.4 1516.7,67.4 1517.3,67.4 1518.0,67.3 1518.6,67.3 1519.3,67.3 1520.0,67.3 1520.6,67.3 1521.3,67.3 1522.0,67.3 1522.6,67.3 1523.3,67.3 1523.9,67.3 1524.6,67.3 1525.3,67.3 1525.9,67.3 1526.6,67.3 1527.3,67.3 1527.9,67.3 1528.6,67.3 1529.2,67.3 1529.9,67.3 1530.6,67.3 1531.2,67.3 1531.9,67.3 1532.6,67.3 1533.2,67.3 1533.9,67.3 1534.6,67.3 1535.2,67.3 1535.9,67.3 1536.5,67.3 1537.2,67.3 1537.9,67.3 1538.5,67.3 1539.2,67.2 1539.9,67.2 1540.5,67.2 1541.2,67.2 1541.8,67.2 1542.5,67.2 1543.2,67.2 1543.8,67.2 1544.5,67.2 1545.2,67.2 1545.8,67.2 1546.5,67.2 1547.1,67.2 1547.8,67.2 1548.5,67.2 1549.1,67.2 1549.8,67.2 1550.5,67.2 1551.1,67.2 1551.8,67.2 1552.4,67.2 1553.1,67.2 1553.8,67.2 1554.4,67.2 1555.1,67.2 1555.8,67.2 1556.4,67.2 1557.1,67.2 1557.7,67.2 1558.4,67.2 1559.1,67.2 1559.7,67.2 1560.4,67.2 1561.1,67.2 1561.7,67.2 1562.4,67.2 1563.1,67.2 1563.7,67.2 1564.4,67.2 1565.0,67.2 1565.7,67.2 1566.4,67.2 1567.0,67.2 1567.7,67.1 1568.4,67.1 1569.0,67.1 1569.7,67.1 1570.3,67.1 1571.0,67.1 1571.7,67.1 1572.3,67.1 1573.0,67.1 1573.7,67.1 1574.3,67.1 1575.0,67.1 1575.6,67.1 1576.3,67.1 1577.0,67.1 1577.6,67.1 1578.3,67.1 1579.0,67.1 1579.6,67.1 1580.3,67.1 1580.9,67.1 1581.6,67.1 1582.3,67.1 1582.9,67.1 1583.6,67.1 1584.3,67.1 1584.9,67.1 1585.6,67.1 1586.2,67.1 1586.9,67.1 1587.6,67.1 1588.2,67.1 1588.9,67.1 1589.6,67.1 1590.2,67.1 1590.9,67.1 1591.6,67.1 1592.2,67.1 1592.9,67.1 1593.5,67.1 1594.2,67.1 1594.9,67.1 1595.5,67.1 1596.2,67.1 1596.9,67.1 1597.5,67.1 1598.2,67.1 1598.8,67.1 1599.5,67.1 1600.2,67.1 1600.8,67.1 1601.5,67.1 1602.2,67.1 1602.8,67.1 1603.5,67.1 1604.1,67.1 1604.8,67.1 1605.5,67.1 1606.1,67.1 1606.8,67.1 1607.5,67.1 1608.1,67.1 1608.8,67.1 1609.4,67.1 1610.1,67.1 1610.8,67.1 1611.4,67.1 1612.1,67.1 1612.8,67.1 1613.4,67.1 1614.1,67.1 1614.7,67.1 1615.4,67.1 1616.1,67.1 1616.7,67.1 1617.4,67.1 1618.1,67.1 1618.7,67.1 1619.4,67.1 1620.1,67.1 1620.7,67.1 1621.4,67.1 1622.0,67.1 1622.7,67.1 1623.4,67.1 1624.0,67.1 1624.7,67.1 1625.4,67.1 1626.0,67.1 1626.7,67.1 1627.3,67.1 1628.0,67.1 1628.7,67.1 1629.3,67.1 1630.0,67.1 1630.7,67.1 1631.3,67.1 1632.0,67.1 1632.6,67.1 1633.3,67.1 1634.0,67.1 1634.6,67.1 1635.3,67.1 1636.0,67.1 1636.6,67.1 1637.3,67.1 1637.9,67.1 1638.6,67.1 1639.3,67.1 1639.9,67.1 1640.6,67.1 1641.3,67.1 1641.9,67.1 1642.6,67.1 1643.3,67.1 1643.9,67.1 1644.6,67.1 1645.2,67.1 1645.9,67.1 1646.6,67.1 1647.2,67.1 1647.9,67.1 1648.6,67.1 1649.2,67.1 1649.9,67.1 1650.5,67.1 1651.2,67.1 1651.9,67.1 1652.5,67.1 1653.2,67.1 1653.9,67.1 1654.5,67.1 1655.2,67.1 1655.8,67.1 1656.5,67.1 1657.2,67.1 1657.8,67.1 1658.5,67.1 1659.2,67.1 1659.8,67.1 1660.5,67.1 1661.1,67.2 1661.8,67.2 1662.5,67.2 1663.1,67.2 1663.8,67.2 1664.5,67.2 1665.1,67.2 1665.8,67.2 1666.4,67.2 1667.1,67.2 1667.8,67.2 1668.4,67.2 1669.1,67.2 1669.8,67.2 1670.4,67.2 1671.1,67.2 1671.8,67.2 1672.4,67.2 1673.1,67.2 1673.7,67.2 1674.4,67.2 1675.1,67.2 1675.7,67.2 1676.4,67.2 1677.1,67.2 1677.7,67.2 1678.4,67.2 1679.0,67.2 1679.7,67.2 1680.4,67.2 1681.0,67.2 1681.7,67.2 1682.4,67.2 1683.0,67.2 1683.7,67.2 1684.3,67.2 1685.0,67.2 1685.7,67.3 1686.3,67.3 1687.0,67.3 1687.7,67.3 1688.3,67.3 1689.0,67.3 1689.6,67.3 1690.3,67.3 1691.0,67.3 1691.6,67.3 1692.3,67.3 1693.0,67.3 1693.6,67.3 1694.3,67.3 1694.9,67.3 1695.6,67.3 1696.3,67.3 1696.9,67.3 1697.6,67.3" fill="none" stroke="#0072BD" stroke-width="2.7" stroke-linejoin="round" stroke-linecap="round" clip-path="url(#cB)"/>
<polyline points="1035.4,507.1 1036.1,488.1 1036.7,471.5 1037.4,456.9 1038.0,444.0 1038.7,432.7 1039.4,422.4 1040.0,410.7 1040.7,400.0 1041.4,390.0 1042.0,380.6 1042.7,371.6 1043.3,362.9 1044.0,354.6 1044.7,346.6 1045.3,338.8 1046.0,331.2 1046.7,323.9 1047.3,316.8 1048.0,310.0 1048.6,303.5 1049.3,297.3 1050.0,291.4 1050.6,285.9 1051.3,280.7 1052.0,275.7 1052.6,271.1 1053.3,266.8 1053.9,262.6 1054.6,258.6 1055.3,254.7 1055.9,250.8 1056.6,247.1 1057.3,243.3 1057.9,239.7 1058.6,236.2 1059.2,232.7 1059.9,229.4 1060.6,226.2 1061.2,223.1 1061.9,220.2 1062.6,217.4 1063.2,214.7 1063.9,212.1 1064.5,209.5 1065.2,207.0 1065.9,204.6 1066.5,202.2 1067.2,199.9 1067.8,197.6 1068.5,195.4 1069.2,193.3 1069.8,191.2 1070.5,189.2 1071.2,187.3 1071.8,185.4 1072.5,183.6 1073.1,181.8 1073.8,180.2 1074.5,178.5 1075.1,176.9 1075.8,175.4 1076.5,173.9 1077.1,172.5 1077.8,171.0 1078.4,169.7 1079.1,168.3 1079.8,167.0 1080.4,165.8 1081.1,164.5 1081.8,163.3 1082.4,162.1 1083.1,161.0 1083.7,159.9 1084.4,158.7 1085.1,157.7 1085.7,156.6 1086.4,155.6 1087.1,154.6 1087.7,153.6 1088.4,152.7 1089.0,151.8 1089.7,150.9 1090.4,150.0 1091.0,149.2 1091.7,148.3 1092.3,147.5 1093.0,146.7 1093.7,146.0 1094.3,145.2 1095.0,144.4 1095.7,143.7 1096.3,142.9 1097.0,142.2 1097.6,141.5 1098.3,140.8 1099.0,140.1 1099.6,139.3 1100.3,138.6 1101.0,137.9 1101.6,137.2 1102.3,136.5 1102.9,135.9 1103.6,135.2 1104.3,134.5 1104.9,133.8 1105.6,133.2 1106.3,132.5 1106.9,131.8 1107.6,131.2 1108.2,130.5 1108.9,129.9 1109.6,129.3 1110.2,128.7 1110.9,128.0 1111.6,127.4 1112.2,126.9 1112.9,126.3 1113.5,125.7 1114.2,125.1 1114.9,124.6 1115.5,124.0 1116.2,123.5 1116.9,122.9 1117.5,122.4 1118.2,121.8 1118.8,121.3 1119.5,120.7 1120.2,120.2 1120.8,119.7 1121.5,119.1 1122.1,118.6 1122.8,118.0 1123.5,117.5 1124.1,116.9 1124.8,116.4 1125.5,115.8 1126.1,115.3 1126.8,114.7 1127.4,114.2 1128.1,113.6 1128.8,113.1 1129.4,112.5 1130.1,112.0 1130.8,111.4 1131.4,110.9 1132.1,110.4 1132.7,109.9 1133.4,109.4 1134.1,108.8 1134.7,108.3 1135.4,107.8 1136.1,107.3 1136.7,106.9 1137.4,106.4 1138.0,105.9 1138.7,105.4 1139.4,104.9 1140.0,104.5 1140.7,104.0 1141.4,103.5 1142.0,103.1 1142.7,102.6 1143.3,102.1 1144.0,101.7 1144.7,101.2 1145.3,100.8 1146.0,100.3 1146.6,99.9 1147.3,99.5 1148.0,99.0 1148.6,98.6 1149.3,98.2 1150.0,97.7 1150.6,97.3 1151.3,96.9 1151.9,96.5 1152.6,96.1 1153.3,95.7 1153.9,95.3 1154.6,94.9 1155.3,94.5 1155.9,94.1 1156.6,93.7 1157.2,93.3 1157.9,92.9 1158.6,92.6 1159.2,92.2 1159.9,91.8 1160.6,91.4 1161.2,91.1 1161.9,90.7 1162.5,90.4 1163.2,90.0 1163.9,89.7 1164.5,89.3 1165.2,89.0 1165.9,88.7 1166.5,88.4 1167.2,88.1 1167.8,87.7 1168.5,87.4 1169.2,87.1 1169.8,86.8 1170.5,86.5 1171.2,86.2 1171.8,85.9 1172.5,85.6 1173.1,85.4 1173.8,85.1 1174.5,84.8 1175.1,84.5 1175.8,84.2 1176.4,83.9 1177.1,83.7 1177.8,83.4 1178.4,83.1 1179.1,82.8 1179.8,82.6 1180.4,82.3 1181.1,82.0 1181.7,81.8 1182.4,81.5 1183.1,81.3 1183.7,81.0 1184.4,80.8 1185.1,80.5 1185.7,80.3 1186.4,80.0 1187.0,79.8 1187.7,79.6 1188.4,79.3 1189.0,79.1 1189.7,78.9 1190.4,78.7 1191.0,78.4 1191.7,78.2 1192.3,78.0 1193.0,77.8 1193.7,77.5 1194.3,77.3 1195.0,77.1 1195.7,76.9 1196.3,76.7 1197.0,76.5 1197.6,76.3 1198.3,76.1 1199.0,75.8 1199.6,75.6 1200.3,75.4 1201.0,75.2 1201.6,75.1 1202.3,74.9 1202.9,74.7 1203.6,74.5 1204.3,74.3 1204.9,74.1 1205.6,73.9 1206.2,73.8 1206.9,73.6 1207.6,73.4 1208.2,73.3 1208.9,73.1 1209.6,72.9 1210.2,72.8 1210.9,72.6 1211.5,72.4 1212.2,72.3 1212.9,72.1 1213.5,72.0 1214.2,71.8 1214.9,71.7 1215.5,71.5 1216.2,71.4 1216.8,71.2 1217.5,71.1 1218.2,70.9 1218.8,70.8 1219.5,70.6 1220.2,70.5 1220.8,70.3 1221.5,70.2 1222.1,70.1 1222.8,69.9 1223.5,69.8 1224.1,69.7 1224.8,69.5 1225.5,69.4 1226.1,69.3 1226.8,69.1 1227.4,69.0 1228.1,68.9 1228.8,68.7 1229.4,68.6 1230.1,68.5 1230.7,68.4 1231.4,68.2 1232.1,68.1 1232.7,68.0 1233.4,67.9 1234.1,67.8 1234.7,67.6 1235.4,67.5 1236.0,67.4 1236.7,67.3 1237.4,67.2 1238.0,67.1 1238.7,67.0 1239.4,66.8 1240.0,66.7 1240.7,66.6 1241.3,66.5 1242.0,66.4 1242.7,66.3 1243.3,66.2 1244.0,66.1 1244.7,66.0 1245.3,65.9 1246.0,65.7 1246.6,65.6 1247.3,65.5 1248.0,65.4 1248.6,65.3 1249.3,65.3 1250.0,65.2 1250.6,65.1 1251.3,65.0 1251.9,64.9 1252.6,64.8 1253.3,64.7 1253.9,64.7 1254.6,64.6 1255.3,64.5 1255.9,64.4 1256.6,64.4 1257.2,64.3 1257.9,64.2 1258.6,64.2 1259.2,64.1 1259.9,64.0 1260.5,64.0 1261.2,63.9 1261.9,63.8 1262.5,63.8 1263.2,63.7 1263.9,63.7 1264.5,63.6 1265.2,63.5 1265.8,63.5 1266.5,63.4 1267.2,63.4 1267.8,63.3 1268.5,63.3 1269.2,63.3 1269.8,63.2 1270.5,63.2 1271.1,63.1 1271.8,63.1 1272.5,63.0 1273.1,63.0 1273.8,63.0 1274.5,62.9 1275.1,62.9 1275.8,62.9 1276.4,62.8 1277.1,62.8 1277.8,62.8 1278.4,62.8 1279.1,62.7 1279.8,62.7 1280.4,62.7 1281.1,62.7 1281.7,62.6 1282.4,62.6 1283.1,62.6 1283.7,62.6 1284.4,62.6 1285.0,62.5 1285.7,62.5 1286.4,62.5 1287.0,62.5 1287.7,62.5 1288.4,62.5 1289.0,62.5 1289.7,62.5 1290.3,62.4 1291.0,62.4 1291.7,62.4 1292.3,62.4 1293.0,62.4 1293.7,62.4 1294.3,62.4 1295.0,62.4 1295.6,62.3 1296.3,62.3 1297.0,62.3 1297.6,62.3 1298.3,62.3 1299.0,62.3 1299.6,62.3 1300.3,62.3 1300.9,62.3 1301.6,62.3 1302.3,62.2 1302.9,62.2 1303.6,62.2 1304.3,62.2 1304.9,62.2 1305.6,62.2 1306.2,62.2 1306.9,62.2 1307.6,62.2 1308.2,62.2 1308.9,62.2 1309.6,62.2 1310.2,62.2 1310.9,62.2 1311.5,62.2 1312.2,62.2 1312.9,62.2 1313.5,62.2 1314.2,62.2 1314.8,62.2 1315.5,62.2 1316.2,62.2 1316.8,62.2 1317.5,62.2 1318.2,62.2 1318.8,62.3 1319.5,62.3 1320.1,62.3 1320.8,62.4 1321.5,62.4 1322.1,62.5 1322.8,62.6 1323.5,62.7 1324.1,62.8 1324.8,62.9 1325.4,63.1 1326.1,63.2 1326.8,63.4 1327.4,63.6 1328.1,63.8 1328.8,64.0 1329.4,64.2 1330.1,64.4 1330.7,64.6 1331.4,64.8 1332.1,65.0 1332.7,65.3 1333.4,65.5 1334.1,65.8 1334.7,66.0 1335.4,66.3 1336.0,66.6 1336.7,66.8 1337.4,67.1 1338.0,67.4 1338.7,67.7 1339.3,68.0 1340.0,68.3 1340.7,68.6 1341.3,68.9 1342.0,69.2 1342.7,69.5 1343.3,69.8 1344.0,70.2 1344.6,70.5 1345.3,70.8 1346.0,71.1 1346.6,71.4 1347.3,71.7 1348.0,72.0 1348.6,72.3 1349.3,72.6 1349.9,72.9 1350.6,73.2 1351.3,73.5 1351.9,73.8 1352.6,74.2 1353.3,74.5 1353.9,74.8 1354.6,75.1 1355.2,75.3 1355.9,75.6 1356.6,75.9 1357.2,76.2 1357.9,76.5 1358.6,76.7 1359.2,77.0 1359.9,77.3 1360.5,77.5 1361.2,77.8 1361.9,78.1 1362.5,78.3 1363.2,78.6 1363.9,78.8 1364.5,79.1 1365.2,79.4 1365.8,79.6 1366.5,79.9 1367.2,80.2 1367.8,80.5 1368.5,80.8 1369.1,81.1 1369.8,81.4 1370.5,81.7 1371.1,82.0 1371.8,82.3 1372.5,82.6 1373.1,82.9 1373.8,83.2 1374.4,83.5 1375.1,83.8 1375.8,84.1 1376.4,84.3 1377.1,84.6 1377.8,84.8 1378.4,85.1 1379.1,85.3 1379.7,85.5 1380.4,85.7 1381.1,85.9 1381.7,86.1 1382.4,86.3 1383.1,86.5 1383.7,86.7 1384.4,86.9 1385.0,87.0 1385.7,87.2 1386.4,87.3 1387.0,87.5 1387.7,87.6 1388.4,87.8 1389.0,87.9 1389.7,88.0 1390.3,88.1 1391.0,88.2 1391.7,88.3 1392.3,88.4 1393.0,88.4 1393.7,88.5 1394.3,88.6 1395.0,88.6 1395.6,88.7 1396.3,88.7 1397.0,88.7 1397.6,88.8 1398.3,88.8 1398.9,88.8 1399.6,88.9 1400.3,88.9 1400.9,88.9 1401.6,88.9 1402.3,88.9 1402.9,88.9 1403.6,88.9 1404.2,88.9 1404.9,88.9 1405.6,88.9 1406.2,88.9 1406.9,88.9 1407.6,88.9 1408.2,88.9 1408.9,88.8 1409.5,88.8 1410.2,88.7 1410.9,88.7 1411.5,88.6 1412.2,88.6 1412.9,88.5 1413.5,88.4 1414.2,88.4 1414.8,88.3 1415.5,88.2 1416.2,88.1 1416.8,88.0 1417.5,87.9 1418.2,87.8 1418.8,87.7 1419.5,87.6 1420.1,87.5 1420.8,87.3 1421.5,87.2 1422.1,87.1 1422.8,87.0 1423.4,86.8 1424.1,86.7 1424.8,86.6 1425.4,86.4 1426.1,86.3 1426.8,86.2 1427.4,86.0 1428.1,85.9 1428.7,85.8 1429.4,85.6 1430.1,85.5 1430.7,85.4 1431.4,85.2 1432.1,85.1 1432.7,84.9 1433.4,84.8 1434.0,84.7 1434.7,84.5 1435.4,84.4 1436.0,84.3 1436.7,84.1 1437.4,84.0 1438.0,83.8 1438.7,83.7 1439.3,83.6 1440.0,83.4 1440.7,83.3 1441.3,83.1 1442.0,83.0 1442.7,82.8 1443.3,82.7 1444.0,82.5 1444.6,82.4 1445.3,82.2 1446.0,82.1 1446.6,81.9 1447.3,81.7 1448.0,81.6 1448.6,81.4 1449.3,81.3 1449.9,81.1 1450.6,80.9 1451.3,80.7 1451.9,80.6 1452.6,80.4 1453.2,80.2 1453.9,80.0 1454.6,79.8 1455.2,79.7 1455.9,79.5 1456.6,79.3 1457.2,79.1 1457.9,78.9 1458.5,78.7 1459.2,78.5 1459.9,78.3 1460.5,78.1 1461.2,77.9 1461.9,77.7 1462.5,77.6 1463.2,77.4 1463.8,77.2 1464.5,77.0 1465.2,76.9 1465.8,76.7 1466.5,76.6 1467.2,76.4 1467.8,76.3 1468.5,76.2 1469.1,76.0 1469.8,75.9 1470.5,75.8 1471.1,75.7 1471.8,75.6 1472.5,75.5 1473.1,75.4 1473.8,75.3 1474.4,75.2 1475.1,75.1 1475.8,75.0 1476.4,74.9 1477.1,74.8 1477.7,74.7 1478.4,74.6 1479.1,74.5 1479.7,74.4 1480.4,74.3 1481.1,74.2 1481.7,74.1 1482.4,73.9 1483.0,73.8 1483.7,73.7 1484.4,73.6 1485.0,73.4 1485.7,73.3 1486.4,73.2 1487.0,73.0 1487.7,72.9 1488.3,72.8 1489.0,72.7 1489.7,72.5 1490.3,72.4 1491.0,72.2 1491.7,72.1 1492.3,72.0 1493.0,71.8 1493.6,71.7 1494.3,71.6 1495.0,71.4 1495.6,71.3 1496.3,71.2 1497.0,71.0 1497.6,70.9 1498.3,70.8 1498.9,70.6 1499.6,70.5 1500.3,70.3 1500.9,70.2 1501.6,70.1 1502.3,69.9 1502.9,69.8 1503.6,69.6 1504.2,69.5 1504.9,69.4 1505.6,69.2 1506.2,69.1 1506.9,68.9 1507.5,68.8 1508.2,68.6 1508.9,68.5 1509.5,68.4 1510.2,68.2 1510.9,68.1 1511.5,67.9 1512.2,67.8 1512.8,67.6 1513.5,67.5 1514.2,67.3 1514.8,67.2 1515.5,67.1 1516.2,66.9 1516.8,66.8 1517.5,66.6 1518.1,66.5 1518.8,66.4 1519.5,66.2 1520.1,66.1 1520.8,66.0 1521.5,65.8 1522.1,65.7 1522.8,65.6 1523.4,65.5 1524.1,65.3 1524.8,65.2 1525.4,65.1 1526.1,65.0 1526.8,64.9 1527.4,64.7 1528.1,64.6 1528.7,64.5 1529.4,64.4 1530.1,64.3 1530.7,64.2 1531.4,64.1 1532.0,64.0 1532.7,63.9 1533.4,63.8 1534.0,63.8 1534.7,63.7 1535.4,63.6 1536.0,63.5 1536.7,63.4 1537.3,63.3 1538.0,63.3 1538.7,63.2 1539.3,63.1 1540.0,63.0 1540.7,63.0 1541.3,62.9 1542.0,62.8 1542.6,62.8 1543.3,62.7 1544.0,62.6 1544.6,62.5 1545.3,62.5 1546.0,62.4 1546.6,62.3 1547.3,62.3 1547.9,62.2 1548.6,62.2 1549.3,62.1 1549.9,62.0 1550.6,62.0 1551.3,61.9 1551.9,61.8 1552.6,61.8 1553.2,61.7 1553.9,61.6 1554.6,61.6 1555.2,61.5 1555.9,61.4 1556.6,61.3 1557.2,61.3 1557.9,61.2 1558.5,61.1 1559.2,61.0 1559.9,61.0 1560.5,60.9 1561.2,60.8 1561.8,60.7 1562.5,60.6 1563.2,60.6 1563.8,60.5 1564.5,60.4 1565.2,60.3 1565.8,60.2 1566.5,60.1 1567.1,60.0 1567.8,59.9 1568.5,59.8 1569.1,59.7 1569.8,59.6 1570.5,59.5 1571.1,59.4 1571.8,59.3 1572.4,59.2 1573.1,59.1 1573.8,59.0 1574.4,58.9 1575.1,58.8 1575.8,58.6 1576.4,58.5 1577.1,58.4 1577.7,58.3 1578.4,58.2 1579.1,58.1 1579.7,58.0 1580.4,57.9 1581.1,57.7 1581.7,57.6 1582.4,57.5 1583.0,57.4 1583.7,57.3 1584.4,57.2 1585.0,57.1 1585.7,56.9 1586.4,56.8 1587.0,56.7 1587.7,56.6 1588.3,56.5 1589.0,56.4 1589.7,56.2 1590.3,56.1 1591.0,56.0 1591.6,55.9 1592.3,55.8 1593.0,55.7 1593.6,55.6 1594.3,55.4 1595.0,55.3 1595.6,55.2 1596.3,55.1 1596.9,55.0 1597.6,54.9 1598.3,54.8 1598.9,54.6 1599.6,54.5 1600.3,54.4 1600.9,54.3 1601.6,54.2 1602.2,54.1 1602.9,54.0 1603.6,53.9 1604.2,53.8 1604.9,53.7 1605.6,53.6 1606.2,53.5 1606.9,53.4 1607.5,53.3 1608.2,53.2 1608.9,53.1 1609.5,53.0 1610.2,52.8 1610.9,52.7 1611.5,52.6 1612.2,52.5 1612.8,52.4 1613.5,52.3 1614.2,52.2 1614.8,52.1 1615.5,52.0 1616.1,51.9 1616.8,51.8 1617.5,51.7 1618.1,51.6 1618.8,51.5 1619.5,51.4 1620.1,51.3 1620.8,51.2 1621.4,51.1 1622.1,51.0 1622.8,50.9 1623.4,50.8 1624.1,50.7 1624.8,50.6 1625.4,50.5 1626.1,50.4 1626.7,50.3 1627.4,50.2 1628.1,50.1 1628.7,50.0 1629.4,49.9 1630.1,49.8 1630.7,49.7 1631.4,49.6 1632.0,49.5 1632.7,49.4 1633.4,49.3 1634.0,49.2 1634.7,49.0 1635.4,48.9 1636.0,48.8 1636.7,48.7 1637.3,48.6 1638.0,48.5 1638.7,48.4 1639.3,48.3 1640.0,48.2 1640.7,48.1 1641.3,48.0 1642.0,47.9 1642.6,47.7 1643.3,47.6 1644.0,47.5 1644.6,47.4 1645.3,47.3 1645.9,47.2 1646.6,47.1 1647.3,47.0 1647.9,46.9 1648.6,46.8 1649.3,46.6 1649.9,46.5 1650.6,46.4 1651.2,46.3 1651.9,46.2 1652.6,46.1 1653.2,46.0 1653.9,45.9 1654.6,45.7 1655.2,45.6 1655.9,45.5 1656.5,45.4 1657.2,45.3 1657.9,45.2 1658.5,45.1 1659.2,45.0 1659.9,44.9 1660.5,44.7 1661.2,44.6 1661.8,44.5 1662.5,44.4 1663.2,44.3 1663.8,44.2 1664.5,44.1 1665.2,44.0 1665.8,43.9 1666.5,43.7 1667.1,43.6 1667.8,43.5 1668.5,43.4 1669.1,43.3 1669.8,43.2 1670.4,43.1 1671.1,43.0 1671.8,42.9 1672.4,42.7 1673.1,42.6 1673.8,42.5 1674.4,42.4 1675.1,42.3 1675.7,42.2 1676.4,42.1 1677.1,42.0 1677.7,41.8 1678.4,41.7 1679.1,41.6 1679.7,41.5 1680.4,41.4 1681.0,41.3 1681.7,41.2 1682.4,41.1 1683.0,40.9 1683.7,40.8 1684.4,40.7 1685.0,40.6 1685.7,40.5 1686.3,40.4 1687.0,40.3 1687.7,40.2 1688.3,40.0 1689.0,39.9 1689.7,39.8 1690.3,39.7 1691.0,39.6 1691.6,39.5 1692.3,39.4 1693.0,39.3 1693.6,39.1 1694.3,39.0 1695.0,38.9 1695.6,38.8 1696.3,38.7 1696.9,38.6 1697.6,38.5" fill="none" stroke="#D95319" stroke-width="2.7" stroke-linejoin="round" stroke-linecap="round" clip-path="url(#cB)"/>
<polyline points="1035.4,442.3 1036.1,443.6 1036.7,444.8 1037.4,445.9 1038.0,446.9 1038.7,447.7 1039.4,448.5 1040.0,449.1 1040.7,449.7 1041.4,450.2 1042.0,450.8 1042.7,451.3 1043.3,451.8 1044.0,452.4 1044.7,452.9 1045.3,453.5 1046.0,454.1 1046.7,454.9 1047.3,455.7 1048.0,456.8 1048.6,458.1 1049.3,459.6 1050.0,461.3 1050.6,463.2 1051.3,465.0 1052.0,467.0 1052.6,468.9 1053.3,470.9 1053.9,473.1 1054.6,475.4 1055.3,477.9 1055.9,480.6 1056.6,483.6 1057.3,486.9 1057.9,490.3 1058.6,493.9 1059.2,497.5 1059.9,501.0 1060.6,504.5 1061.2,507.9 1061.9,511.2 1062.6,514.3 1063.2,517.2 1063.9,520.0 1064.5,522.6 1065.2,525.0 1065.2,525.0 1065.9,524.5 1066.5,524.0 1067.2,523.6 1067.9,523.1 1068.5,522.7 1069.2,522.3 1069.8,521.9 1070.5,521.5 1071.2,521.2 1071.8,520.9 1072.5,520.7 1073.2,520.5 1073.8,520.3 1074.5,520.1 1075.1,519.9 1075.8,519.7 1076.5,519.3 1077.1,518.9 1077.8,518.4 1078.5,517.8 1079.1,517.0 1079.8,516.2 1080.4,515.4 1081.1,514.5 1081.8,513.6 1082.4,512.6 1083.1,511.6 1083.8,510.7 1084.4,509.8 1085.1,508.8 1085.8,507.9 1086.4,506.9 1087.1,505.9 1087.7,504.9 1088.4,503.9 1089.1,502.9 1089.7,501.9 1090.4,500.9 1091.1,499.9 1091.7,498.9 1092.4,497.9 1093.0,496.9 1093.7,495.9 1094.4,494.9 1095.0,494.0 1095.7,493.0 1096.4,492.0 1097.0,491.0 1097.7,490.1 1098.4,489.1 1099.0,488.1 1099.7,487.2 1100.3,486.2 1101.0,485.3 1101.7,484.4 1102.3,483.4 1103.0,482.5 1103.7,481.6 1104.3,480.7 1105.0,479.8 1105.6,478.9 1106.3,478.0 1107.0,477.1 1107.6,476.2 1108.3,475.3 1109.0,474.5 1109.6,473.6 1110.3,472.8 1111.0,472.0 1111.6,471.2 1112.3,470.5 1112.9,469.8 1113.6,469.1 1114.3,468.5 1114.9,467.9 1115.6,467.3 1116.3,466.8 1116.9,466.2 1117.6,465.7 1118.2,465.2 1118.9,464.7 1119.6,464.2 1120.2,463.7 1120.9,463.2 1121.6,462.6 1122.2,462.1 1122.9,461.5 1123.6,460.9 1124.2,460.2 1124.9,459.5 1125.5,458.8 1126.2,458.1 1126.9,457.4 1127.5,456.6 1128.2,455.9 1128.9,455.1 1129.5,454.3 1130.2,453.6 1130.8,452.8 1131.5,452.0 1132.2,451.3 1132.8,450.5 1133.5,449.7 1134.2,448.9 1134.8,448.1 1135.5,447.3 1136.1,446.5 1136.8,445.7 1137.5,444.9 1138.1,444.1 1138.8,443.4 1139.5,442.6 1140.1,441.8 1140.8,441.1 1141.5,440.4 1142.1,439.7 1142.8,439.0 1143.4,438.3 1144.1,437.7 1144.8,437.1 1145.4,436.5 1146.1,435.9 1146.8,435.3 1147.4,434.8 1148.1,434.2 1148.7,433.7 1149.4,433.1 1150.1,432.6 1150.7,432.0 1151.4,431.5 1152.1,431.0 1152.7,430.5 1153.4,429.9 1154.1,429.4 1154.7,428.8 1155.4,428.3 1156.0,427.7 1156.7,427.2 1157.4,426.6 1158.0,426.1 1158.7,425.5 1159.4,425.0 1160.0,424.4 1160.7,423.9 1161.3,423.3 1162.0,422.8 1162.7,422.3 1163.3,421.7 1164.0,421.2 1164.7,420.7 1165.3,420.2 1166.0,419.6 1166.7,419.1 1167.3,418.6 1168.0,418.1 1168.6,417.6 1169.3,417.2 1170.0,416.7 1170.6,416.2 1171.3,415.7 1172.0,415.2 1172.6,414.8 1173.3,414.3 1173.9,413.8 1174.6,413.4 1175.3,412.9 1175.9,412.5 1176.6,412.0 1177.3,411.6 1177.9,411.1 1178.6,410.7 1179.2,410.3 1179.9,409.8 1180.6,409.4 1181.2,409.0 1181.9,408.6 1182.6,408.2 1183.2,407.8 1183.9,407.3 1184.6,406.9 1185.2,406.5 1185.9,406.1 1186.5,405.7 1187.2,405.3 1187.9,404.9 1188.5,404.5 1189.2,404.1 1189.9,403.7 1190.5,403.4 1191.2,403.0 1191.8,402.6 1192.5,402.3 1193.2,402.0 1193.8,401.7 1194.5,401.4 1195.2,401.1 1195.8,400.8 1196.5,400.5 1197.2,400.2 1197.8,400.0 1198.5,399.7 1199.1,399.4 1199.8,399.2 1200.5,398.9 1201.1,398.7 1201.8,398.4 1202.5,398.2 1203.1,397.9 1203.8,397.7 1204.4,397.4 1205.1,397.2 1205.8,397.0 1206.4,396.7 1207.1,396.5 1207.8,396.3 1208.4,396.1 1209.1,395.9 1209.8,395.7 1210.4,395.5 1211.1,395.3 1211.7,395.2 1212.4,395.0 1213.1,394.8 1213.7,394.6 1214.4,394.5 1215.1,394.3 1215.7,394.1 1216.4,394.0 1217.0,393.8 1217.7,393.7 1218.4,393.5 1219.0,393.3 1219.7,393.2 1220.4,393.0 1221.0,392.8 1221.7,392.7 1222.3,392.5 1223.0,392.4 1223.7,392.2 1224.3,392.1 1225.0,392.0 1225.7,391.8 1226.3,391.7 1227.0,391.6 1227.7,391.4 1228.3,391.3 1229.0,391.2 1229.6,391.1 1230.3,391.0 1231.0,390.9 1231.6,390.8 1232.3,390.7 1233.0,390.6 1233.6,390.5 1234.3,390.5 1234.9,390.4 1235.6,390.3 1236.3,390.3 1236.9,390.2 1237.6,390.2 1238.3,390.1 1238.9,390.0 1239.6,390.0 1240.3,389.9 1240.9,389.9 1241.6,389.8 1242.2,389.7 1242.9,389.7 1243.6,389.6 1244.2,389.6 1244.9,389.5 1245.6,389.5 1246.2,389.4 1246.9,389.4 1247.5,389.3 1248.2,389.3 1248.9,389.2 1249.5,389.2 1250.2,389.1 1250.9,389.1 1251.5,389.0 1252.2,389.0 1252.9,388.9 1253.5,388.9 1254.2,388.9 1254.8,388.8 1255.5,388.8 1256.2,388.7 1256.8,388.7 1257.5,388.7 1258.2,388.6 1258.8,388.6 1259.5,388.6 1260.1,388.6 1260.8,388.5 1261.5,388.5 1262.1,388.5 1262.8,388.5 1263.5,388.4 1264.1,388.4 1264.8,388.4 1265.5,388.4 1266.1,388.3 1266.8,388.3 1267.4,388.3 1268.1,388.3 1268.8,388.2 1269.4,388.2 1270.1,388.2 1270.8,388.2 1271.4,388.1 1272.1,388.1 1272.7,388.1 1273.4,388.1 1274.1,388.1 1274.7,388.0 1275.4,388.0 1276.1,388.0 1276.7,388.0 1277.4,388.0 1278.0,388.0 1278.7,388.0 1279.4,388.0 1280.0,388.0 1280.7,388.0 1281.4,388.0 1282.0,388.0 1282.7,388.0 1283.4,388.0 1284.0,388.0 1284.7,388.0 1285.3,388.0 1286.0,388.0 1286.7,388.0 1287.3,388.0 1288.0,388.0 1288.7,388.0 1289.3,388.0 1290.0,388.0 1290.6,388.0 1291.3,388.0 1292.0,388.0 1292.6,388.0 1293.3,388.0 1294.0,388.0 1294.6,388.1 1295.3,388.1 1296.0,388.1 1296.6,388.1 1297.3,388.1 1297.9,388.1 1298.6,388.1 1299.3,388.1 1299.9,388.2 1300.6,388.2 1301.3,388.2 1301.9,388.2 1302.6,388.2 1303.2,388.2 1303.9,388.2 1304.6,388.3 1305.2,388.3 1305.9,388.3 1306.6,388.3 1307.2,388.3 1307.9,388.3 1308.6,388.4 1309.2,388.4 1309.9,388.4 1310.5,388.4 1311.2,388.4 1311.9,388.5 1312.5,388.5 1313.2,388.5 1313.9,388.5 1313.9,388.5 1314.5,389.4 1315.2,390.3 1315.8,391.2 1316.5,392.0 1317.2,392.9 1317.8,393.7 1318.5,394.5 1319.2,395.4 1319.8,396.2 1320.5,396.9 1321.1,397.7 1321.8,398.4 1322.5,399.1 1323.1,399.9 1323.8,400.6 1324.5,401.2 1325.1,401.9 1325.8,402.6 1326.4,403.3 1327.1,403.9 1327.8,404.6 1328.4,405.2 1329.1,405.9 1329.8,406.5 1330.4,407.2 1331.1,407.8 1331.7,408.5 1332.4,409.1 1333.1,409.7 1333.7,410.4 1334.4,411.0 1335.1,411.7 1335.7,412.3 1336.4,413.0 1337.1,413.7 1337.7,414.3 1338.4,415.0 1339.0,415.6 1339.7,416.3 1340.4,416.9 1341.0,417.6 1341.7,418.3 1342.4,418.9 1343.0,419.6 1343.7,420.2 1344.3,420.9 1345.0,421.5 1345.7,422.2 1346.3,422.9 1347.0,423.5 1347.7,424.2 1348.3,424.9 1349.0,425.5 1349.6,426.2 1350.3,426.9 1351.0,427.6 1351.6,428.3 1352.3,429.0 1353.0,429.7 1353.6,430.5 1354.3,431.3 1354.9,432.2 1355.6,433.0 1356.3,433.9 1356.9,434.8 1357.6,435.7 1358.3,436.6 1358.9,437.5 1359.6,438.3 1360.2,439.2 1360.9,440.0 1361.6,440.7 1362.2,441.4 1362.9,442.1 1363.6,442.7 1364.2,443.2 1364.9,443.7 1365.6,444.1 1366.2,444.5 1366.9,444.8 1367.5,445.1 1368.2,445.4 1368.9,445.7 1369.5,445.9 1370.2,446.1 1370.9,446.3 1371.5,446.5 1372.2,446.7 1372.8,446.8 1373.5,446.9 1374.2,447.0 1374.8,447.0 1375.5,447.0 1376.2,447.0 1376.8,447.0 1377.5,446.9 1378.1,446.8 1378.8,446.7 1379.5,446.6 1380.1,446.5 1380.8,446.4 1381.5,446.2 1382.1,446.1 1382.8,445.9 1383.4,445.8 1384.1,445.6 1384.8,445.4 1385.4,445.2 1386.1,445.0 1386.8,444.8 1387.4,444.5 1388.1,444.3 1388.7,444.0 1389.4,443.8 1390.1,443.5 1390.7,443.2 1391.4,442.9 1392.1,442.6 1392.7,442.3 1393.4,442.0 1394.1,441.7 1394.7,441.4 1395.4,441.1 1396.0,440.8 1396.7,440.5 1397.4,440.2 1398.0,439.9 1398.7,439.6 1399.4,439.4 1400.0,439.1 1400.7,438.9 1401.3,438.7 1402.0,438.4 1402.7,438.2 1403.3,438.0 1404.0,437.8 1404.7,437.6 1405.3,437.4 1406.0,437.2 1406.6,437.0 1407.3,436.9 1408.0,436.7 1408.6,436.5 1409.3,436.3 1410.0,436.1 1410.6,435.9 1411.3,435.7 1411.9,435.4 1412.6,435.2 1413.3,435.0 1413.9,434.7 1414.6,434.5 1415.3,434.2 1415.9,433.9 1416.6,433.6 1417.2,433.3 1417.9,433.0 1418.6,432.6 1419.2,432.2 1419.9,431.8 1420.6,431.4 1421.2,431.0 1421.9,430.6 1422.5,430.1 1423.2,429.7 1423.9,429.2 1424.5,428.7 1425.2,428.3 1425.9,427.8 1426.5,427.3 1427.2,426.9 1427.9,426.4 1428.5,425.9 1429.2,425.5 1429.8,425.0 1430.5,424.6 1431.2,424.2 1431.8,423.8 1432.5,423.4 1433.2,423.0 1433.8,422.6 1434.5,422.2 1435.1,421.8 1435.8,421.5 1436.5,421.1 1437.1,420.7 1437.8,420.4 1438.5,420.0 1439.1,419.6 1439.8,419.3 1440.4,418.9 1441.1,418.6 1441.8,418.2 1442.4,417.9 1443.1,417.6 1443.8,417.2 1444.4,416.9 1445.1,416.5 1445.7,416.2 1446.4,415.9 1447.1,415.5 1447.7,415.2 1448.4,414.9 1449.1,414.6 1449.7,414.2 1450.4,413.9 1451.0,413.6 1451.7,413.3 1452.4,412.9 1453.0,412.6 1453.7,412.3 1454.4,412.0 1455.0,411.7 1455.7,411.3 1456.4,411.0 1457.0,410.7 1457.7,410.4 1458.3,410.1 1459.0,409.8 1459.7,409.5 1460.3,409.2 1461.0,408.9 1461.7,408.6 1462.3,408.3 1463.0,408.0 1463.6,407.7 1464.3,407.4 1465.0,407.2 1465.6,406.9 1466.3,406.6 1467.0,406.4 1467.6,406.1 1468.3,405.9 1468.9,405.6 1469.6,405.4 1470.3,405.1 1470.9,404.9 1471.6,404.7 1472.3,404.4 1472.9,404.2 1473.6,404.0 1474.2,403.8 1474.9,403.5 1475.6,403.3 1476.2,403.1 1476.9,402.9 1477.6,402.7 1478.2,402.5 1478.9,402.3 1479.5,402.1 1480.2,401.9 1480.9,401.7 1481.5,401.5 1482.2,401.3 1482.9,401.1 1483.5,400.9 1484.2,400.7 1484.9,400.5 1485.5,400.3 1486.2,400.1 1486.8,399.9 1487.5,399.7 1488.2,399.5 1488.8,399.3 1489.5,399.1 1490.2,398.9 1490.8,398.7 1491.5,398.5 1492.1,398.3 1492.8,398.1 1493.5,397.9 1494.1,397.7 1494.8,397.6 1495.5,397.4 1496.1,397.2 1496.8,397.1 1497.4,396.9 1498.1,396.7 1498.8,396.6 1499.4,396.5 1500.1,396.3 1500.8,396.2 1501.4,396.0 1502.1,395.9 1502.7,395.7 1503.4,395.6 1504.1,395.5 1504.7,395.3 1505.4,395.2 1506.1,395.0 1506.7,394.9 1507.4,394.8 1508.0,394.6 1508.7,394.5 1509.4,394.4 1510.0,394.2 1510.7,394.1 1511.4,394.0 1512.0,393.9 1512.7,393.7 1513.3,393.6 1514.0,393.5 1514.7,393.4 1515.3,393.3 1516.0,393.2 1516.7,393.1 1517.3,393.0 1518.0,392.9 1518.7,392.8 1519.3,392.8 1520.0,392.7 1520.6,392.6 1521.3,392.5 1522.0,392.5 1522.6,392.4 1523.3,392.4 1524.0,392.3 1524.6,392.3 1525.3,392.2 1525.9,392.2 1526.6,392.1 1527.3,392.1 1527.9,392.0 1528.6,392.0 1529.3,391.9 1529.9,391.9 1530.6,391.9 1531.2,391.8 1531.9,391.8 1532.6,391.7 1533.2,391.7 1533.9,391.7 1534.6,391.6 1535.2,391.6 1535.9,391.6 1536.5,391.5 1537.2,391.5 1537.9,391.5 1538.5,391.5 1539.2,391.5 1539.9,391.4 1540.5,391.4 1541.2,391.4 1541.8,391.4 1542.5,391.4 1543.2,391.4 1543.8,391.4 1544.5,391.4 1545.2,391.3 1545.8,391.3 1546.5,391.3 1547.2,391.3 1547.8,391.3 1548.5,391.3 1549.1,391.3 1549.8,391.3 1550.5,391.4 1551.1,391.4 1551.8,391.4 1552.5,391.4 1553.1,391.4 1553.8,391.4 1554.4,391.4 1555.1,391.4 1555.8,391.4 1556.4,391.5 1557.1,391.5 1557.8,391.5 1558.4,391.5 1559.1,391.5 1559.7,391.6 1560.4,391.6 1561.1,391.6 1561.7,391.6 1562.4,391.7 1563.1,391.7 1563.7,391.7 1564.4,391.7 1565.0,391.8 1565.7,391.8 1566.4,391.8 1567.0,391.9 1567.7,391.9 1568.4,392.0 1569.0,392.0 1569.7,392.1 1570.3,392.1 1571.0,392.2 1571.7,392.3 1572.3,392.4 1573.0,392.5 1573.7,392.5 1574.3,392.6 1575.0,392.7 1575.6,392.8 1576.3,392.9 1577.0,393.1 1577.6,393.2 1578.3,393.3 1579.0,393.4 1579.6,393.5 1580.3,393.6 1581.0,393.8 1581.6,393.9 1582.3,394.0 1582.9,394.1 1583.6,394.3 1584.3,394.4 1584.9,394.5 1585.6,394.7 1586.3,394.8 1586.9,394.9 1587.6,395.1 1588.2,395.2 1588.9,395.3 1589.6,395.5 1590.2,395.6 1590.9,395.8 1591.6,395.9 1592.2,396.0 1592.9,396.2 1593.5,396.4 1594.2,396.5 1594.9,396.7 1595.5,396.8 1596.2,397.0 1596.9,397.2 1597.5,397.4 1598.2,397.5 1598.8,397.7 1599.5,397.9 1600.2,398.1 1600.8,398.3 1601.5,398.4 1602.2,398.6 1602.8,398.8 1603.5,399.0 1604.1,399.2 1604.8,399.3 1605.5,399.5 1606.1,399.7 1606.8,399.9 1607.5,400.0 1608.1,400.2 1608.8,400.4 1609.5,400.6 1610.1,400.7 1610.8,400.9 1611.4,401.0 1612.1,401.2 1612.8,401.4 1613.4,401.5 1614.1,401.7 1614.8,401.8 1615.4,402.0 1616.1,402.1 1616.7,402.3 1617.4,402.4 1618.1,402.6 1618.7,402.7 1619.4,402.9 1620.1,403.0 1620.7,403.2 1621.4,403.3 1622.0,403.5 1622.7,403.7 1623.4,403.8 1624.0,404.0 1624.7,404.1 1625.4,404.3 1626.0,404.5 1626.7,404.7 1627.3,404.8 1628.0,405.0 1628.7,405.2 1629.3,405.4 1630.0,405.6 1630.7,405.8 1631.3,406.0 1632.0,406.2 1632.6,406.5 1633.3,406.7 1634.0,407.0 1634.6,407.3 1635.3,407.5 1636.0,407.8 1636.6,408.1 1637.3,408.5 1638.0,408.8 1638.6,409.1 1639.3,409.5 1639.9,409.8 1640.6,410.2 1641.3,410.5 1641.9,410.9 1642.6,411.2 1643.3,411.6 1643.9,412.0 1644.6,412.3 1645.2,412.7 1645.9,413.1 1646.6,413.4 1647.2,413.8 1647.9,414.2 1648.6,414.5 1649.2,414.9 1649.9,415.3 1650.5,415.7 1651.2,416.0 1651.9,416.4 1652.5,416.8 1653.2,417.2 1653.9,417.6 1654.5,418.0 1655.2,418.4 1655.8,418.8 1656.5,419.2 1657.2,419.6 1657.8,420.0 1658.5,420.4 1659.2,420.8 1659.8,421.2 1660.5,421.6 1661.1,422.1 1661.8,422.5 1662.5,422.9 1663.1,423.3 1663.8,423.7 1664.5,424.1 1665.1,424.5 1665.8,424.9 1666.4,425.3 1667.1,425.7 1667.8,426.1 1668.4,426.5 1669.1,426.9 1669.8,427.3 1670.4,427.7 1671.1,428.1 1671.8,428.5 1672.4,428.9 1673.1,429.3 1673.7,429.7 1674.4,430.1 1675.1,430.6 1675.7,431.0 1676.4,431.4 1677.1,431.8 1677.7,432.2 1678.4,432.6 1679.0,433.0 1679.7,433.4 1680.4,433.8 1681.0,434.1 1681.7,434.5 1682.4,434.9 1683.0,435.3 1683.7,435.6 1684.3,436.0 1685.0,436.4 1685.7,436.7 1686.3,437.1 1687.0,437.4 1687.7,437.7 1688.3,438.1 1689.0,438.4 1689.6,438.7 1690.3,439.1 1691.0,439.4 1691.6,439.7 1692.3,440.0 1693.0,440.3 1693.6,440.6 1694.3,440.9 1694.9,441.2 1695.6,441.5 1696.3,441.7 1696.9,442.0 1697.6,442.3" fill="none" stroke="#EDB120" stroke-width="2.7" stroke-linejoin="round" stroke-linecap="round" clip-path="url(#cB)"/>
<polyline points="1035.4,507.1 1036.1,488.1 1036.7,471.5 1037.4,456.9 1038.0,444.0 1038.7,432.6 1039.4,422.3 1040.0,410.6 1040.7,399.8 1041.4,389.8 1042.0,380.5 1042.7,371.6 1043.3,363.2 1044.0,355.1 1044.7,347.4 1045.3,339.9 1046.0,332.6 1046.7,325.5 1047.3,318.7 1048.0,312.2 1048.6,306.0 1049.3,300.0 1050.0,294.3 1050.6,288.9 1051.3,283.8 1052.0,278.9 1052.6,274.3 1053.3,269.9 1053.9,265.7 1054.6,261.6 1055.3,257.6 1055.9,253.7 1056.6,249.9 1057.3,246.1 1057.9,242.4 1058.6,238.8 1059.2,235.2 1059.9,231.8 1060.6,228.4 1061.2,225.2 1061.9,222.1 1062.6,219.2 1063.2,216.3 1063.9,213.6 1064.5,210.9 1065.2,208.3 1065.9,205.8 1066.5,203.3 1067.2,200.9 1067.8,198.6 1068.5,196.4 1069.2,194.2 1069.8,192.1 1070.5,190.0 1071.2,188.0 1071.8,186.0 1072.5,184.2 1073.1,182.3 1073.8,180.6 1074.5,178.9 1075.1,177.3 1075.8,175.7 1076.5,174.1 1077.1,172.6 1077.8,171.2 1078.4,169.8 1079.1,168.4 1079.8,167.1 1080.4,165.8 1081.1,164.5 1081.8,163.3 1082.4,162.1 1083.1,161.0 1083.7,159.8 1084.4,158.7 1085.1,157.7 1085.7,156.6 1086.4,155.6 1087.1,154.6 1087.7,153.6 1088.4,152.6 1089.0,151.7 1089.7,150.8 1090.4,149.9 1091.0,149.0 1091.7,148.1 1092.3,147.2 1093.0,146.4 1093.7,145.5 1094.3,144.7 1095.0,143.9 1095.7,143.1 1096.3,142.4 1097.0,141.7 1097.6,141.0 1098.3,140.4 1099.0,139.8 1099.6,139.2 1100.3,138.6 1101.0,138.1 1101.6,137.6 1102.3,137.2 1102.9,136.8 1103.6,136.4 1104.3,136.0 1104.9,135.6 1105.6,135.3 1106.3,135.0 1106.9,134.7 1107.6,134.4 1108.2,134.1 1108.9,133.8 1109.6,133.5 1110.2,133.3 1110.9,133.0 1111.6,132.8 1112.2,132.6 1112.9,132.4 1113.5,132.1 1114.2,131.9 1114.9,131.7 1115.5,131.5 1116.2,131.3 1116.9,131.1 1117.5,131.0 1118.2,130.8 1118.8,130.6 1119.5,130.4 1120.2,130.2 1120.8,130.1 1121.5,129.9 1122.1,129.7 1122.8,129.6 1123.5,129.4 1124.1,129.2 1124.8,129.1 1125.5,128.9 1126.1,128.8 1126.8,128.6 1127.4,128.5 1128.1,128.4 1128.8,128.2 1129.4,128.1 1130.1,127.9 1130.8,127.8 1131.4,127.6 1132.1,127.5 1132.7,127.3 1133.4,127.2 1134.1,127.0 1134.7,126.9 1135.4,126.7 1136.1,126.6 1136.7,126.4 1137.4,126.3 1138.0,126.1 1138.7,125.9 1139.4,125.8 1140.0,125.6 1140.7,125.4 1141.4,125.3 1142.0,125.1 1142.7,124.9 1143.3,124.8 1144.0,124.6 1144.7,124.4 1145.3,124.3 1146.0,124.1 1146.6,123.9 1147.3,123.7 1148.0,123.6 1148.6,123.4 1149.3,123.2 1150.0,123.1 1150.6,122.9 1151.3,122.7 1151.9,122.5 1152.6,122.4 1153.3,122.2 1153.9,122.0 1154.6,121.8 1155.3,121.7 1155.9,121.5 1156.6,121.3 1157.2,121.2 1157.9,121.0 1158.6,120.8 1159.2,120.6 1159.9,120.5 1160.6,120.3 1161.2,120.1 1161.9,119.9 1162.5,119.8 1163.2,119.6 1163.9,119.4 1164.5,119.2 1165.2,119.0 1165.9,118.8 1166.5,118.6 1167.2,118.4 1167.8,118.2 1168.5,117.9 1169.2,117.7 1169.8,117.5 1170.5,117.2 1171.2,117.0 1171.8,116.8 1172.5,116.5 1173.1,116.3 1173.8,116.0 1174.5,115.7 1175.1,115.5 1175.8,115.2 1176.4,115.0 1177.1,114.7 1177.8,114.4 1178.4,114.2 1179.1,113.9 1179.8,113.7 1180.4,113.4 1181.1,113.2 1181.7,112.9 1182.4,112.7 1183.1,112.4 1183.7,112.2 1184.4,112.0 1185.1,111.7 1185.7,111.5 1186.4,111.2 1187.0,111.0 1187.7,110.8 1188.4,110.5 1189.0,110.3 1189.7,110.1 1190.4,109.8 1191.0,109.6 1191.7,109.4 1192.3,109.1 1193.0,108.9 1193.7,108.7 1194.3,108.4 1195.0,108.2 1195.7,108.0 1196.3,107.7 1197.0,107.5 1197.6,107.3 1198.3,107.0 1199.0,106.8 1199.6,106.6 1200.3,106.4 1201.0,106.1 1201.6,105.9 1202.3,105.7 1202.9,105.4 1203.6,105.2 1204.3,105.0 1204.9,104.8 1205.6,104.6 1206.2,104.3 1206.9,104.1 1207.6,103.9 1208.2,103.7 1208.9,103.5 1209.6,103.2 1210.2,103.0 1210.9,102.8 1211.5,102.6 1212.2,102.4 1212.9,102.1 1213.5,101.9 1214.2,101.7 1214.9,101.5 1215.5,101.3 1216.2,101.1 1216.8,100.9 1217.5,100.6 1218.2,100.4 1218.8,100.2 1219.5,100.0 1220.2,99.8 1220.8,99.6 1221.5,99.4 1222.1,99.2 1222.8,99.0 1223.5,98.8 1224.1,98.6 1224.8,98.3 1225.5,98.1 1226.1,97.9 1226.8,97.7 1227.4,97.5 1228.1,97.3 1228.8,97.1 1229.4,96.9 1230.1,96.7 1230.7,96.5 1231.4,96.3 1232.1,96.1 1232.7,95.9 1233.4,95.7 1234.1,95.5 1234.7,95.3 1235.4,95.1 1236.0,94.9 1236.7,94.7 1237.4,94.5 1238.0,94.3 1238.7,94.1 1239.4,94.0 1240.0,93.8 1240.7,93.6 1241.3,93.4 1242.0,93.2 1242.7,93.0 1243.3,92.8 1244.0,92.6 1244.7,92.4 1245.3,92.2 1246.0,92.0 1246.6,91.9 1247.3,91.7 1248.0,91.5 1248.6,91.3 1249.3,91.1 1250.0,90.9 1250.6,90.8 1251.3,90.6 1251.9,90.4 1252.6,90.2 1253.3,90.1 1253.9,89.9 1254.6,89.7 1255.3,89.6 1255.9,89.4 1256.6,89.2 1257.2,89.1 1257.9,88.9 1258.6,88.7 1259.2,88.6 1259.9,88.4 1260.5,88.3 1261.2,88.1 1261.9,88.0 1262.5,87.9 1263.2,87.7 1263.9,87.6 1264.5,87.4 1265.2,87.3 1265.8,87.2 1266.5,87.1 1267.2,86.9 1267.8,86.8 1268.5,86.7 1269.2,86.6 1269.8,86.4 1270.5,86.3 1271.1,86.2 1271.8,86.1 1272.5,86.0 1273.1,85.9 1273.8,85.8 1274.5,85.6 1275.1,85.5 1275.8,85.4 1276.4,85.3 1277.1,85.2 1277.8,85.1 1278.4,85.0 1279.1,84.9 1279.8,84.8 1280.4,84.7 1281.1,84.6 1281.7,84.5 1282.4,84.4 1283.1,84.3 1283.7,84.2 1284.4,84.2 1285.0,84.1 1285.7,84.0 1286.4,83.9 1287.0,83.8 1287.7,83.7 1288.4,83.7 1289.0,83.6 1289.7,83.5 1290.3,83.4 1291.0,83.4 1291.7,83.3 1292.3,83.2 1293.0,83.1 1293.7,83.1 1294.3,83.0 1295.0,82.9 1295.6,82.9 1296.3,82.8 1297.0,82.7 1297.6,82.7 1298.3,82.6 1299.0,82.5 1299.6,82.5 1300.3,82.4 1300.9,82.4 1301.6,82.3 1302.3,82.2 1302.9,82.2 1303.6,82.1 1304.3,82.0 1304.9,82.0 1305.6,81.9 1306.2,81.9 1306.9,81.8 1307.6,81.8 1308.2,81.7 1308.9,81.6 1309.6,81.6 1310.2,81.5 1310.9,81.5 1311.5,81.4 1312.2,81.4 1312.9,81.3 1313.5,81.3 1314.2,81.2 1314.8,81.2 1315.5,81.1 1316.2,81.1 1316.8,81.0 1317.5,81.0 1318.2,81.0 1318.8,80.9 1319.5,80.9 1320.1,80.9 1320.8,80.9 1321.5,80.8 1322.1,80.8 1322.8,80.8 1323.5,80.8 1324.1,80.7 1324.8,80.7 1325.4,80.7 1326.1,80.7 1326.8,80.6 1327.4,80.6 1328.1,80.6 1328.8,80.6 1329.4,80.6 1330.1,80.6 1330.7,80.5 1331.4,80.5 1332.1,80.5 1332.7,80.5 1333.4,80.5 1334.1,80.5 1334.7,80.4 1335.4,80.4 1336.0,80.4 1336.7,80.4 1337.4,80.4 1338.0,80.3 1338.7,80.3 1339.3,80.3 1340.0,80.3 1340.7,80.3 1341.3,80.2 1342.0,80.2 1342.7,80.2 1343.3,80.2 1344.0,80.1 1344.6,80.1 1345.3,80.1 1346.0,80.1 1346.6,80.1 1347.3,80.0 1348.0,80.0 1348.6,80.0 1349.3,80.0 1349.9,79.9 1350.6,79.9 1351.3,79.9 1351.9,79.9 1352.6,79.9 1353.3,79.8 1353.9,79.8 1354.6,79.8 1355.2,79.8 1355.9,79.7 1356.6,79.7 1357.2,79.7 1357.9,79.7 1358.6,79.6 1359.2,79.6 1359.9,79.6 1360.5,79.6 1361.2,79.5 1361.9,79.5 1362.5,79.5 1363.2,79.5 1363.9,79.4 1364.5,79.4 1365.2,79.4 1365.8,79.4 1366.5,79.3 1367.2,79.3 1367.8,79.3 1368.5,79.2 1369.1,79.2 1369.8,79.2 1370.5,79.1 1371.1,79.1 1371.8,79.1 1372.5,79.0 1373.1,79.0 1373.8,78.9 1374.4,78.9 1375.1,78.9 1375.8,78.8 1376.4,78.8 1377.1,78.7 1377.8,78.7 1378.4,78.7 1379.1,78.6 1379.7,78.6 1380.4,78.5 1381.1,78.5 1381.7,78.4 1382.4,78.4 1383.1,78.4 1383.7,78.3 1384.4,78.3 1385.0,78.3 1385.7,78.2 1386.4,78.2 1387.0,78.2 1387.7,78.1 1388.4,78.1 1389.0,78.1 1389.7,78.1 1390.3,78.0 1391.0,78.0 1391.7,78.0 1392.3,78.0 1393.0,78.0 1393.7,77.9 1394.3,77.9 1395.0,77.9 1395.6,77.9 1396.3,77.9 1397.0,77.9 1397.6,77.9 1398.3,77.9 1398.9,77.9 1399.6,77.8 1400.3,77.8 1400.9,77.8 1401.6,77.8 1402.3,77.9 1402.9,77.9 1403.6,77.9 1404.2,77.9 1404.9,77.9 1405.6,77.9 1406.2,77.9 1406.9,77.9 1407.6,77.9 1408.2,78.0 1408.9,78.0 1409.5,78.0 1410.2,78.0 1410.9,78.1 1411.5,78.1 1412.2,78.1 1412.9,78.2 1413.5,78.2 1414.2,78.2 1414.8,78.3 1415.5,78.4 1416.2,78.4 1416.8,78.5 1417.5,78.5 1418.2,78.6 1418.8,78.7 1419.5,78.8 1420.1,78.8 1420.8,78.9 1421.5,79.0 1422.1,79.1 1422.8,79.2 1423.4,79.3 1424.1,79.4 1424.8,79.5 1425.4,79.6 1426.1,79.7 1426.8,79.7 1427.4,79.8 1428.1,79.9 1428.7,80.0 1429.4,80.1 1430.1,80.2 1430.7,80.3 1431.4,80.4 1432.1,80.4 1432.7,80.5 1433.4,80.6 1434.0,80.7 1434.7,80.8 1435.4,80.8 1436.0,80.9 1436.7,81.0 1437.4,81.0 1438.0,81.1 1438.7,81.2 1439.3,81.3 1440.0,81.3 1440.7,81.4 1441.3,81.5 1442.0,81.6 1442.7,81.6 1443.3,81.7 1444.0,81.8 1444.6,81.8 1445.3,81.9 1446.0,82.0 1446.6,82.1 1447.3,82.1 1448.0,82.2 1448.6,82.3 1449.3,82.4 1449.9,82.5 1450.6,82.6 1451.3,82.7 1451.9,82.8 1452.6,82.9 1453.2,83.0 1453.9,83.1 1454.6,83.2 1455.2,83.3 1455.9,83.4 1456.6,83.5 1457.2,83.6 1457.9,83.7 1458.5,83.8 1459.2,83.9 1459.9,84.0 1460.5,84.1 1461.2,84.2 1461.9,84.3 1462.5,84.4 1463.2,84.5 1463.8,84.6 1464.5,84.6 1465.2,84.7 1465.8,84.8 1466.5,84.8 1467.2,84.9 1467.8,84.9 1468.5,84.9 1469.1,85.0 1469.8,85.0 1470.5,85.0 1471.1,85.0 1471.8,85.1 1472.5,85.1 1473.1,85.1 1473.8,85.1 1474.4,85.1 1475.1,85.1 1475.8,85.1 1476.4,85.1 1477.1,85.1 1477.7,85.1 1478.4,85.1 1479.1,85.1 1479.7,85.1 1480.4,85.0 1481.1,85.0 1481.7,85.0 1482.4,85.0 1483.0,85.0 1483.7,85.0 1484.4,84.9 1485.0,84.9 1485.7,84.9 1486.4,84.9 1487.0,84.9 1487.7,84.8 1488.3,84.8 1489.0,84.8 1489.7,84.7 1490.3,84.7 1491.0,84.7 1491.7,84.6 1492.3,84.6 1493.0,84.6 1493.6,84.6 1494.3,84.5 1495.0,84.5 1495.6,84.5 1496.3,84.4 1497.0,84.4 1497.6,84.4 1498.3,84.3 1498.9,84.3 1499.6,84.2 1500.3,84.2 1500.9,84.2 1501.6,84.1 1502.3,84.1 1502.9,84.1 1503.6,84.0 1504.2,84.0 1504.9,84.0 1505.6,83.9 1506.2,83.9 1506.9,83.8 1507.5,83.8 1508.2,83.7 1508.9,83.7 1509.5,83.7 1510.2,83.6 1510.9,83.6 1511.5,83.5 1512.2,83.5 1512.8,83.4 1513.5,83.4 1514.2,83.3 1514.8,83.2 1515.5,83.2 1516.2,83.1 1516.8,83.0 1517.5,83.0 1518.1,82.9 1518.8,82.8 1519.5,82.8 1520.1,82.7 1520.8,82.6 1521.5,82.5 1522.1,82.4 1522.8,82.3 1523.4,82.2 1524.1,82.1 1524.8,82.0 1525.4,81.9 1526.1,81.8 1526.8,81.7 1527.4,81.6 1528.1,81.5 1528.7,81.4 1529.4,81.3 1530.1,81.2 1530.7,81.0 1531.4,80.9 1532.0,80.8 1532.7,80.7 1533.4,80.6 1534.0,80.5 1534.7,80.4 1535.4,80.3 1536.0,80.1 1536.7,80.0 1537.3,79.9 1538.0,79.8 1538.7,79.7 1539.3,79.6 1540.0,79.5 1540.7,79.4 1541.3,79.3 1542.0,79.2 1542.6,79.1 1543.3,79.1 1544.0,79.0 1544.6,78.9 1545.3,78.8 1546.0,78.7 1546.6,78.6 1547.3,78.5 1547.9,78.4 1548.6,78.3 1549.3,78.2 1549.9,78.1 1550.6,78.1 1551.3,78.0 1551.9,77.9 1552.6,77.8 1553.2,77.7 1553.9,77.6 1554.6,77.5 1555.2,77.4 1555.9,77.4 1556.6,77.3 1557.2,77.2 1557.9,77.1 1558.5,77.0 1559.2,77.0 1559.9,76.9 1560.5,76.8 1561.2,76.7 1561.8,76.7 1562.5,76.6 1563.2,76.5 1563.8,76.5 1564.5,76.4 1565.2,76.3 1565.8,76.3 1566.5,76.2 1567.1,76.2 1567.8,76.1 1568.5,76.0 1569.1,76.0 1569.8,75.9 1570.5,75.9 1571.1,75.8 1571.8,75.8 1572.4,75.7 1573.1,75.7 1573.8,75.6 1574.4,75.5 1575.1,75.5 1575.8,75.4 1576.4,75.4 1577.1,75.3 1577.7,75.3 1578.4,75.2 1579.1,75.2 1579.7,75.1 1580.4,75.1 1581.1,75.0 1581.7,75.0 1582.4,74.9 1583.0,74.9 1583.7,74.9 1584.4,74.8 1585.0,74.8 1585.7,74.7 1586.4,74.7 1587.0,74.6 1587.7,74.6 1588.3,74.6 1589.0,74.5 1589.7,74.5 1590.3,74.5 1591.0,74.4 1591.6,74.4 1592.3,74.4 1593.0,74.3 1593.6,74.3 1594.3,74.3 1595.0,74.2 1595.6,74.2 1596.3,74.2 1596.9,74.2 1597.6,74.1 1598.3,74.1 1598.9,74.1 1599.6,74.1 1600.3,74.0 1600.9,74.0 1601.6,74.0 1602.2,74.0 1602.9,74.0 1603.6,73.9 1604.2,73.9 1604.9,73.9 1605.6,73.9 1606.2,73.8 1606.9,73.8 1607.5,73.8 1608.2,73.8 1608.9,73.8 1609.5,73.7 1610.2,73.7 1610.9,73.7 1611.5,73.7 1612.2,73.7 1612.8,73.7 1613.5,73.6 1614.2,73.6 1614.8,73.6 1615.5,73.6 1616.1,73.6 1616.8,73.5 1617.5,73.5 1618.1,73.5 1618.8,73.5 1619.5,73.5 1620.1,73.5 1620.8,73.4 1621.4,73.4 1622.1,73.4 1622.8,73.4 1623.4,73.4 1624.1,73.4 1624.8,73.3 1625.4,73.3 1626.1,73.3 1626.7,73.3 1627.4,73.3 1628.1,73.2 1628.7,73.2 1629.4,73.2 1630.1,73.2 1630.7,73.2 1631.4,73.2 1632.0,73.1 1632.7,73.1 1633.4,73.1 1634.0,73.1 1634.7,73.1 1635.4,73.0 1636.0,73.0 1636.7,73.0 1637.3,73.0 1638.0,73.0 1638.7,72.9 1639.3,72.9 1640.0,72.9 1640.7,72.9 1641.3,72.9 1642.0,72.8 1642.6,72.8 1643.3,72.8 1644.0,72.8 1644.6,72.8 1645.3,72.7 1645.9,72.7 1646.6,72.7 1647.3,72.7 1647.9,72.7 1648.6,72.6 1649.3,72.6 1649.9,72.6 1650.6,72.6 1651.2,72.6 1651.9,72.6 1652.6,72.5 1653.2,72.5 1653.9,72.5 1654.6,72.5 1655.2,72.5 1655.9,72.5 1656.5,72.4 1657.2,72.4 1657.9,72.4 1658.5,72.4 1659.2,72.4 1659.9,72.4 1660.5,72.3 1661.2,72.3 1661.8,72.3 1662.5,72.3 1663.2,72.3 1663.8,72.3 1664.5,72.3 1665.2,72.3 1665.8,72.3 1666.5,72.2 1667.1,72.2 1667.8,72.2 1668.5,72.2 1669.1,72.2 1669.8,72.2 1670.4,72.2 1671.1,72.2 1671.8,72.2 1672.4,72.2 1673.1,72.2 1673.8,72.2 1674.4,72.2 1675.1,72.2 1675.7,72.2 1676.4,72.2 1677.1,72.1 1677.7,72.1 1678.4,72.1 1679.1,72.1 1679.7,72.1 1680.4,72.1 1681.0,72.1 1681.7,72.1 1682.4,72.1 1683.0,72.1 1683.7,72.1 1684.4,72.1 1685.0,72.1 1685.7,72.1 1686.3,72.1 1687.0,72.1 1687.7,72.1 1688.3,72.1 1689.0,72.1 1689.7,72.1 1690.3,72.1 1691.0,72.1 1691.6,72.1 1692.3,72.1 1693.0,72.1 1693.6,72.1 1694.3,72.1 1695.0,72.2 1695.6,72.2 1696.3,72.2 1696.9,72.2 1697.6,72.2" fill="none" stroke="#7E2F8E" stroke-width="2.7" stroke-linejoin="round" stroke-linecap="round" clip-path="url(#cB)"/>
<polyline points="1035.4,475.5 1036.1,476.1 1036.7,476.7 1037.4,477.2 1038.1,477.7 1038.8,478.2 1039.4,478.6 1040.1,479.0 1040.8,479.3 1041.4,479.5 1042.1,479.7 1042.8,479.9 1043.4,480.1 1044.1,480.3 1044.8,480.4 1045.5,480.6 1046.1,480.8 1046.8,480.9 1047.5,481.1 1048.1,481.2 1048.8,481.4 1049.5,481.5 1050.2,481.7 1050.8,481.9 1051.5,482.1 1052.2,482.4 1052.8,482.8 1053.5,483.3 1054.2,483.9 1054.9,484.7 1055.5,485.5 1056.2,486.5 1056.9,487.6 1057.5,488.8 1058.2,490.1 1058.9,491.6 1059.5,493.2 1060.2,494.9 1060.9,496.6 1061.6,498.3 1061.6,498.3 1062.2,498.5 1062.9,498.6 1063.5,498.8 1064.2,498.9 1064.9,499.1 1065.5,499.2 1066.2,499.4 1066.9,499.6 1067.5,499.7 1068.2,499.9 1068.8,500.1 1069.5,500.3 1070.2,500.5 1070.8,500.7 1071.5,500.9 1072.2,501.1 1072.8,501.3 1073.5,501.5 1074.2,501.7 1074.8,502.0 1075.5,502.2 1076.1,502.4 1076.8,502.7 1077.5,502.9 1078.1,503.2 1078.8,503.4 1079.5,503.6 1080.1,503.8 1080.8,504.1 1081.4,504.3 1082.1,504.5 1082.8,504.7 1083.4,504.9 1084.1,505.2 1084.8,505.4 1085.4,505.6 1086.1,505.8 1086.7,506.0 1087.4,506.2 1088.1,506.4 1088.7,506.6 1089.4,506.8 1090.1,506.9 1090.7,507.1 1091.4,507.3 1092.0,507.4 1092.7,507.6 1093.4,507.7 1094.0,507.9 1094.7,508.0 1095.4,508.2 1096.0,508.3 1096.7,508.5 1097.4,508.6 1098.0,508.7 1098.7,508.9 1099.3,509.0 1100.0,509.1 1100.7,509.2 1101.3,509.3 1102.0,509.4 1102.7,509.5 1103.3,509.6 1104.0,509.7 1104.6,509.7 1105.3,509.8 1106.0,509.9 1106.6,510.0 1107.3,510.1 1108.0,510.1 1108.6,510.2 1109.3,510.2 1109.9,510.3 1110.6,510.4 1111.3,510.4 1111.9,510.5 1112.6,510.5 1113.3,510.5 1113.9,510.6 1114.6,510.6 1115.2,510.6 1115.9,510.6 1116.6,510.7 1117.2,510.7 1117.9,510.7 1118.6,510.6 1119.2,510.6 1119.9,510.6 1120.5,510.5 1121.2,510.4 1121.9,510.3 1122.5,510.2 1123.2,510.1 1123.9,509.9 1124.5,509.8 1125.2,509.6 1125.9,509.4 1126.5,509.3 1127.2,509.1 1127.8,508.9 1128.5,508.7 1129.2,508.4 1129.8,508.2 1130.5,507.9 1131.2,507.6 1131.8,507.2 1132.5,506.9 1133.1,506.5 1133.8,506.2 1134.5,505.8 1135.1,505.4 1135.8,505.0 1136.5,504.7 1137.1,504.3 1137.8,503.9 1138.4,503.6 1139.1,503.2 1139.8,502.9 1140.4,502.6 1141.1,502.2 1141.8,501.9 1142.4,501.6 1143.1,501.3 1143.7,501.0 1144.4,500.7 1145.1,500.4 1145.7,500.1 1146.4,499.8 1147.1,499.5 1147.7,499.1 1148.4,498.8 1149.1,498.5 1149.7,498.2 1150.4,497.8 1151.0,497.5 1151.7,497.1 1152.4,496.8 1153.0,496.4 1153.7,496.0 1154.4,495.6 1155.0,495.2 1155.7,494.8 1156.3,494.3 1157.0,493.9 1157.7,493.5 1158.3,493.0 1159.0,492.5 1159.7,492.0 1160.3,491.6 1161.0,491.1 1161.6,490.6 1162.3,490.1 1163.0,489.5 1163.6,489.0 1164.3,488.5 1165.0,488.0 1165.6,487.5 1166.3,487.0 1166.9,486.4 1167.6,485.9 1168.3,485.4 1168.9,484.9 1169.6,484.3 1170.3,483.8 1170.9,483.2 1171.6,482.7 1172.3,482.1 1172.9,481.5 1173.6,481.0 1174.2,480.4 1174.9,479.8 1175.6,479.2 1176.2,478.7 1176.9,478.1 1177.6,477.5 1178.2,476.9 1178.9,476.3 1179.5,475.7 1180.2,475.1 1180.9,474.5 1181.5,473.9 1182.2,473.4 1182.9,472.8 1183.5,472.2 1184.2,471.6 1184.8,471.0 1185.5,470.4 1186.2,469.8 1186.8,469.2 1187.5,468.6 1188.2,467.9 1188.8,467.3 1189.5,466.6 1190.1,466.0 1190.8,465.3 1191.5,464.7 1192.1,464.0 1192.8,463.4 1193.5,462.7 1194.1,462.1 1194.8,461.4 1195.5,460.8 1196.1,460.2 1196.8,459.5 1197.4,458.9 1198.1,458.3 1198.8,457.7 1199.4,457.1 1200.1,456.6 1200.8,456.0 1201.4,455.5 1202.1,455.0 1202.7,454.5 1203.4,454.0 1204.1,453.5 1204.7,453.1 1205.4,452.7 1206.1,452.2 1206.7,451.8 1207.4,451.4 1208.0,451.0 1208.7,450.6 1209.4,450.3 1210.0,449.9 1210.7,449.5 1211.4,449.2 1212.0,448.8 1212.7,448.5 1213.3,448.1 1214.0,447.8 1214.7,447.4 1215.3,447.1 1216.0,446.8 1216.7,446.4 1217.3,446.1 1218.0,445.8 1218.6,445.4 1219.3,445.1 1220.0,444.8 1220.6,444.4 1221.3,444.1 1222.0,443.8 1222.6,443.4 1223.3,443.1 1224.0,442.7 1224.6,442.3 1225.3,442.0 1225.9,441.6 1226.6,441.2 1227.3,440.8 1227.9,440.4 1228.6,440.1 1229.3,439.7 1229.9,439.4 1230.6,439.0 1231.2,438.7 1231.9,438.4 1232.6,438.1 1233.2,437.8 1233.9,437.5 1234.6,437.2 1235.2,437.0 1235.9,436.8 1236.5,436.5 1237.2,436.3 1237.9,436.1 1238.5,435.8 1239.2,435.6 1239.9,435.4 1240.5,435.2 1241.2,435.0 1241.8,434.7 1242.5,434.5 1243.2,434.3 1243.8,434.1 1244.5,433.9 1245.2,433.7 1245.8,433.5 1246.5,433.3 1247.2,433.2 1247.8,433.0 1248.5,432.8 1249.1,432.6 1249.8,432.4 1250.5,432.3 1251.1,432.1 1251.8,431.9 1252.5,431.8 1253.1,431.6 1253.8,431.4 1254.4,431.3 1255.1,431.1 1255.8,431.0 1256.4,430.8 1257.1,430.7 1257.8,430.5 1258.4,430.4 1259.1,430.3 1259.7,430.1 1260.4,430.0 1261.1,429.9 1261.7,429.7 1262.4,429.6 1263.1,429.5 1263.7,429.3 1264.4,429.2 1265.0,429.1 1265.7,429.0 1266.4,428.8 1267.0,428.7 1267.7,428.6 1268.4,428.5 1269.0,428.3 1269.7,428.2 1270.4,428.1 1271.0,428.0 1271.7,427.9 1272.3,427.8 1273.0,427.7 1273.7,427.6 1274.3,427.4 1275.0,427.3 1275.7,427.2 1276.3,427.1 1277.0,427.0 1277.6,427.0 1278.3,426.9 1279.0,426.8 1279.6,426.7 1280.3,426.6 1281.0,426.5 1281.6,426.4 1282.3,426.3 1282.9,426.3 1283.6,426.2 1284.3,426.1 1284.9,426.0 1285.6,425.9 1286.3,425.8 1286.9,425.7 1287.6,425.7 1288.2,425.6 1288.9,425.5 1289.6,425.4 1290.2,425.3 1290.9,425.3 1291.6,425.2 1292.2,425.1 1292.9,425.0 1293.6,425.0 1294.2,424.9 1294.9,424.9 1295.5,424.8 1296.2,424.8 1296.9,424.7 1297.5,424.7 1298.2,424.6 1298.9,424.6 1299.5,424.6 1300.2,424.5 1300.8,424.5 1301.5,424.5 1302.2,424.5 1302.8,424.4 1303.5,424.4 1304.2,424.4 1304.8,424.4 1305.5,424.4 1306.1,424.3 1306.8,424.3 1307.5,424.3 1308.1,424.3 1308.8,424.3 1309.5,424.3 1310.1,424.2 1310.8,424.2 1311.4,424.2 1312.1,424.2 1312.8,424.2 1313.4,424.2 1314.1,424.2 1314.8,424.2 1315.4,424.1 1316.1,424.1 1316.7,424.1 1317.4,424.1 1318.1,424.1 1318.7,424.1 1319.4,424.1 1320.1,424.1 1320.7,424.1 1321.4,424.1 1322.1,424.1 1322.7,424.1 1323.4,424.1 1324.0,424.1 1324.7,424.1 1325.4,424.1 1326.0,424.1 1326.7,424.1 1327.4,424.1 1328.0,424.1 1328.7,424.1 1329.3,424.1 1330.0,424.1 1330.7,424.1 1331.3,424.1 1332.0,424.1 1332.7,424.1 1333.3,424.1 1334.0,424.1 1334.6,424.2 1335.3,424.2 1336.0,424.2 1336.6,424.2 1337.3,424.2 1338.0,424.2 1338.6,424.2 1339.3,424.2 1339.9,424.2 1340.6,424.2 1341.3,424.2 1341.9,424.2 1342.6,424.2 1343.3,424.2 1343.9,424.1 1344.6,424.1 1345.3,424.1 1345.9,424.1 1346.6,424.1 1347.2,424.0 1347.9,424.0 1348.6,423.9 1349.2,423.8 1349.9,423.7 1350.6,423.5 1351.2,423.4 1351.9,423.2 1352.5,423.0 1353.2,422.8 1353.9,422.6 1354.5,422.4 1355.2,422.2 1355.9,422.0 1356.5,421.8 1357.2,421.6 1357.8,421.4 1358.5,421.2 1359.2,421.0 1359.8,420.8 1360.5,420.7 1361.2,420.5 1361.8,420.4 1362.5,420.2 1363.1,420.1 1363.8,420.0 1364.5,419.9 1365.1,419.8 1365.8,419.6 1366.5,419.5 1367.1,419.4 1367.8,419.3 1368.5,419.3 1369.1,419.2 1369.8,419.1 1370.4,419.1 1371.1,419.0 1371.8,419.0 1372.4,418.9 1373.1,418.9 1373.8,418.9 1374.4,418.9 1375.1,418.8 1375.7,418.8 1376.4,418.8 1377.1,418.8 1377.7,418.8 1378.4,418.7 1379.1,418.7 1379.7,418.7 1380.4,418.7 1381.0,418.7 1381.7,418.7 1382.4,418.7 1383.0,418.7 1383.7,418.7 1384.4,418.7 1385.0,418.7 1385.7,418.8 1386.3,418.8 1387.0,418.8 1387.7,418.8 1388.3,418.8 1389.0,418.8 1389.7,418.9 1390.3,418.9 1391.0,418.9 1391.7,419.0 1392.3,419.0 1393.0,419.0 1393.6,419.0 1394.3,419.1 1395.0,419.1 1395.6,419.2 1396.3,419.2 1397.0,419.2 1397.6,419.3 1398.3,419.3 1398.9,419.4 1399.6,419.4 1400.3,419.4 1400.9,419.5 1401.6,419.5 1402.3,419.6 1402.9,419.6 1403.6,419.7 1404.2,419.7 1404.9,419.8 1404.9,419.8 1405.6,420.1 1406.2,420.3 1406.9,420.6 1407.6,420.8 1408.2,421.1 1408.9,421.4 1409.5,421.6 1410.2,421.9 1410.9,422.1 1411.5,422.4 1412.2,422.7 1412.9,422.9 1413.5,423.2 1414.2,423.4 1414.8,423.7 1415.5,423.9 1416.2,424.2 1416.8,424.5 1417.5,424.7 1418.2,425.0 1418.8,425.2 1419.5,425.5 1420.1,425.7 1420.8,426.0 1421.5,426.3 1422.1,426.5 1422.8,426.8 1423.4,427.1 1424.1,427.3 1424.8,427.6 1425.4,427.9 1426.1,428.1 1426.8,428.4 1427.4,428.6 1428.1,428.9 1428.7,429.1 1429.4,429.3 1430.1,429.6 1430.7,429.8 1431.4,430.0 1432.1,430.2 1432.7,430.4 1433.4,430.5 1434.0,430.7 1434.7,430.9 1435.4,431.0 1436.0,431.2 1436.7,431.4 1437.4,431.5 1438.0,431.7 1438.7,431.8 1439.3,431.9 1440.0,432.1 1440.7,432.2 1441.3,432.3 1442.0,432.5 1442.7,432.6 1443.3,432.7 1444.0,432.8 1444.6,432.9 1445.3,433.0 1446.0,433.1 1446.6,433.2 1447.3,433.3 1448.0,433.4 1448.6,433.5 1449.3,433.6 1449.9,433.6 1450.6,433.7 1451.3,433.8 1451.9,433.9 1452.6,434.0 1453.2,434.1 1453.9,434.2 1454.6,434.3 1455.2,434.4 1455.9,434.4 1456.6,434.5 1457.2,434.6 1457.9,434.6 1458.5,434.7 1459.2,434.8 1459.9,434.8 1460.5,434.9 1461.2,434.9 1461.9,434.9 1462.5,435.0 1463.2,435.0 1463.8,435.0 1464.5,435.0 1465.2,435.0 1465.8,435.0 1466.5,435.0 1467.2,434.9 1467.8,434.9 1468.5,434.8 1469.1,434.8 1469.8,434.7 1470.5,434.6 1471.1,434.6 1471.8,434.5 1472.5,434.4 1473.1,434.3 1473.8,434.2 1474.4,434.1 1475.1,434.0 1475.8,433.9 1476.4,433.8 1477.1,433.7 1477.7,433.6 1478.4,433.5 1479.1,433.4 1479.7,433.3 1480.4,433.1 1481.1,433.0 1481.7,432.9 1482.4,432.8 1483.0,432.7 1483.7,432.6 1484.4,432.5 1485.0,432.3 1485.7,432.2 1486.4,432.1 1487.0,432.0 1487.7,431.8 1488.3,431.7 1489.0,431.6 1489.7,431.4 1490.3,431.3 1491.0,431.1 1491.7,431.0 1492.3,430.8 1493.0,430.7 1493.6,430.5 1494.3,430.4 1495.0,430.2 1495.6,430.1 1496.3,429.9 1497.0,429.8 1497.6,429.6 1498.3,429.4 1498.9,429.3 1499.6,429.1 1500.3,428.9 1500.9,428.8 1501.6,428.6 1502.3,428.4 1502.9,428.2 1503.6,428.0 1504.2,427.8 1504.9,427.6 1505.6,427.5 1506.2,427.3 1506.9,427.1 1507.5,426.9 1508.2,426.7 1508.9,426.5 1509.5,426.3 1510.2,426.1 1510.9,425.9 1511.5,425.7 1512.2,425.5 1512.8,425.3 1513.5,425.1 1514.2,424.9 1514.8,424.7 1515.5,424.5 1516.2,424.3 1516.8,424.1 1517.5,423.9 1518.1,423.7 1518.8,423.5 1519.5,423.3 1520.1,423.1 1520.8,422.9 1521.5,422.7 1522.1,422.5 1522.8,422.3 1523.4,422.1 1524.1,421.9 1524.8,421.7 1525.4,421.5 1526.1,421.3 1526.8,421.1 1527.4,420.9 1528.1,420.7 1528.7,420.5 1529.4,420.3 1530.1,420.1 1530.7,419.9 1531.4,419.7 1532.0,419.5 1532.7,419.4 1533.4,419.2 1534.0,419.0 1534.7,418.8 1535.4,418.6 1536.0,418.4 1536.7,418.3 1537.3,418.1 1538.0,417.9 1538.7,417.7 1539.3,417.5 1540.0,417.4 1540.7,417.2 1541.3,417.0 1542.0,416.8 1542.6,416.7 1543.3,416.5 1544.0,416.3 1544.6,416.2 1545.3,416.0 1546.0,415.8 1546.6,415.7 1547.3,415.5 1547.9,415.4 1548.6,415.2 1549.3,415.1 1549.9,415.0 1550.6,414.9 1551.3,414.7 1551.9,414.6 1552.6,414.5 1553.2,414.4 1553.9,414.3 1554.6,414.2 1555.2,414.1 1555.9,414.0 1556.6,413.9 1557.2,413.8 1557.9,413.8 1558.5,413.7 1559.2,413.6 1559.9,413.5 1560.5,413.4 1561.2,413.3 1561.8,413.3 1562.5,413.2 1563.2,413.1 1563.8,413.0 1564.5,413.0 1565.2,412.9 1565.8,412.8 1566.5,412.7 1567.1,412.6 1567.8,412.5 1568.5,412.5 1569.1,412.4 1569.8,412.3 1570.5,412.2 1571.1,412.1 1571.8,412.0 1572.4,411.9 1573.1,411.8 1573.8,411.7 1574.4,411.7 1575.1,411.6 1575.8,411.5 1576.4,411.4 1577.1,411.3 1577.7,411.2 1578.4,411.1 1579.1,411.0 1579.7,411.0 1580.4,410.9 1581.1,410.8 1581.7,410.7 1582.4,410.6 1583.0,410.6 1583.7,410.5 1584.4,410.4 1585.0,410.3 1585.7,410.3 1586.4,410.2 1587.0,410.1 1587.7,410.1 1588.3,410.0 1589.0,410.0 1589.7,409.9 1590.3,409.9 1591.0,409.8 1591.6,409.8 1592.3,409.7 1593.0,409.7 1593.6,409.6 1594.3,409.6 1595.0,409.5 1595.6,409.5 1596.3,409.5 1596.9,409.4 1597.6,409.4 1598.3,409.3 1598.9,409.3 1599.6,409.3 1600.3,409.2 1600.9,409.2 1601.6,409.2 1602.2,409.1 1602.9,409.1 1603.6,409.1 1604.2,409.1 1604.9,409.0 1605.6,409.0 1606.2,409.0 1606.9,409.0 1607.5,408.9 1608.2,408.9 1608.9,408.9 1609.5,408.9 1610.2,408.9 1610.9,408.8 1611.5,408.8 1612.2,408.8 1612.8,408.8 1613.5,408.8 1614.2,408.7 1614.8,408.7 1615.5,408.7 1616.1,408.7 1616.8,408.7 1617.5,408.6 1618.1,408.6 1618.8,408.6 1619.5,408.6 1620.1,408.6 1620.8,408.6 1621.4,408.5 1622.1,408.5 1622.8,408.5 1623.4,408.5 1624.1,408.5 1624.8,408.5 1625.4,408.4 1626.1,408.4 1626.7,408.4 1627.4,408.4 1628.1,408.4 1628.7,408.4 1629.4,408.4 1630.1,408.4 1630.7,408.4 1631.4,408.3 1632.0,408.3 1632.7,408.3 1633.4,408.3 1634.0,408.3 1634.7,408.3 1635.4,408.3 1636.0,408.3 1636.7,408.3 1637.3,408.3 1638.0,408.3 1638.7,408.3 1639.3,408.2 1640.0,408.2 1640.7,408.2 1641.3,408.2 1642.0,408.2 1642.6,408.2 1643.3,408.2 1644.0,408.2 1644.6,408.2 1645.3,408.2 1645.9,408.2 1646.6,408.2 1647.3,408.2 1647.9,408.1 1648.6,408.1 1649.3,408.1 1649.9,408.1 1650.6,408.1 1651.2,408.1 1651.9,408.1 1652.6,408.1 1653.2,408.1 1653.9,408.1 1654.6,408.1 1655.2,408.1 1655.9,408.1 1656.5,408.1 1657.2,408.1 1657.9,408.1 1658.5,408.1 1659.2,408.0 1659.9,408.0 1660.5,408.0 1661.2,408.0 1661.8,408.0 1662.5,408.0 1663.2,408.0 1663.8,408.0 1664.5,408.0 1665.2,408.0 1665.8,408.0 1666.5,408.0 1667.1,408.0 1667.8,408.0 1668.5,408.0 1669.1,408.0 1669.8,408.0 1670.4,408.0 1671.1,408.0 1671.8,408.0 1672.4,408.0 1673.1,408.0 1673.8,408.0 1674.4,408.0 1675.1,408.0 1675.7,408.0 1676.4,408.0 1677.1,408.0 1677.7,408.0 1678.4,408.0 1679.1,408.0 1679.7,408.0 1680.4,408.0 1681.0,408.0 1681.7,408.0 1682.4,408.0 1683.0,408.0 1683.7,408.0 1684.4,408.0 1685.0,408.0 1685.7,408.0 1686.3,408.0 1687.0,408.0 1687.7,408.0 1688.3,408.0 1689.0,408.0 1689.7,408.0 1690.3,408.0 1691.0,408.0 1691.6,408.0 1692.3,408.0 1693.0,408.0 1693.6,408.0 1694.3,408.0 1695.0,408.0 1695.6,408.0 1696.3,408.0 1696.9,408.0 1697.6,408.0" fill="none" stroke="#77AC30" stroke-width="2.7" stroke-linejoin="round" stroke-linecap="round" clip-path="url(#cB)"/>
<rect x="1494.5" y="214.3" width="187.8" height="135.7" fill="#fff" stroke="#7a7a7a" stroke-width="1.2"/>
<line x1="1499.3" y1="229" x2="1541.9" y2="229" stroke="#0072BD" stroke-width="2.8"/>
<text x="1546.4" y="237" font-family="'Liberation Sans', sans-serif" font-size="20.3" fill="#262626">Speed 1</text>
<line x1="1499.3" y1="255.7" x2="1541.9" y2="255.7" stroke="#D95319" stroke-width="2.8"/>
<text x="1546.4" y="263.7" font-family="'Liberation Sans', sans-serif" font-size="20.3" fill="#262626">Speed 2</text>
<line x1="1499.3" y1="281.8" x2="1541.9" y2="281.8" stroke="#EDB120" stroke-width="2.8"/>
<text x="1546.4" y="289.8" font-family="'Liberation Sans', sans-serif" font-size="20.3" fill="#262626">Distance 1 &gt; 2</text>
<line x1="1499.3" y1="308.4" x2="1541.9" y2="308.4" stroke="#7E2F8E" stroke-width="2.8"/>
<text x="1546.4" y="316.4" font-family="'Liberation Sans', sans-serif" font-size="20.3" fill="#262626">Speed 3</text>
<line x1="1499.3" y1="335.1" x2="1541.9" y2="335.1" stroke="#77AC30" stroke-width="2.8"/>
<text x="1546.4" y="343.1" font-family="'Liberation Sans', sans-serif" font-size="20.3" fill="#262626">Distance 2 &gt; 3</text>
<text transform="translate(1004.3,284.2) rotate(-90)" text-anchor="middle" font-family="'Liberation Sans', sans-serif" font-size="21" fill="#262626">States</text>
<g stroke="#262626" stroke-opacity="0.6" stroke-width="1.2" fill="none"><rect x="1035.4" y="554.5" width="662.2" height="145.5" fill="none"/><line x1="1035.4" y1="700" x2="1035.4" y2="693.4"/><line x1="1035.4" y1="554.5" x2="1035.4" y2="561.1"/><line x1="1101.62" y1="700" x2="1101.62" y2="693.4"/><line x1="1101.62" y1="554.5" x2="1101.62" y2="561.1"/><line x1="1167.84" y1="700" x2="1167.84" y2="693.4"/><line x1="1167.84" y1="554.5" x2="1167.84" y2="561.1"/><line x1="1234.06" y1="700" x2="1234.06" y2="693.4"/><line x1="1234.06" y1="554.5" x2="1234.06" y2="561.1"/><line x1="1300.28" y1="700" x2="1300.28" y2="693.4"/><line x1="1300.28" y1="554.5" x2="1300.28" y2="561.1"/><line x1="1366.5" y1="700" x2="1366.5" y2="693.4"/><line x1="1366.5" y1="554.5" x2="1366.5" y2="561.1"/><line x1="1432.72" y1="700" x2="1432.72" y2="693.4"/><line x1="1432.72" y1="554.5" x2="1432.72" y2="561.1"/><line x1="1498.94" y1="700" x2="1498.94" y2="693.4"/><line x1="1498.94" y1="554.5" x2="1498.94" y2="561.1"/><line x1="1565.16" y1="700" x2="1565.16" y2="693.4"/><line x1="1565.16" y1="554.5" x2="1565.16" y2="561.1"/><line x1="1631.38" y1="700" x2="1631.38" y2="693.4"/><line x1="1631.38" y1="554.5" x2="1631.38" y2="561.1"/><line x1="1697.6" y1="700" x2="1697.6" y2="693.4"/><line x1="1697.6" y1="554.5" x2="1697.6" y2="561.1"/><line x1="1035.4" y1="700" x2="1042" y2="700"/><line x1="1697.6" y1="700" x2="1691" y2="700"/><line x1="1035.4" y1="651.5" x2="1042" y2="651.5"/><line x1="1697.6" y1="651.5" x2="1691" y2="651.5"/><line x1="1035.4" y1="603" x2="1042" y2="603"/><line x1="1697.6" y1="603" x2="1691" y2="603"/><line x1="1035.4" y1="554.5" x2="1042" y2="554.5"/><line x1="1697.6" y1="554.5" x2="1691" y2="554.5"/></g>
<g font-family="'Liberation Serif', serif" font-size="16" fill="#626262"><text x="1035.4" y="720.2" text-anchor="middle">0</text><text x="1101.62" y="720.2" text-anchor="middle">2</text><text x="1167.84" y="720.2" text-anchor="middle">4</text><text x="1234.06" y="720.2" text-anchor="middle">6</text><text x="1300.28" y="720.2" text-anchor="middle">8</text><text x="1366.5" y="720.2" text-anchor="middle">10</text><text x="1432.72" y="720.2" text-anchor="middle">12</text><text x="1498.94" y="720.2" text-anchor="middle">14</text><text x="1565.16" y="720.2" text-anchor="middle">16</text><text x="1631.38" y="720.2" text-anchor="middle">18</text><text x="1697.6" y="720.2" text-anchor="middle">20</text><text x="1030" y="705" text-anchor="end">0</text><text x="1030" y="656.5" text-anchor="end">0.5</text><text x="1030" y="608" text-anchor="end">1</text><text x="1030" y="559.5" text-anchor="end">1.5</text></g>
<path d="M1041.4 700.0V603.0M1064.5 700.0V603.0M1075.5 700.0V603.0M1084.1 700.0V603.0M1095.0 700.0V603.0M1124.5 700.0V603.0M1154.9 700.0V603.0M1164.9 700.0V603.0M1174.5 700.0V603.0M1194.7 700.0V603.0M1214.9 700.0V603.0M1224.5 700.0V603.0M1244.7 700.0V603.0M1264.5 700.0V603.0M1274.5 700.0V603.0M1284.7 700.0V603.0M1294.7 700.0V603.0M1314.8 700.0V603.0M1346.6 700.0V603.0M1366.8 700.0V603.0M1376.8 700.0V603.0M1385.7 700.0V603.0M1416.2 700.0V603.0M1426.1 700.0V603.0M1455.6 700.0V603.0M1505.6 700.0V603.0" stroke="#0072BD" stroke-width="1.6" fill="none"/>
<g stroke="#0072BD" stroke-width="1.3" fill="none"><circle cx="1041.4" cy="603.0" r="4.3"/><circle cx="1064.5" cy="603.0" r="4.3"/><circle cx="1075.5" cy="603.0" r="4.3"/><circle cx="1084.1" cy="603.0" r="4.3"/><circle cx="1095.0" cy="603.0" r="4.3"/><circle cx="1124.5" cy="603.0" r="4.3"/><circle cx="1154.9" cy="603.0" r="4.3"/><circle cx="1164.9" cy="603.0" r="4.3"/><circle cx="1174.5" cy="603.0" r="4.3"/><circle cx="1194.7" cy="603.0" r="4.3"/><circle cx="1214.9" cy="603.0" r="4.3"/><circle cx="1224.5" cy="603.0" r="4.3"/><circle cx="1244.7" cy="603.0" r="4.3"/><circle cx="1264.5" cy="603.0" r="4.3"/><circle cx="1274.5" cy="603.0" r="4.3"/><circle cx="1284.7" cy="603.0" r="4.3"/><circle cx="1294.7" cy="603.0" r="4.3"/><circle cx="1314.8" cy="603.0" r="4.3"/><circle cx="1346.6" cy="603.0" r="4.3"/><circle cx="1366.8" cy="603.0" r="4.3"/><circle cx="1376.8" cy="603.0" r="4.3"/><circle cx="1385.7" cy="603.0" r="4.3"/><circle cx="1416.2" cy="603.0" r="4.3"/><circle cx="1426.1" cy="603.0" r="4.3"/><circle cx="1455.6" cy="603.0" r="4.3"/><circle cx="1505.6" cy="603.0" r="4.3"/><circle cx="1041.4" cy="651.5" r="4.3"/><circle cx="1064.5" cy="651.5" r="4.3"/><circle cx="1124.5" cy="651.5" r="4.3"/><circle cx="1174.5" cy="651.5" r="4.3"/><circle cx="1224.5" cy="651.5" r="4.3"/><circle cx="1346.6" cy="651.5" r="4.3"/></g>
<line x1="1035.4" y1="700.3" x2="1697.6" y2="700.3" stroke="#0072BD" stroke-width="9.0" stroke-linecap="round"/>
<line x1="1035.4" y1="700" x2="1697.6" y2="700" stroke="#262626" stroke-opacity="0.75" stroke-width="1.2"/>
<path d="M1035.4 701.0V695.4M1101.6 701.0V695.4M1167.8 701.0V695.4M1234.1 701.0V695.4M1300.3 701.0V695.4M1366.5 701.0V695.4M1432.7 701.0V695.4M1498.9 701.0V695.4M1565.2 701.0V695.4M1631.4 701.0V695.4M1697.6 701.0V695.4" stroke="#262626" stroke-opacity="0.6" stroke-width="1.2"/>
<rect x="1393.3" y="567.3" width="278.7" height="21.9" fill="#fff" stroke="#262626" stroke-width="1.4"/>
<line x1="1398.6" y1="578.25" x2="1428.9" y2="578.25" stroke="#0072BD" stroke-width="1.2"/>
<circle cx="1428.9" cy="578.25" r="4.3" fill="none" stroke="#0072BD" stroke-width="1.2"/>
<text x="1445.7" y="582.85" font-family="'Liberation Sans', sans-serif" font-size="13.2" fill="#262626">Percent of Resource Utilization: 15.78</text>
<text transform="translate(1002.5,628.0) rotate(-90)" text-anchor="middle" font-family="'Liberation Sans', sans-serif" font-size="16.2" fill="#262626">Network Usage 1-&gt;2</text>
<g stroke="#262626" stroke-opacity="0.6" stroke-width="1.2" fill="none"><rect x="1035.4" y="730.1" width="662.2" height="145" fill="none"/><line x1="1035.4" y1="875.1" x2="1035.4" y2="868.5"/><line x1="1035.4" y1="730.1" x2="1035.4" y2="736.7"/><line x1="1101.62" y1="875.1" x2="1101.62" y2="868.5"/><line x1="1101.62" y1="730.1" x2="1101.62" y2="736.7"/><line x1="1167.84" y1="875.1" x2="1167.84" y2="868.5"/><line x1="1167.84" y1="730.1" x2="1167.84" y2="736.7"/><line x1="1234.06" y1="875.1" x2="1234.06" y2="868.5"/><line x1="1234.06" y1="730.1" x2="1234.06" y2="736.7"/><line x1="1300.28" y1="875.1" x2="1300.28" y2="868.5"/><line x1="1300.28" y1="730.1" x2="1300.28" y2="736.7"/><line x1="1366.5" y1="875.1" x2="1366.5" y2="868.5"/><line x1="1366.5" y1="730.1" x2="1366.5" y2="736.7"/><line x1="1432.72" y1="875.1" x2="1432.72" y2="868.5"/><line x1="1432.72" y1="730.1" x2="1432.72" y2="736.7"/><line x1="1498.94" y1="875.1" x2="1498.94" y2="868.5"/><line x1="1498.94" y1="730.1" x2="1498.94" y2="736.7"/><line x1="1565.16" y1="875.1" x2="1565.16" y2="868.5"/><line x1="1565.16" y1="730.1" x2="1565.16" y2="736.7"/><line x1="1631.38" y1="875.1" x2="1631.38" y2="868.5"/><line x1="1631.38" y1="730.1" x2="1631.38" y2="736.7"/><line x1="1697.6" y1="875.1" x2="1697.6" y2="868.5"/><line x1="1697.6" y1="730.1" x2="1697.6" y2="736.7"/><line x1="1035.4" y1="875.1" x2="1042" y2="875.1"/><line x1="1697.6" y1="875.1" x2="1691" y2="875.1"/><line x1="1035.4" y1="826.77" x2="1042" y2="826.77"/><line x1="1697.6" y1="826.77" x2="1691" y2="826.77"/><line x1="1035.4" y1="778.43" x2="1042" y2="778.43"/><line x1="1697.6" y1="778.43" x2="1691" y2="778.43"/><line x1="1035.4" y1="730.1" x2="1042" y2="730.1"/><line x1="1697.6" y1="730.1" x2="1691" y2="730.1"/></g>
<g font-family="'Liberation Serif', serif" font-size="16" fill="#626262"><text x="1035.4" y="895.3" text-anchor="middle">0</text><text x="1101.62" y="895.3" text-anchor="middle">2</text><text x="1167.84" y="895.3" text-anchor="middle">4</text><text x="1234.06" y="895.3" text-anchor="middle">6</text><text x="1300.28" y="895.3" text-anchor="middle">8</text><text x="1366.5" y="895.3" text-anchor="middle">10</text><text x="1432.72" y="895.3" text-anchor="middle">12</text><text x="1498.94" y="895.3" text-anchor="middle">14</text><text x="1565.16" y="895.3" text-anchor="middle">16</text><text x="1631.38" y="895.3" text-anchor="middle">18</text><text x="1697.6" y="895.3" text-anchor="middle">20</text><text x="1030" y="880.1" text-anchor="end">0</text><text x="1030" y="831.77" text-anchor="end">0.5</text><text x="1030" y="783.43" text-anchor="end">1</text><text x="1030" y="735.1" text-anchor="end">1.5</text></g>
<path d="M1035.4 875.1V778.4M1036.7 875.1V778.4M1038.0 875.1V778.4M1040.0 875.1V778.4M1041.7 875.1V778.4M1044.7 875.1V778.4M1046.3 875.1V778.4M1048.3 875.1V778.4M1060.9 875.1V778.4M1068.2 875.1V778.4M1071.5 875.1V778.4M1081.4 875.1V778.4M1091.4 875.1V778.4M1101.3 875.1V778.4M1118.2 875.1V778.4M1127.8 875.1V778.4M1130.1 875.1V778.4M1138.0 875.1V778.4M1151.6 875.1V778.4M1160.9 875.1V778.4M1168.2 875.1V778.4M1177.8 875.1V778.4M1191.3 875.1V778.4M1345.6 875.1V778.4M1362.9 875.1V778.4M1405.6 875.1V778.4M1436.0 875.1V778.4M1465.8 875.1V778.4M1482.4 875.1V778.4M1506.2 875.1V778.4" stroke="#0072BD" stroke-width="1.6" fill="none"/>
<g stroke="#0072BD" stroke-width="1.3" fill="none"><circle cx="1035.4" cy="778.4" r="4.3"/><circle cx="1036.7" cy="778.4" r="4.3"/><circle cx="1038.0" cy="778.4" r="4.3"/><circle cx="1040.0" cy="778.4" r="4.3"/><circle cx="1041.7" cy="778.4" r="4.3"/><circle cx="1044.7" cy="778.4" r="4.3"/><circle cx="1046.3" cy="778.4" r="4.3"/><circle cx="1048.3" cy="778.4" r="4.3"/><circle cx="1060.9" cy="778.4" r="4.3"/><circle cx="1068.2" cy="778.4" r="4.3"/><circle cx="1071.5" cy="778.4" r="4.3"/><circle cx="1081.4" cy="778.4" r="4.3"/><circle cx="1091.4" cy="778.4" r="4.3"/><circle cx="1101.3" cy="778.4" r="4.3"/><circle cx="1118.2" cy="778.4" r="4.3"/><circle cx="1127.8" cy="778.4" r="4.3"/><circle cx="1130.1" cy="778.4" r="4.3"/><circle cx="1138.0" cy="778.4" r="4.3"/><circle cx="1151.6" cy="778.4" r="4.3"/><circle cx="1160.9" cy="778.4" r="4.3"/><circle cx="1168.2" cy="778.4" r="4.3"/><circle cx="1177.8" cy="778.4" r="4.3"/><circle cx="1191.3" cy="778.4" r="4.3"/><circle cx="1345.6" cy="778.4" r="4.3"/><circle cx="1362.9" cy="778.4" r="4.3"/><circle cx="1405.6" cy="778.4" r="4.3"/><circle cx="1436.0" cy="778.4" r="4.3"/><circle cx="1465.8" cy="778.4" r="4.3"/><circle cx="1482.4" cy="778.4" r="4.3"/><circle cx="1506.2" cy="778.4" r="4.3"/><circle cx="1037.7" cy="826.8" r="4.3"/><circle cx="1040.7" cy="826.8" r="4.3"/><circle cx="1048.3" cy="826.8" r="4.3"/><circle cx="1081.4" cy="826.8" r="4.3"/><circle cx="1091.4" cy="826.8" r="4.3"/><circle cx="1130.1" cy="826.8" r="4.3"/><circle cx="1138.0" cy="826.8" r="4.3"/><circle cx="1405.6" cy="826.8" r="4.3"/><circle cx="1482.4" cy="826.8" r="4.3"/></g>
<line x1="1035.4" y1="875.4" x2="1697.6" y2="875.4" stroke="#0072BD" stroke-width="9.0" stroke-linecap="round"/>
<line x1="1035.4" y1="875.1" x2="1697.6" y2="875.1" stroke="#262626" stroke-opacity="0.75" stroke-width="1.2"/>
<path d="M1035.4 876.1V870.5M1101.6 876.1V870.5M1167.8 876.1V870.5M1234.1 876.1V870.5M1300.3 876.1V870.5M1366.5 876.1V870.5M1432.7 876.1V870.5M1498.9 876.1V870.5M1565.2 876.1V870.5M1631.4 876.1V870.5M1697.6 876.1V870.5" stroke="#262626" stroke-opacity="0.6" stroke-width="1.2"/>
<rect x="1393.3" y="743.1" width="278.7" height="21.7" fill="#fff" stroke="#262626" stroke-width="1.4"/>
<line x1="1398.6" y1="753.95" x2="1428.9" y2="753.95" stroke="#0072BD" stroke-width="1.2"/>
<circle cx="1428.9" cy="753.95" r="4.3" fill="none" stroke="#0072BD" stroke-width="1.2"/>
<text x="1445.7" y="758.55" font-family="'Liberation Sans', sans-serif" font-size="13.2" fill="#262626">Percent of Resource Utilization: 28.94</text>
<text transform="translate(1002.5,803.2) rotate(-90)" text-anchor="middle" font-family="'Liberation Sans', sans-serif" font-size="16.2" fill="#262626">Network Usage 2-&gt;3</text>
<text x="1364.8" y="925.6" text-anchor="middle" font-family="'Liberation Sans', sans-serif" font-size="20.8" fill="#262626">Time(s)</text>
<g font-family="'Liberation Serif', serif" font-size="46.5" fill="#000"><text x="23.0" y="1035.9" textLength="50.5" lengthAdjust="spacingAndGlyphs">(<tspan font-weight="bold">a</tspan>)</text><text x="83.0" y="1035.9" textLength="713.5" lengthAdjust="spacingAndGlyphs">Closing the feedback loop in the PET</text><text x="56.5" y="1098.1" textLength="201.5" lengthAdjust="spacingAndGlyphs">algorithm,</text><text x="268.0" y="1098.1" textLength="21" lengthAdjust="spacingAndGlyphs" font-style="italic">&#948;</text><text x="290.0" y="1081.5" font-size="34" font-style="italic">i</text><text x="288.0" y="1113.0" font-size="34" font-style="italic">k</text><text x="322.0" y="1100.6" textLength="31.5" lengthAdjust="spacingAndGlyphs">=</text><text x="367.5" y="1098.1" textLength="395.5" lengthAdjust="spacingAndGlyphs">0.45, and packet loss</text><text x="229.5" y="1160.0" textLength="361.0" lengthAdjust="spacingAndGlyphs">probability is 58%.</text><text x="930.0" y="1035.9" textLength="52.5" lengthAdjust="spacingAndGlyphs">(<tspan font-weight="bold">b</tspan>)</text><text x="995.5" y="1035.9" textLength="769.0" lengthAdjust="spacingAndGlyphs">Closing the feedback loop in general ET</text><text x="938.0" y="1098.1" textLength="190.0" lengthAdjust="spacingAndGlyphs">algorithm</text><text x="1141.0" y="1098.1" textLength="14" lengthAdjust="spacingAndGlyphs">(</text><text x="1155.0" y="1098.1" textLength="27" lengthAdjust="spacingAndGlyphs" font-style="italic">E</text><text x="1180.0" y="1081.5" font-size="34" font-style="italic">i</text><text x="1183.0" y="1116.0" font-size="34">1</text><text x="1200.5" y="1116.0" font-size="34">|</text><text x="1207.5" y="1116.0" font-size="34" font-style="italic">k</text><text x="1229.0" y="1098.1" textLength="14" lengthAdjust="spacingAndGlyphs">)</text><text x="1241.0" y="1098.1" textLength="11" lengthAdjust="spacingAndGlyphs">,</text><text x="1263.5" y="1098.1" textLength="21" lengthAdjust="spacingAndGlyphs" font-style="italic">&#948;</text><text x="1285.5" y="1081.5" font-size="34" font-style="italic">i</text><text x="1283.5" y="1113.0" font-size="34" font-style="italic">k</text><text x="1316.5" y="1100.6" textLength="32.5" lengthAdjust="spacingAndGlyphs">=</text><text x="1362.5" y="1098.1" textLength="395.5" lengthAdjust="spacingAndGlyphs">0.45, and packet loss</text><text x="1168.5" y="1160.0" textLength="358.5" lengthAdjust="spacingAndGlyphs">probability is 58%.</text></g>
</svg>
</body></html>
